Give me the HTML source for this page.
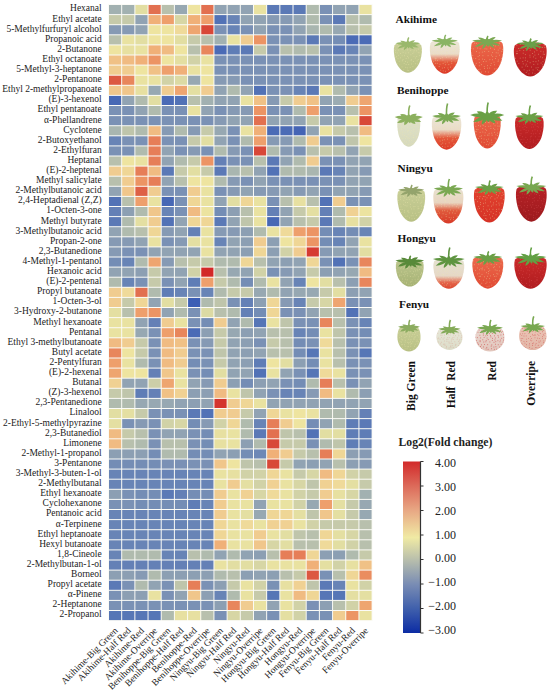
<!DOCTYPE html>
<html><head><meta charset="utf-8"><style>
html,body{margin:0;padding:0;background:#fff;width:550px;height:690px;overflow:hidden}
svg{display:block;font-family:"Liberation Serif",serif;fill:#1a1a1a}
</style></head><body>
<svg width="550" height="690" viewBox="0 0 550 690">
<g font-size="9.5" fill="#222">
<text x="101.7" y="11.45" text-anchor="end">Hexanal</text>
<text x="101.7" y="21.55" text-anchor="end">Ethyl acetate</text>
<text x="101.7" y="31.65" text-anchor="end">5-Methylfurfuryl alcohol</text>
<text x="101.7" y="41.75" text-anchor="end">Propanoic acid</text>
<text x="101.7" y="51.85" text-anchor="end">2-Butanone</text>
<text x="101.7" y="61.95" text-anchor="end">Ethyl octanoate</text>
<text x="101.7" y="72.05" text-anchor="end">5-Methyl-3-heptanone</text>
<text x="101.7" y="82.15" text-anchor="end">2-Pentanone</text>
<text x="101.7" y="92.25" text-anchor="end">Ethyl 2-methylpropanoate</text>
<text x="101.7" y="102.35" text-anchor="end">(E)-3-hexenol</text>
<text x="101.7" y="112.45" text-anchor="end">Ethyl pentanoate</text>
<text x="101.7" y="122.55" text-anchor="end">α-Phellandrene</text>
<text x="101.7" y="132.65" text-anchor="end">Cyclotene</text>
<text x="101.7" y="142.75" text-anchor="end">2-Butoxyethanol</text>
<text x="101.7" y="152.85" text-anchor="end">2-Ethylfuran</text>
<text x="101.7" y="162.95" text-anchor="end">Heptanal</text>
<text x="101.7" y="173.05" text-anchor="end">(E)-2-heptenal</text>
<text x="101.7" y="183.15" text-anchor="end">Methyl salicylate</text>
<text x="101.7" y="193.25" text-anchor="end">2-Methylbutanoic acid</text>
<text x="101.7" y="203.35" text-anchor="end">2,4-Heptadienal (Z,Z)</text>
<text x="101.7" y="213.45" text-anchor="end">1-Octen-3-one</text>
<text x="101.7" y="223.55" text-anchor="end">Methyl butyrate</text>
<text x="101.7" y="233.65" text-anchor="end">3-Methylbutanoic acid</text>
<text x="101.7" y="243.75" text-anchor="end">Propan-2-one</text>
<text x="101.7" y="253.85" text-anchor="end">2,3-Butanedione</text>
<text x="101.7" y="263.95" text-anchor="end">4-Methyl-1-pentanol</text>
<text x="101.7" y="274.05" text-anchor="end">Hexanoic acid</text>
<text x="101.7" y="284.15" text-anchor="end">(E)-2-pentenal</text>
<text x="101.7" y="294.25" text-anchor="end">Propyl butanoate</text>
<text x="101.7" y="304.35" text-anchor="end">1-Octen-3-ol</text>
<text x="101.7" y="314.45" text-anchor="end">3-Hydroxy-2-butanone</text>
<text x="101.7" y="324.55" text-anchor="end">Methyl hexanoate</text>
<text x="101.7" y="334.65" text-anchor="end">Pentanal</text>
<text x="101.7" y="344.75" text-anchor="end">Ethyl 3-methylbutanoate</text>
<text x="101.7" y="354.85" text-anchor="end">Butyl acetate</text>
<text x="101.7" y="364.95" text-anchor="end">2-Pentylfuran</text>
<text x="101.7" y="375.05" text-anchor="end">(E)-2-hexenal</text>
<text x="101.7" y="385.15" text-anchor="end">Butanal</text>
<text x="101.7" y="395.25" text-anchor="end">(Z)-3-hexenol</text>
<text x="101.7" y="405.35" text-anchor="end">2,3-Pentanedione</text>
<text x="101.7" y="415.45" text-anchor="end">Linalool</text>
<text x="101.7" y="425.55" text-anchor="end">2-Ethyl-5-methylpyrazine</text>
<text x="101.7" y="435.65" text-anchor="end">2,3-Butanediol</text>
<text x="101.7" y="445.75" text-anchor="end">Limonene</text>
<text x="101.7" y="455.85" text-anchor="end">2-Methyl-1-propanol</text>
<text x="101.7" y="465.95" text-anchor="end">3-Pentanone</text>
<text x="101.7" y="476.05" text-anchor="end">3-Methyl-3-buten-1-ol</text>
<text x="101.7" y="486.15" text-anchor="end">2-Methylbutanal</text>
<text x="101.7" y="496.25" text-anchor="end">Ethyl hexanoate</text>
<text x="101.7" y="506.35" text-anchor="end">Cyclohexanone</text>
<text x="101.7" y="516.45" text-anchor="end">Pentanoic acid</text>
<text x="101.7" y="526.55" text-anchor="end">α-Terpinene</text>
<text x="101.7" y="536.65" text-anchor="end">Ethyl heptanoate</text>
<text x="101.7" y="546.75" text-anchor="end">Hexyl butanoate</text>
<text x="101.7" y="556.85" text-anchor="end">1,8-Cineole</text>
<text x="101.7" y="566.95" text-anchor="end">2-Methylbutan-1-ol</text>
<text x="101.7" y="577.05" text-anchor="end">Borneol</text>
<text x="101.7" y="587.15" text-anchor="end">Propyl acetate</text>
<text x="101.7" y="597.25" text-anchor="end">α-Pinene</text>
<text x="101.7" y="607.35" text-anchor="end">2-Heptanone</text>
<text x="101.7" y="617.45" text-anchor="end">2-Propanol</text>
<text transform="translate(118.29,631.2) rotate(-45)" text-anchor="end">Akihime-Big Green</text>
<text transform="translate(131.47,631.2) rotate(-45)" text-anchor="end">Akihime-Half Red</text>
<text transform="translate(144.65,631.2) rotate(-45)" text-anchor="end">Akihime-Red</text>
<text transform="translate(157.83,631.2) rotate(-45)" text-anchor="end">Akihime-Overripe</text>
<text transform="translate(171.01,631.2) rotate(-45)" text-anchor="end">Benihoppe-Big Green</text>
<text transform="translate(184.19,631.2) rotate(-45)" text-anchor="end">Benihoppe-Half Red</text>
<text transform="translate(197.37,631.2) rotate(-45)" text-anchor="end">Benihoppe-Red</text>
<text transform="translate(210.55,631.2) rotate(-45)" text-anchor="end">Benihoppe-Overripe</text>
<text transform="translate(223.73,631.2) rotate(-45)" text-anchor="end">Ningyu-Big Green</text>
<text transform="translate(236.91,631.2) rotate(-45)" text-anchor="end">Ningyu-Half Red</text>
<text transform="translate(250.09,631.2) rotate(-45)" text-anchor="end">Ningyu-Red</text>
<text transform="translate(263.27,631.2) rotate(-45)" text-anchor="end">Ningyu-Overripe</text>
<text transform="translate(276.45,631.2) rotate(-45)" text-anchor="end">Hongyu-Big Green</text>
<text transform="translate(289.63,631.2) rotate(-45)" text-anchor="end">Hongyu-Half Red</text>
<text transform="translate(302.81,631.2) rotate(-45)" text-anchor="end">Hongyu-Red</text>
<text transform="translate(315.99,631.2) rotate(-45)" text-anchor="end">Hongyu-Overripe</text>
<text transform="translate(329.17,631.2) rotate(-45)" text-anchor="end">Fenyu-Big Green</text>
<text transform="translate(342.35,631.2) rotate(-45)" text-anchor="end">Fenyu-Half Red</text>
<text transform="translate(355.53,631.2) rotate(-45)" text-anchor="end">Fenyu-Red</text>
<text transform="translate(368.71,631.2) rotate(-45)" text-anchor="end">Fenyu-Overripe</text>
</g>
<rect x="108.0" y="4.0" width="264.60" height="617.10" fill="#fbfbf6"/>
<rect x="109.00" y="5.00" width="12.18" height="9.10" fill="#a2b1b1"/>
<rect x="122.18" y="5.00" width="12.18" height="9.10" fill="#a2b1b1"/>
<rect x="135.36" y="5.00" width="12.18" height="9.10" fill="#e2dea2"/>
<rect x="148.54" y="5.00" width="12.18" height="9.10" fill="#e27050"/>
<rect x="161.72" y="5.00" width="12.18" height="9.10" fill="#b8c0ad"/>
<rect x="174.90" y="5.00" width="12.18" height="9.10" fill="#97a8b2"/>
<rect x="188.08" y="5.00" width="12.18" height="9.10" fill="#eee4a0"/>
<rect x="201.26" y="5.00" width="12.18" height="9.10" fill="#e27050"/>
<rect x="214.44" y="5.00" width="12.18" height="9.10" fill="#91a3b3"/>
<rect x="227.62" y="5.00" width="12.18" height="9.10" fill="#91a3b3"/>
<rect x="240.80" y="5.00" width="12.18" height="9.10" fill="#91a3b3"/>
<rect x="253.98" y="5.00" width="12.18" height="9.10" fill="#e9e2a1"/>
<rect x="267.16" y="5.00" width="12.18" height="9.10" fill="#5b79b6"/>
<rect x="280.34" y="5.00" width="12.18" height="9.10" fill="#5b79b6"/>
<rect x="293.52" y="5.00" width="12.18" height="9.10" fill="#5b79b6"/>
<rect x="306.70" y="5.00" width="12.18" height="9.10" fill="#b0bbae"/>
<rect x="319.88" y="5.00" width="12.18" height="9.10" fill="#7a91b5"/>
<rect x="333.06" y="5.00" width="12.18" height="9.10" fill="#91a3b3"/>
<rect x="346.24" y="5.00" width="12.18" height="9.10" fill="#91a3b3"/>
<rect x="359.42" y="5.00" width="12.18" height="9.10" fill="#e9e2a1"/>
<rect x="109.00" y="15.10" width="12.18" height="9.10" fill="#c6caaa"/>
<rect x="122.18" y="15.10" width="12.18" height="9.10" fill="#c6caaa"/>
<rect x="135.36" y="15.10" width="12.18" height="9.10" fill="#91a3b3"/>
<rect x="148.54" y="15.10" width="12.18" height="9.10" fill="#f0b078"/>
<rect x="161.72" y="15.10" width="12.18" height="9.10" fill="#ee9f6c"/>
<rect x="174.90" y="15.10" width="12.18" height="9.10" fill="#d7d6a5"/>
<rect x="188.08" y="15.10" width="12.18" height="9.10" fill="#f0b078"/>
<rect x="201.26" y="15.10" width="12.18" height="9.10" fill="#ee9f6c"/>
<rect x="214.44" y="15.10" width="12.18" height="9.10" fill="#5272b6"/>
<rect x="227.62" y="15.10" width="12.18" height="9.10" fill="#6884b6"/>
<rect x="240.80" y="15.10" width="12.18" height="9.10" fill="#91a3b3"/>
<rect x="253.98" y="15.10" width="12.18" height="9.10" fill="#91a3b3"/>
<rect x="267.16" y="15.10" width="12.18" height="9.10" fill="#869ab4"/>
<rect x="280.34" y="15.10" width="12.18" height="9.10" fill="#869ab4"/>
<rect x="293.52" y="15.10" width="12.18" height="9.10" fill="#91a3b3"/>
<rect x="306.70" y="15.10" width="12.18" height="9.10" fill="#b0bbae"/>
<rect x="319.88" y="15.10" width="12.18" height="9.10" fill="#7a91b5"/>
<rect x="333.06" y="15.10" width="12.18" height="9.10" fill="#5b79b6"/>
<rect x="346.24" y="15.10" width="12.18" height="9.10" fill="#b8c0ad"/>
<rect x="359.42" y="15.10" width="12.18" height="9.10" fill="#b0bbae"/>
<rect x="109.00" y="25.20" width="12.18" height="9.10" fill="#869ab4"/>
<rect x="122.18" y="25.20" width="12.18" height="9.10" fill="#869ab4"/>
<rect x="135.36" y="25.20" width="12.18" height="9.10" fill="#91a3b3"/>
<rect x="148.54" y="25.20" width="12.18" height="9.10" fill="#eee4a0"/>
<rect x="161.72" y="25.20" width="12.18" height="9.10" fill="#eee4a0"/>
<rect x="174.90" y="25.20" width="12.18" height="9.10" fill="#efda9a"/>
<rect x="188.08" y="25.20" width="12.18" height="9.10" fill="#eea570"/>
<rect x="201.26" y="25.20" width="12.18" height="9.10" fill="#d84838"/>
<rect x="214.44" y="25.20" width="12.18" height="9.10" fill="#7a91b5"/>
<rect x="227.62" y="25.20" width="12.18" height="9.10" fill="#6884b6"/>
<rect x="240.80" y="25.20" width="12.18" height="9.10" fill="#7a91b5"/>
<rect x="253.98" y="25.20" width="12.18" height="9.10" fill="#91a3b3"/>
<rect x="267.16" y="25.20" width="12.18" height="9.10" fill="#7a91b5"/>
<rect x="280.34" y="25.20" width="12.18" height="9.10" fill="#7a91b5"/>
<rect x="293.52" y="25.20" width="12.18" height="9.10" fill="#91a3b3"/>
<rect x="306.70" y="25.20" width="12.18" height="9.10" fill="#a9b6b0"/>
<rect x="319.88" y="25.20" width="12.18" height="9.10" fill="#b0bbae"/>
<rect x="333.06" y="25.20" width="12.18" height="9.10" fill="#97a8b2"/>
<rect x="346.24" y="25.20" width="12.18" height="9.10" fill="#b8c0ad"/>
<rect x="359.42" y="25.20" width="12.18" height="9.10" fill="#c6caaa"/>
<rect x="109.00" y="35.30" width="12.18" height="9.10" fill="#b8c0ad"/>
<rect x="122.18" y="35.30" width="12.18" height="9.10" fill="#e9e2a1"/>
<rect x="135.36" y="35.30" width="12.18" height="9.10" fill="#e2dea2"/>
<rect x="148.54" y="35.30" width="12.18" height="9.10" fill="#eee4a0"/>
<rect x="161.72" y="35.30" width="12.18" height="9.10" fill="#eee4a0"/>
<rect x="174.90" y="35.30" width="12.18" height="9.10" fill="#e2dea2"/>
<rect x="188.08" y="35.30" width="12.18" height="9.10" fill="#c6caaa"/>
<rect x="201.26" y="35.30" width="12.18" height="9.10" fill="#b8c0ad"/>
<rect x="214.44" y="35.30" width="12.18" height="9.10" fill="#a2b1b1"/>
<rect x="227.62" y="35.30" width="12.18" height="9.10" fill="#e9e2a1"/>
<rect x="240.80" y="35.30" width="12.18" height="9.10" fill="#f0cc90"/>
<rect x="253.98" y="35.30" width="12.18" height="9.10" fill="#ec9464"/>
<rect x="267.16" y="35.30" width="12.18" height="9.10" fill="#7a91b5"/>
<rect x="280.34" y="35.30" width="12.18" height="9.10" fill="#7a91b5"/>
<rect x="293.52" y="35.30" width="12.18" height="9.10" fill="#7a91b5"/>
<rect x="306.70" y="35.30" width="12.18" height="9.10" fill="#5b79b6"/>
<rect x="319.88" y="35.30" width="12.18" height="9.10" fill="#7a91b5"/>
<rect x="333.06" y="35.30" width="12.18" height="9.10" fill="#748db5"/>
<rect x="346.24" y="35.30" width="12.18" height="9.10" fill="#4b6bb6"/>
<rect x="359.42" y="35.30" width="12.18" height="9.10" fill="#4b6bb6"/>
<rect x="109.00" y="45.40" width="12.18" height="9.10" fill="#eee4a0"/>
<rect x="122.18" y="45.40" width="12.18" height="9.10" fill="#e7e0a1"/>
<rect x="135.36" y="45.40" width="12.18" height="9.10" fill="#e9e2a1"/>
<rect x="148.54" y="45.40" width="12.18" height="9.10" fill="#f0b078"/>
<rect x="161.72" y="45.40" width="12.18" height="9.10" fill="#f0bb82"/>
<rect x="174.90" y="45.40" width="12.18" height="9.10" fill="#eee4a0"/>
<rect x="188.08" y="45.40" width="12.18" height="9.10" fill="#b8c0ad"/>
<rect x="201.26" y="45.40" width="12.18" height="9.10" fill="#e8865c"/>
<rect x="214.44" y="45.40" width="12.18" height="9.10" fill="#4b6bb6"/>
<rect x="227.62" y="45.40" width="12.18" height="9.10" fill="#5f7db6"/>
<rect x="240.80" y="45.40" width="12.18" height="9.10" fill="#5b79b6"/>
<rect x="253.98" y="45.40" width="12.18" height="9.10" fill="#c6caaa"/>
<rect x="267.16" y="45.40" width="12.18" height="9.10" fill="#7a91b5"/>
<rect x="280.34" y="45.40" width="12.18" height="9.10" fill="#b8c0ad"/>
<rect x="293.52" y="45.40" width="12.18" height="9.10" fill="#b0bbae"/>
<rect x="306.70" y="45.40" width="12.18" height="9.10" fill="#b8c0ad"/>
<rect x="319.88" y="45.40" width="12.18" height="9.10" fill="#7a91b5"/>
<rect x="333.06" y="45.40" width="12.18" height="9.10" fill="#5b79b6"/>
<rect x="346.24" y="45.40" width="12.18" height="9.10" fill="#6884b6"/>
<rect x="359.42" y="45.40" width="12.18" height="9.10" fill="#91a3b3"/>
<rect x="109.00" y="55.50" width="12.18" height="9.10" fill="#f0c186"/>
<rect x="122.18" y="55.50" width="12.18" height="9.10" fill="#f0bb82"/>
<rect x="135.36" y="55.50" width="12.18" height="9.10" fill="#f0b078"/>
<rect x="148.54" y="55.50" width="12.18" height="9.10" fill="#ec9464"/>
<rect x="161.72" y="55.50" width="12.18" height="9.10" fill="#eee4a0"/>
<rect x="174.90" y="55.50" width="12.18" height="9.10" fill="#e4dfa2"/>
<rect x="188.08" y="55.50" width="12.18" height="9.10" fill="#d1d2a7"/>
<rect x="201.26" y="55.50" width="12.18" height="9.10" fill="#e9e2a1"/>
<rect x="214.44" y="55.50" width="12.18" height="9.10" fill="#7a91b5"/>
<rect x="227.62" y="55.50" width="12.18" height="9.10" fill="#7a91b5"/>
<rect x="240.80" y="55.50" width="12.18" height="9.10" fill="#7a91b5"/>
<rect x="253.98" y="55.50" width="12.18" height="9.10" fill="#7a91b5"/>
<rect x="267.16" y="55.50" width="12.18" height="9.10" fill="#7a91b5"/>
<rect x="280.34" y="55.50" width="12.18" height="9.10" fill="#7a91b5"/>
<rect x="293.52" y="55.50" width="12.18" height="9.10" fill="#7a91b5"/>
<rect x="306.70" y="55.50" width="12.18" height="9.10" fill="#7a91b5"/>
<rect x="319.88" y="55.50" width="12.18" height="9.10" fill="#7a91b5"/>
<rect x="333.06" y="55.50" width="12.18" height="9.10" fill="#7a91b5"/>
<rect x="346.24" y="55.50" width="12.18" height="9.10" fill="#7a91b5"/>
<rect x="359.42" y="55.50" width="12.18" height="9.10" fill="#7a91b5"/>
<rect x="109.00" y="65.60" width="12.18" height="9.10" fill="#f0cc90"/>
<rect x="122.18" y="65.60" width="12.18" height="9.10" fill="#f0cc90"/>
<rect x="135.36" y="65.60" width="12.18" height="9.10" fill="#eee4a0"/>
<rect x="148.54" y="65.60" width="12.18" height="9.10" fill="#f0c186"/>
<rect x="161.72" y="65.60" width="12.18" height="9.10" fill="#ee9f6c"/>
<rect x="174.90" y="65.60" width="12.18" height="9.10" fill="#f0b078"/>
<rect x="188.08" y="65.60" width="12.18" height="9.10" fill="#e9e2a1"/>
<rect x="201.26" y="65.60" width="12.18" height="9.10" fill="#eee4a0"/>
<rect x="214.44" y="65.60" width="12.18" height="9.10" fill="#7a91b5"/>
<rect x="227.62" y="65.60" width="12.18" height="9.10" fill="#7a91b5"/>
<rect x="240.80" y="65.60" width="12.18" height="9.10" fill="#7a91b5"/>
<rect x="253.98" y="65.60" width="12.18" height="9.10" fill="#7a91b5"/>
<rect x="267.16" y="65.60" width="12.18" height="9.10" fill="#7a91b5"/>
<rect x="280.34" y="65.60" width="12.18" height="9.10" fill="#7a91b5"/>
<rect x="293.52" y="65.60" width="12.18" height="9.10" fill="#7a91b5"/>
<rect x="306.70" y="65.60" width="12.18" height="9.10" fill="#7a91b5"/>
<rect x="319.88" y="65.60" width="12.18" height="9.10" fill="#7a91b5"/>
<rect x="333.06" y="65.60" width="12.18" height="9.10" fill="#7a91b5"/>
<rect x="346.24" y="65.60" width="12.18" height="9.10" fill="#7a91b5"/>
<rect x="359.42" y="65.60" width="12.18" height="9.10" fill="#7a91b5"/>
<rect x="109.00" y="75.70" width="12.18" height="9.10" fill="#dc5842"/>
<rect x="122.18" y="75.70" width="12.18" height="9.10" fill="#e8865c"/>
<rect x="135.36" y="75.70" width="12.18" height="9.10" fill="#e9e2a1"/>
<rect x="148.54" y="75.70" width="12.18" height="9.10" fill="#e9e2a1"/>
<rect x="161.72" y="75.70" width="12.18" height="9.10" fill="#d1d2a7"/>
<rect x="174.90" y="75.70" width="12.18" height="9.10" fill="#dcdaa4"/>
<rect x="188.08" y="75.70" width="12.18" height="9.10" fill="#97a8b2"/>
<rect x="201.26" y="75.70" width="12.18" height="9.10" fill="#eee4a0"/>
<rect x="214.44" y="75.70" width="12.18" height="9.10" fill="#869ab4"/>
<rect x="227.62" y="75.70" width="12.18" height="9.10" fill="#869ab4"/>
<rect x="240.80" y="75.70" width="12.18" height="9.10" fill="#7a91b5"/>
<rect x="253.98" y="75.70" width="12.18" height="9.10" fill="#7a91b5"/>
<rect x="267.16" y="75.70" width="12.18" height="9.10" fill="#7a91b5"/>
<rect x="280.34" y="75.70" width="12.18" height="9.10" fill="#7a91b5"/>
<rect x="293.52" y="75.70" width="12.18" height="9.10" fill="#7a91b5"/>
<rect x="306.70" y="75.70" width="12.18" height="9.10" fill="#7a91b5"/>
<rect x="319.88" y="75.70" width="12.18" height="9.10" fill="#7a91b5"/>
<rect x="333.06" y="75.70" width="12.18" height="9.10" fill="#7a91b5"/>
<rect x="346.24" y="75.70" width="12.18" height="9.10" fill="#7a91b5"/>
<rect x="359.42" y="75.70" width="12.18" height="9.10" fill="#7a91b5"/>
<rect x="109.00" y="85.80" width="12.18" height="9.10" fill="#f0c68b"/>
<rect x="122.18" y="85.80" width="12.18" height="9.10" fill="#f0c68b"/>
<rect x="135.36" y="85.80" width="12.18" height="9.10" fill="#e7e0a1"/>
<rect x="148.54" y="85.80" width="12.18" height="9.10" fill="#97a8b2"/>
<rect x="161.72" y="85.80" width="12.18" height="9.10" fill="#f0cc90"/>
<rect x="174.90" y="85.80" width="12.18" height="9.10" fill="#eea570"/>
<rect x="188.08" y="85.80" width="12.18" height="9.10" fill="#e4dfa2"/>
<rect x="201.26" y="85.80" width="12.18" height="9.10" fill="#f0cc90"/>
<rect x="214.44" y="85.80" width="12.18" height="9.10" fill="#91a3b3"/>
<rect x="227.62" y="85.80" width="12.18" height="9.10" fill="#b0bbae"/>
<rect x="240.80" y="85.80" width="12.18" height="9.10" fill="#91a3b3"/>
<rect x="253.98" y="85.80" width="12.18" height="9.10" fill="#5272b6"/>
<rect x="267.16" y="85.80" width="12.18" height="9.10" fill="#7a91b5"/>
<rect x="280.34" y="85.80" width="12.18" height="9.10" fill="#7a91b5"/>
<rect x="293.52" y="85.80" width="12.18" height="9.10" fill="#6884b6"/>
<rect x="306.70" y="85.80" width="12.18" height="9.10" fill="#5b79b6"/>
<rect x="319.88" y="85.80" width="12.18" height="9.10" fill="#e9e2a1"/>
<rect x="333.06" y="85.80" width="12.18" height="9.10" fill="#b0bbae"/>
<rect x="346.24" y="85.80" width="12.18" height="9.10" fill="#91a3b3"/>
<rect x="359.42" y="85.80" width="12.18" height="9.10" fill="#7a91b5"/>
<rect x="109.00" y="95.90" width="12.18" height="9.10" fill="#4768b5"/>
<rect x="122.18" y="95.90" width="12.18" height="9.10" fill="#91a3b3"/>
<rect x="135.36" y="95.90" width="12.18" height="9.10" fill="#b0bbae"/>
<rect x="148.54" y="95.90" width="12.18" height="9.10" fill="#e2dea2"/>
<rect x="161.72" y="95.90" width="12.18" height="9.10" fill="#4b6bb6"/>
<rect x="174.90" y="95.90" width="12.18" height="9.10" fill="#5272b6"/>
<rect x="188.08" y="95.90" width="12.18" height="9.10" fill="#b8c0ad"/>
<rect x="201.26" y="95.90" width="12.18" height="9.10" fill="#a2b1b1"/>
<rect x="214.44" y="95.90" width="12.18" height="9.10" fill="#91a3b3"/>
<rect x="227.62" y="95.90" width="12.18" height="9.10" fill="#91a3b3"/>
<rect x="240.80" y="95.90" width="12.18" height="9.10" fill="#e9e2a1"/>
<rect x="253.98" y="95.90" width="12.18" height="9.10" fill="#f0c186"/>
<rect x="267.16" y="95.90" width="12.18" height="9.10" fill="#869ab4"/>
<rect x="280.34" y="95.90" width="12.18" height="9.10" fill="#c6caaa"/>
<rect x="293.52" y="95.90" width="12.18" height="9.10" fill="#f0cc90"/>
<rect x="306.70" y="95.90" width="12.18" height="9.10" fill="#f0c186"/>
<rect x="319.88" y="95.90" width="12.18" height="9.10" fill="#91a3b3"/>
<rect x="333.06" y="95.90" width="12.18" height="9.10" fill="#9cacb2"/>
<rect x="346.24" y="95.90" width="12.18" height="9.10" fill="#f0cc90"/>
<rect x="359.42" y="95.90" width="12.18" height="9.10" fill="#eea570"/>
<rect x="109.00" y="106.00" width="12.18" height="9.10" fill="#7a91b5"/>
<rect x="122.18" y="106.00" width="12.18" height="9.10" fill="#7a91b5"/>
<rect x="135.36" y="106.00" width="12.18" height="9.10" fill="#91a3b3"/>
<rect x="148.54" y="106.00" width="12.18" height="9.10" fill="#b0bbae"/>
<rect x="161.72" y="106.00" width="12.18" height="9.10" fill="#7a91b5"/>
<rect x="174.90" y="106.00" width="12.18" height="9.10" fill="#7a91b5"/>
<rect x="188.08" y="106.00" width="12.18" height="9.10" fill="#e9e2a1"/>
<rect x="201.26" y="106.00" width="12.18" height="9.10" fill="#91a3b3"/>
<rect x="214.44" y="106.00" width="12.18" height="9.10" fill="#7a91b5"/>
<rect x="227.62" y="106.00" width="12.18" height="9.10" fill="#869ab4"/>
<rect x="240.80" y="106.00" width="12.18" height="9.10" fill="#869ab4"/>
<rect x="253.98" y="106.00" width="12.18" height="9.10" fill="#ec9464"/>
<rect x="267.16" y="106.00" width="12.18" height="9.10" fill="#7a91b5"/>
<rect x="280.34" y="106.00" width="12.18" height="9.10" fill="#7a91b5"/>
<rect x="293.52" y="106.00" width="12.18" height="9.10" fill="#b0bbae"/>
<rect x="306.70" y="106.00" width="12.18" height="9.10" fill="#ee9f6c"/>
<rect x="319.88" y="106.00" width="12.18" height="9.10" fill="#7a91b5"/>
<rect x="333.06" y="106.00" width="12.18" height="9.10" fill="#7a91b5"/>
<rect x="346.24" y="106.00" width="12.18" height="9.10" fill="#b8c0ad"/>
<rect x="359.42" y="106.00" width="12.18" height="9.10" fill="#ec9464"/>
<rect x="109.00" y="116.10" width="12.18" height="9.10" fill="#7a91b5"/>
<rect x="122.18" y="116.10" width="12.18" height="9.10" fill="#7a91b5"/>
<rect x="135.36" y="116.10" width="12.18" height="9.10" fill="#7a91b5"/>
<rect x="148.54" y="116.10" width="12.18" height="9.10" fill="#7a91b5"/>
<rect x="161.72" y="116.10" width="12.18" height="9.10" fill="#7a91b5"/>
<rect x="174.90" y="116.10" width="12.18" height="9.10" fill="#7a91b5"/>
<rect x="188.08" y="116.10" width="12.18" height="9.10" fill="#7a91b5"/>
<rect x="201.26" y="116.10" width="12.18" height="9.10" fill="#7a91b5"/>
<rect x="214.44" y="116.10" width="12.18" height="9.10" fill="#869ab4"/>
<rect x="227.62" y="116.10" width="12.18" height="9.10" fill="#91a3b3"/>
<rect x="240.80" y="116.10" width="12.18" height="9.10" fill="#91a3b3"/>
<rect x="253.98" y="116.10" width="12.18" height="9.10" fill="#e27050"/>
<rect x="267.16" y="116.10" width="12.18" height="9.10" fill="#91a3b3"/>
<rect x="280.34" y="116.10" width="12.18" height="9.10" fill="#91a3b3"/>
<rect x="293.52" y="116.10" width="12.18" height="9.10" fill="#91a3b3"/>
<rect x="306.70" y="116.10" width="12.18" height="9.10" fill="#c6caaa"/>
<rect x="319.88" y="116.10" width="12.18" height="9.10" fill="#91a3b3"/>
<rect x="333.06" y="116.10" width="12.18" height="9.10" fill="#91a3b3"/>
<rect x="346.24" y="116.10" width="12.18" height="9.10" fill="#e9e2a1"/>
<rect x="359.42" y="116.10" width="12.18" height="9.10" fill="#d84838"/>
<rect x="109.00" y="126.20" width="12.18" height="9.10" fill="#a9b6b0"/>
<rect x="122.18" y="126.20" width="12.18" height="9.10" fill="#bfc5ab"/>
<rect x="135.36" y="126.20" width="12.18" height="9.10" fill="#b0bbae"/>
<rect x="148.54" y="126.20" width="12.18" height="9.10" fill="#f0bb82"/>
<rect x="161.72" y="126.20" width="12.18" height="9.10" fill="#869ab4"/>
<rect x="174.90" y="126.20" width="12.18" height="9.10" fill="#b0bbae"/>
<rect x="188.08" y="126.20" width="12.18" height="9.10" fill="#869ab4"/>
<rect x="201.26" y="126.20" width="12.18" height="9.10" fill="#c6caaa"/>
<rect x="214.44" y="126.20" width="12.18" height="9.10" fill="#97a8b2"/>
<rect x="227.62" y="126.20" width="12.18" height="9.10" fill="#7a91b5"/>
<rect x="240.80" y="126.20" width="12.18" height="9.10" fill="#e9e2a1"/>
<rect x="253.98" y="126.20" width="12.18" height="9.10" fill="#f0b078"/>
<rect x="267.16" y="126.20" width="12.18" height="9.10" fill="#4b6bb6"/>
<rect x="280.34" y="126.20" width="12.18" height="9.10" fill="#4b6bb6"/>
<rect x="293.52" y="126.20" width="12.18" height="9.10" fill="#4464b5"/>
<rect x="306.70" y="126.20" width="12.18" height="9.10" fill="#91a3b3"/>
<rect x="319.88" y="126.20" width="12.18" height="9.10" fill="#e9e2a1"/>
<rect x="333.06" y="126.20" width="12.18" height="9.10" fill="#c6caaa"/>
<rect x="346.24" y="126.20" width="12.18" height="9.10" fill="#b8c0ad"/>
<rect x="359.42" y="126.20" width="12.18" height="9.10" fill="#f0bb82"/>
<rect x="109.00" y="136.30" width="12.18" height="9.10" fill="#6884b6"/>
<rect x="122.18" y="136.30" width="12.18" height="9.10" fill="#7a91b5"/>
<rect x="135.36" y="136.30" width="12.18" height="9.10" fill="#7a91b5"/>
<rect x="148.54" y="136.30" width="12.18" height="9.10" fill="#e67e58"/>
<rect x="161.72" y="136.30" width="12.18" height="9.10" fill="#7a91b5"/>
<rect x="174.90" y="136.30" width="12.18" height="9.10" fill="#7a91b5"/>
<rect x="188.08" y="136.30" width="12.18" height="9.10" fill="#c6caaa"/>
<rect x="201.26" y="136.30" width="12.18" height="9.10" fill="#e2dea2"/>
<rect x="214.44" y="136.30" width="12.18" height="9.10" fill="#91a3b3"/>
<rect x="227.62" y="136.30" width="12.18" height="9.10" fill="#7a91b5"/>
<rect x="240.80" y="136.30" width="12.18" height="9.10" fill="#b0bbae"/>
<rect x="253.98" y="136.30" width="12.18" height="9.10" fill="#ee9f6c"/>
<rect x="267.16" y="136.30" width="12.18" height="9.10" fill="#869ab4"/>
<rect x="280.34" y="136.30" width="12.18" height="9.10" fill="#869ab4"/>
<rect x="293.52" y="136.30" width="12.18" height="9.10" fill="#b0bbae"/>
<rect x="306.70" y="136.30" width="12.18" height="9.10" fill="#f0cc90"/>
<rect x="319.88" y="136.30" width="12.18" height="9.10" fill="#7a91b5"/>
<rect x="333.06" y="136.30" width="12.18" height="9.10" fill="#7a91b5"/>
<rect x="346.24" y="136.30" width="12.18" height="9.10" fill="#bfc5ab"/>
<rect x="359.42" y="136.30" width="12.18" height="9.10" fill="#eee4a0"/>
<rect x="109.00" y="146.40" width="12.18" height="9.10" fill="#7a91b5"/>
<rect x="122.18" y="146.40" width="12.18" height="9.10" fill="#7a91b5"/>
<rect x="135.36" y="146.40" width="12.18" height="9.10" fill="#b0bbae"/>
<rect x="148.54" y="146.40" width="12.18" height="9.10" fill="#e67e58"/>
<rect x="161.72" y="146.40" width="12.18" height="9.10" fill="#91a3b3"/>
<rect x="174.90" y="146.40" width="12.18" height="9.10" fill="#7a91b5"/>
<rect x="188.08" y="146.40" width="12.18" height="9.10" fill="#869ab4"/>
<rect x="201.26" y="146.40" width="12.18" height="9.10" fill="#7a91b5"/>
<rect x="214.44" y="146.40" width="12.18" height="9.10" fill="#b0bbae"/>
<rect x="227.62" y="146.40" width="12.18" height="9.10" fill="#869ab4"/>
<rect x="240.80" y="146.40" width="12.18" height="9.10" fill="#7a91b5"/>
<rect x="253.98" y="146.40" width="12.18" height="9.10" fill="#d84838"/>
<rect x="267.16" y="146.40" width="12.18" height="9.10" fill="#b0bbae"/>
<rect x="280.34" y="146.40" width="12.18" height="9.10" fill="#869ab4"/>
<rect x="293.52" y="146.40" width="12.18" height="9.10" fill="#7a91b5"/>
<rect x="306.70" y="146.40" width="12.18" height="9.10" fill="#b8c0ad"/>
<rect x="319.88" y="146.40" width="12.18" height="9.10" fill="#c6caaa"/>
<rect x="333.06" y="146.40" width="12.18" height="9.10" fill="#b8c0ad"/>
<rect x="346.24" y="146.40" width="12.18" height="9.10" fill="#91a3b3"/>
<rect x="359.42" y="146.40" width="12.18" height="9.10" fill="#c6caaa"/>
<rect x="109.00" y="156.50" width="12.18" height="9.10" fill="#b8c0ad"/>
<rect x="122.18" y="156.50" width="12.18" height="9.10" fill="#eee4a0"/>
<rect x="135.36" y="156.50" width="12.18" height="9.10" fill="#e9e2a1"/>
<rect x="148.54" y="156.50" width="12.18" height="9.10" fill="#e67e58"/>
<rect x="161.72" y="156.50" width="12.18" height="9.10" fill="#91a3b3"/>
<rect x="174.90" y="156.50" width="12.18" height="9.10" fill="#b0bbae"/>
<rect x="188.08" y="156.50" width="12.18" height="9.10" fill="#c6caaa"/>
<rect x="201.26" y="156.50" width="12.18" height="9.10" fill="#ec9464"/>
<rect x="214.44" y="156.50" width="12.18" height="9.10" fill="#6480b6"/>
<rect x="227.62" y="156.50" width="12.18" height="9.10" fill="#7a91b5"/>
<rect x="240.80" y="156.50" width="12.18" height="9.10" fill="#7a91b5"/>
<rect x="253.98" y="156.50" width="12.18" height="9.10" fill="#b8c0ad"/>
<rect x="267.16" y="156.50" width="12.18" height="9.10" fill="#5b79b6"/>
<rect x="280.34" y="156.50" width="12.18" height="9.10" fill="#91a3b3"/>
<rect x="293.52" y="156.50" width="12.18" height="9.10" fill="#b0bbae"/>
<rect x="306.70" y="156.50" width="12.18" height="9.10" fill="#f0cc90"/>
<rect x="319.88" y="156.50" width="12.18" height="9.10" fill="#7a91b5"/>
<rect x="333.06" y="156.50" width="12.18" height="9.10" fill="#7a91b5"/>
<rect x="346.24" y="156.50" width="12.18" height="9.10" fill="#91a3b3"/>
<rect x="359.42" y="156.50" width="12.18" height="9.10" fill="#91a3b3"/>
<rect x="109.00" y="166.60" width="12.18" height="9.10" fill="#f0cc90"/>
<rect x="122.18" y="166.60" width="12.18" height="9.10" fill="#efd696"/>
<rect x="135.36" y="166.60" width="12.18" height="9.10" fill="#e67e58"/>
<rect x="148.54" y="166.60" width="12.18" height="9.10" fill="#f0bb82"/>
<rect x="161.72" y="166.60" width="12.18" height="9.10" fill="#5b79b6"/>
<rect x="174.90" y="166.60" width="12.18" height="9.10" fill="#c6caaa"/>
<rect x="188.08" y="166.60" width="12.18" height="9.10" fill="#e2dea2"/>
<rect x="201.26" y="166.60" width="12.18" height="9.10" fill="#c6caaa"/>
<rect x="214.44" y="166.60" width="12.18" height="9.10" fill="#5b79b6"/>
<rect x="227.62" y="166.60" width="12.18" height="9.10" fill="#a9b6b0"/>
<rect x="240.80" y="166.60" width="12.18" height="9.10" fill="#b8c0ad"/>
<rect x="253.98" y="166.60" width="12.18" height="9.10" fill="#91a3b3"/>
<rect x="267.16" y="166.60" width="12.18" height="9.10" fill="#5272b6"/>
<rect x="280.34" y="166.60" width="12.18" height="9.10" fill="#b0bbae"/>
<rect x="293.52" y="166.60" width="12.18" height="9.10" fill="#b0bbae"/>
<rect x="306.70" y="166.60" width="12.18" height="9.10" fill="#a9b6b0"/>
<rect x="319.88" y="166.60" width="12.18" height="9.10" fill="#5b79b6"/>
<rect x="333.06" y="166.60" width="12.18" height="9.10" fill="#6884b6"/>
<rect x="346.24" y="166.60" width="12.18" height="9.10" fill="#91a3b3"/>
<rect x="359.42" y="166.60" width="12.18" height="9.10" fill="#869ab4"/>
<rect x="109.00" y="176.70" width="12.18" height="9.10" fill="#b8c0ad"/>
<rect x="122.18" y="176.70" width="12.18" height="9.10" fill="#f0cc90"/>
<rect x="135.36" y="176.70" width="12.18" height="9.10" fill="#ec9464"/>
<rect x="148.54" y="176.70" width="12.18" height="9.10" fill="#e67e58"/>
<rect x="161.72" y="176.70" width="12.18" height="9.10" fill="#91a3b3"/>
<rect x="174.90" y="176.70" width="12.18" height="9.10" fill="#b8c0ad"/>
<rect x="188.08" y="176.70" width="12.18" height="9.10" fill="#eee4a0"/>
<rect x="201.26" y="176.70" width="12.18" height="9.10" fill="#eee4a0"/>
<rect x="214.44" y="176.70" width="12.18" height="9.10" fill="#b0bbae"/>
<rect x="227.62" y="176.70" width="12.18" height="9.10" fill="#869ab4"/>
<rect x="240.80" y="176.70" width="12.18" height="9.10" fill="#7a91b5"/>
<rect x="253.98" y="176.70" width="12.18" height="9.10" fill="#91a3b3"/>
<rect x="267.16" y="176.70" width="12.18" height="9.10" fill="#7a91b5"/>
<rect x="280.34" y="176.70" width="12.18" height="9.10" fill="#7a91b5"/>
<rect x="293.52" y="176.70" width="12.18" height="9.10" fill="#7a91b5"/>
<rect x="306.70" y="176.70" width="12.18" height="9.10" fill="#7a91b5"/>
<rect x="319.88" y="176.70" width="12.18" height="9.10" fill="#7a91b5"/>
<rect x="333.06" y="176.70" width="12.18" height="9.10" fill="#7a91b5"/>
<rect x="346.24" y="176.70" width="12.18" height="9.10" fill="#91a3b3"/>
<rect x="359.42" y="176.70" width="12.18" height="9.10" fill="#91a3b3"/>
<rect x="109.00" y="186.80" width="12.18" height="9.10" fill="#91a3b3"/>
<rect x="122.18" y="186.80" width="12.18" height="9.10" fill="#f0c68b"/>
<rect x="135.36" y="186.80" width="12.18" height="9.10" fill="#de6046"/>
<rect x="148.54" y="186.80" width="12.18" height="9.10" fill="#f0cc90"/>
<rect x="161.72" y="186.80" width="12.18" height="9.10" fill="#7a91b5"/>
<rect x="174.90" y="186.80" width="12.18" height="9.10" fill="#7a91b5"/>
<rect x="188.08" y="186.80" width="12.18" height="9.10" fill="#f0cc90"/>
<rect x="201.26" y="186.80" width="12.18" height="9.10" fill="#e9e2a1"/>
<rect x="214.44" y="186.80" width="12.18" height="9.10" fill="#7a91b5"/>
<rect x="227.62" y="186.80" width="12.18" height="9.10" fill="#869ab4"/>
<rect x="240.80" y="186.80" width="12.18" height="9.10" fill="#91a3b3"/>
<rect x="253.98" y="186.80" width="12.18" height="9.10" fill="#869ab4"/>
<rect x="267.16" y="186.80" width="12.18" height="9.10" fill="#869ab4"/>
<rect x="280.34" y="186.80" width="12.18" height="9.10" fill="#91a3b3"/>
<rect x="293.52" y="186.80" width="12.18" height="9.10" fill="#869ab4"/>
<rect x="306.70" y="186.80" width="12.18" height="9.10" fill="#91a3b3"/>
<rect x="319.88" y="186.80" width="12.18" height="9.10" fill="#7a91b5"/>
<rect x="333.06" y="186.80" width="12.18" height="9.10" fill="#91a3b3"/>
<rect x="346.24" y="186.80" width="12.18" height="9.10" fill="#91a3b3"/>
<rect x="359.42" y="186.80" width="12.18" height="9.10" fill="#869ab4"/>
<rect x="109.00" y="196.90" width="12.18" height="9.10" fill="#5272b6"/>
<rect x="122.18" y="196.90" width="12.18" height="9.10" fill="#b8c0ad"/>
<rect x="135.36" y="196.90" width="12.18" height="9.10" fill="#ee9f6c"/>
<rect x="148.54" y="196.90" width="12.18" height="9.10" fill="#e9e2a1"/>
<rect x="161.72" y="196.90" width="12.18" height="9.10" fill="#4768b5"/>
<rect x="174.90" y="196.90" width="12.18" height="9.10" fill="#7a91b5"/>
<rect x="188.08" y="196.90" width="12.18" height="9.10" fill="#efd696"/>
<rect x="201.26" y="196.90" width="12.18" height="9.10" fill="#e9e2a1"/>
<rect x="214.44" y="196.90" width="12.18" height="9.10" fill="#91a3b3"/>
<rect x="227.62" y="196.90" width="12.18" height="9.10" fill="#e2dea2"/>
<rect x="240.80" y="196.90" width="12.18" height="9.10" fill="#efd696"/>
<rect x="253.98" y="196.90" width="12.18" height="9.10" fill="#e9e2a1"/>
<rect x="267.16" y="196.90" width="12.18" height="9.10" fill="#7a91b5"/>
<rect x="280.34" y="196.90" width="12.18" height="9.10" fill="#b8c0ad"/>
<rect x="293.52" y="196.90" width="12.18" height="9.10" fill="#e7e0a1"/>
<rect x="306.70" y="196.90" width="12.18" height="9.10" fill="#b8c0ad"/>
<rect x="319.88" y="196.90" width="12.18" height="9.10" fill="#5272b6"/>
<rect x="333.06" y="196.90" width="12.18" height="9.10" fill="#f0cc90"/>
<rect x="346.24" y="196.90" width="12.18" height="9.10" fill="#7a91b5"/>
<rect x="359.42" y="196.90" width="12.18" height="9.10" fill="#7a91b5"/>
<rect x="109.00" y="207.00" width="12.18" height="9.10" fill="#6480b6"/>
<rect x="122.18" y="207.00" width="12.18" height="9.10" fill="#8c9fb3"/>
<rect x="135.36" y="207.00" width="12.18" height="9.10" fill="#b0bbae"/>
<rect x="148.54" y="207.00" width="12.18" height="9.10" fill="#f0c68b"/>
<rect x="161.72" y="207.00" width="12.18" height="9.10" fill="#6884b6"/>
<rect x="174.90" y="207.00" width="12.18" height="9.10" fill="#7a91b5"/>
<rect x="188.08" y="207.00" width="12.18" height="9.10" fill="#f0bb82"/>
<rect x="201.26" y="207.00" width="12.18" height="9.10" fill="#ece3a0"/>
<rect x="214.44" y="207.00" width="12.18" height="9.10" fill="#748db5"/>
<rect x="227.62" y="207.00" width="12.18" height="9.10" fill="#8c9fb3"/>
<rect x="240.80" y="207.00" width="12.18" height="9.10" fill="#b8c0ad"/>
<rect x="253.98" y="207.00" width="12.18" height="9.10" fill="#e9e2a1"/>
<rect x="267.16" y="207.00" width="12.18" height="9.10" fill="#6480b6"/>
<rect x="280.34" y="207.00" width="12.18" height="9.10" fill="#91a3b3"/>
<rect x="293.52" y="207.00" width="12.18" height="9.10" fill="#c6caaa"/>
<rect x="306.70" y="207.00" width="12.18" height="9.10" fill="#e4dfa2"/>
<rect x="319.88" y="207.00" width="12.18" height="9.10" fill="#6480b6"/>
<rect x="333.06" y="207.00" width="12.18" height="9.10" fill="#b0bbae"/>
<rect x="346.24" y="207.00" width="12.18" height="9.10" fill="#f0d193"/>
<rect x="359.42" y="207.00" width="12.18" height="9.10" fill="#ece3a0"/>
<rect x="109.00" y="217.10" width="12.18" height="9.10" fill="#5b79b6"/>
<rect x="122.18" y="217.10" width="12.18" height="9.10" fill="#b0bbae"/>
<rect x="135.36" y="217.10" width="12.18" height="9.10" fill="#e4dfa2"/>
<rect x="148.54" y="217.10" width="12.18" height="9.10" fill="#f0cc90"/>
<rect x="161.72" y="217.10" width="12.18" height="9.10" fill="#5272b6"/>
<rect x="174.90" y="217.10" width="12.18" height="9.10" fill="#91a3b3"/>
<rect x="188.08" y="217.10" width="12.18" height="9.10" fill="#efd696"/>
<rect x="201.26" y="217.10" width="12.18" height="9.10" fill="#efd696"/>
<rect x="214.44" y="217.10" width="12.18" height="9.10" fill="#5b79b6"/>
<rect x="227.62" y="217.10" width="12.18" height="9.10" fill="#91a3b3"/>
<rect x="240.80" y="217.10" width="12.18" height="9.10" fill="#bfc5ab"/>
<rect x="253.98" y="217.10" width="12.18" height="9.10" fill="#e9e2a1"/>
<rect x="267.16" y="217.10" width="12.18" height="9.10" fill="#4768b5"/>
<rect x="280.34" y="217.10" width="12.18" height="9.10" fill="#91a3b3"/>
<rect x="293.52" y="217.10" width="12.18" height="9.10" fill="#b8c0ad"/>
<rect x="306.70" y="217.10" width="12.18" height="9.10" fill="#c6caaa"/>
<rect x="319.88" y="217.10" width="12.18" height="9.10" fill="#5b79b6"/>
<rect x="333.06" y="217.10" width="12.18" height="9.10" fill="#b0bbae"/>
<rect x="346.24" y="217.10" width="12.18" height="9.10" fill="#e7e0a1"/>
<rect x="359.42" y="217.10" width="12.18" height="9.10" fill="#d1d2a7"/>
<rect x="109.00" y="227.20" width="12.18" height="9.10" fill="#91a3b3"/>
<rect x="122.18" y="227.20" width="12.18" height="9.10" fill="#b0bbae"/>
<rect x="135.36" y="227.20" width="12.18" height="9.10" fill="#b8c0ad"/>
<rect x="148.54" y="227.20" width="12.18" height="9.10" fill="#efd696"/>
<rect x="161.72" y="227.20" width="12.18" height="9.10" fill="#869ab4"/>
<rect x="174.90" y="227.20" width="12.18" height="9.10" fill="#91a3b3"/>
<rect x="188.08" y="227.20" width="12.18" height="9.10" fill="#6480b6"/>
<rect x="201.26" y="227.20" width="12.18" height="9.10" fill="#e9e2a1"/>
<rect x="214.44" y="227.20" width="12.18" height="9.10" fill="#869ab4"/>
<rect x="227.62" y="227.20" width="12.18" height="9.10" fill="#869ab4"/>
<rect x="240.80" y="227.20" width="12.18" height="9.10" fill="#8c9fb3"/>
<rect x="253.98" y="227.20" width="12.18" height="9.10" fill="#b0bbae"/>
<rect x="267.16" y="227.20" width="12.18" height="9.10" fill="#e9e2a1"/>
<rect x="280.34" y="227.20" width="12.18" height="9.10" fill="#efda9a"/>
<rect x="293.52" y="227.20" width="12.18" height="9.10" fill="#ee9f6c"/>
<rect x="306.70" y="227.20" width="12.18" height="9.10" fill="#ec9464"/>
<rect x="319.88" y="227.20" width="12.18" height="9.10" fill="#748db5"/>
<rect x="333.06" y="227.20" width="12.18" height="9.10" fill="#6884b6"/>
<rect x="346.24" y="227.20" width="12.18" height="9.10" fill="#748db5"/>
<rect x="359.42" y="227.20" width="12.18" height="9.10" fill="#6884b6"/>
<rect x="109.00" y="237.30" width="12.18" height="9.10" fill="#869ab4"/>
<rect x="122.18" y="237.30" width="12.18" height="9.10" fill="#869ab4"/>
<rect x="135.36" y="237.30" width="12.18" height="9.10" fill="#91a3b3"/>
<rect x="148.54" y="237.30" width="12.18" height="9.10" fill="#e9e2a1"/>
<rect x="161.72" y="237.30" width="12.18" height="9.10" fill="#7a91b5"/>
<rect x="174.90" y="237.30" width="12.18" height="9.10" fill="#869ab4"/>
<rect x="188.08" y="237.30" width="12.18" height="9.10" fill="#e4dfa2"/>
<rect x="201.26" y="237.30" width="12.18" height="9.10" fill="#e9e2a1"/>
<rect x="214.44" y="237.30" width="12.18" height="9.10" fill="#6884b6"/>
<rect x="227.62" y="237.30" width="12.18" height="9.10" fill="#91a3b3"/>
<rect x="240.80" y="237.30" width="12.18" height="9.10" fill="#8c9fb3"/>
<rect x="253.98" y="237.30" width="12.18" height="9.10" fill="#f0cc90"/>
<rect x="267.16" y="237.30" width="12.18" height="9.10" fill="#8c9fb3"/>
<rect x="280.34" y="237.30" width="12.18" height="9.10" fill="#eee4a0"/>
<rect x="293.52" y="237.30" width="12.18" height="9.10" fill="#efd696"/>
<rect x="306.70" y="237.30" width="12.18" height="9.10" fill="#ec9464"/>
<rect x="319.88" y="237.30" width="12.18" height="9.10" fill="#748db5"/>
<rect x="333.06" y="237.30" width="12.18" height="9.10" fill="#6884b6"/>
<rect x="346.24" y="237.30" width="12.18" height="9.10" fill="#91a3b3"/>
<rect x="359.42" y="237.30" width="12.18" height="9.10" fill="#e9e2a1"/>
<rect x="109.00" y="247.40" width="12.18" height="9.10" fill="#869ab4"/>
<rect x="122.18" y="247.40" width="12.18" height="9.10" fill="#7a91b5"/>
<rect x="135.36" y="247.40" width="12.18" height="9.10" fill="#7a91b5"/>
<rect x="148.54" y="247.40" width="12.18" height="9.10" fill="#91a3b3"/>
<rect x="161.72" y="247.40" width="12.18" height="9.10" fill="#91a3b3"/>
<rect x="174.90" y="247.40" width="12.18" height="9.10" fill="#91a3b3"/>
<rect x="188.08" y="247.40" width="12.18" height="9.10" fill="#91a3b3"/>
<rect x="201.26" y="247.40" width="12.18" height="9.10" fill="#e9e2a1"/>
<rect x="214.44" y="247.40" width="12.18" height="9.10" fill="#91a3b3"/>
<rect x="227.62" y="247.40" width="12.18" height="9.10" fill="#91a3b3"/>
<rect x="240.80" y="247.40" width="12.18" height="9.10" fill="#8c9fb3"/>
<rect x="253.98" y="247.40" width="12.18" height="9.10" fill="#efd696"/>
<rect x="267.16" y="247.40" width="12.18" height="9.10" fill="#8c9fb3"/>
<rect x="280.34" y="247.40" width="12.18" height="9.10" fill="#d1d2a7"/>
<rect x="293.52" y="247.40" width="12.18" height="9.10" fill="#f0cc90"/>
<rect x="306.70" y="247.40" width="12.18" height="9.10" fill="#d63b32"/>
<rect x="319.88" y="247.40" width="12.18" height="9.10" fill="#869ab4"/>
<rect x="333.06" y="247.40" width="12.18" height="9.10" fill="#91a3b3"/>
<rect x="346.24" y="247.40" width="12.18" height="9.10" fill="#91a3b3"/>
<rect x="359.42" y="247.40" width="12.18" height="9.10" fill="#e2dea2"/>
<rect x="109.00" y="257.50" width="12.18" height="9.10" fill="#748db5"/>
<rect x="122.18" y="257.50" width="12.18" height="9.10" fill="#6884b6"/>
<rect x="135.36" y="257.50" width="12.18" height="9.10" fill="#b0bbae"/>
<rect x="148.54" y="257.50" width="12.18" height="9.10" fill="#eea570"/>
<rect x="161.72" y="257.50" width="12.18" height="9.10" fill="#869ab4"/>
<rect x="174.90" y="257.50" width="12.18" height="9.10" fill="#b8c0ad"/>
<rect x="188.08" y="257.50" width="12.18" height="9.10" fill="#c6caaa"/>
<rect x="201.26" y="257.50" width="12.18" height="9.10" fill="#c6caaa"/>
<rect x="214.44" y="257.50" width="12.18" height="9.10" fill="#b0bbae"/>
<rect x="227.62" y="257.50" width="12.18" height="9.10" fill="#b0bbae"/>
<rect x="240.80" y="257.50" width="12.18" height="9.10" fill="#efd696"/>
<rect x="253.98" y="257.50" width="12.18" height="9.10" fill="#b8c0ad"/>
<rect x="267.16" y="257.50" width="12.18" height="9.10" fill="#91a3b3"/>
<rect x="280.34" y="257.50" width="12.18" height="9.10" fill="#8c9fb3"/>
<rect x="293.52" y="257.50" width="12.18" height="9.10" fill="#91a3b3"/>
<rect x="306.70" y="257.50" width="12.18" height="9.10" fill="#efd696"/>
<rect x="319.88" y="257.50" width="12.18" height="9.10" fill="#7a91b5"/>
<rect x="333.06" y="257.50" width="12.18" height="9.10" fill="#5272b6"/>
<rect x="346.24" y="257.50" width="12.18" height="9.10" fill="#7a91b5"/>
<rect x="359.42" y="257.50" width="12.18" height="9.10" fill="#e8865c"/>
<rect x="109.00" y="267.60" width="12.18" height="9.10" fill="#91a3b3"/>
<rect x="122.18" y="267.60" width="12.18" height="9.10" fill="#91a3b3"/>
<rect x="135.36" y="267.60" width="12.18" height="9.10" fill="#8c9fb3"/>
<rect x="148.54" y="267.60" width="12.18" height="9.10" fill="#c6caaa"/>
<rect x="161.72" y="267.60" width="12.18" height="9.10" fill="#91a3b3"/>
<rect x="174.90" y="267.60" width="12.18" height="9.10" fill="#91a3b3"/>
<rect x="188.08" y="267.60" width="12.18" height="9.10" fill="#d1d2a7"/>
<rect x="201.26" y="267.60" width="12.18" height="9.10" fill="#d22828"/>
<rect x="214.44" y="267.60" width="12.18" height="9.10" fill="#b8c0ad"/>
<rect x="227.62" y="267.60" width="12.18" height="9.10" fill="#97a8b2"/>
<rect x="240.80" y="267.60" width="12.18" height="9.10" fill="#91a3b3"/>
<rect x="253.98" y="267.60" width="12.18" height="9.10" fill="#d1d2a7"/>
<rect x="267.16" y="267.60" width="12.18" height="9.10" fill="#7a91b5"/>
<rect x="280.34" y="267.60" width="12.18" height="9.10" fill="#869ab4"/>
<rect x="293.52" y="267.60" width="12.18" height="9.10" fill="#91a3b3"/>
<rect x="306.70" y="267.60" width="12.18" height="9.10" fill="#c6caaa"/>
<rect x="319.88" y="267.60" width="12.18" height="9.10" fill="#8c9fb3"/>
<rect x="333.06" y="267.60" width="12.18" height="9.10" fill="#91a3b3"/>
<rect x="346.24" y="267.60" width="12.18" height="9.10" fill="#97a8b2"/>
<rect x="359.42" y="267.60" width="12.18" height="9.10" fill="#f0bb82"/>
<rect x="109.00" y="277.70" width="12.18" height="9.10" fill="#b0bbae"/>
<rect x="122.18" y="277.70" width="12.18" height="9.10" fill="#6884b6"/>
<rect x="135.36" y="277.70" width="12.18" height="9.10" fill="#7a91b5"/>
<rect x="148.54" y="277.70" width="12.18" height="9.10" fill="#c6caaa"/>
<rect x="161.72" y="277.70" width="12.18" height="9.10" fill="#7a91b5"/>
<rect x="174.90" y="277.70" width="12.18" height="9.10" fill="#91a3b3"/>
<rect x="188.08" y="277.70" width="12.18" height="9.10" fill="#5f7db6"/>
<rect x="201.26" y="277.70" width="12.18" height="9.10" fill="#ee9f6c"/>
<rect x="214.44" y="277.70" width="12.18" height="9.10" fill="#c6caaa"/>
<rect x="227.62" y="277.70" width="12.18" height="9.10" fill="#b0bbae"/>
<rect x="240.80" y="277.70" width="12.18" height="9.10" fill="#748db5"/>
<rect x="253.98" y="277.70" width="12.18" height="9.10" fill="#b0bbae"/>
<rect x="267.16" y="277.70" width="12.18" height="9.10" fill="#e9e2a1"/>
<rect x="280.34" y="277.70" width="12.18" height="9.10" fill="#91a3b3"/>
<rect x="293.52" y="277.70" width="12.18" height="9.10" fill="#6884b6"/>
<rect x="306.70" y="277.70" width="12.18" height="9.10" fill="#eee4a0"/>
<rect x="319.88" y="277.70" width="12.18" height="9.10" fill="#e2dea2"/>
<rect x="333.06" y="277.70" width="12.18" height="9.10" fill="#b8c0ad"/>
<rect x="346.24" y="277.70" width="12.18" height="9.10" fill="#8c9fb3"/>
<rect x="359.42" y="277.70" width="12.18" height="9.10" fill="#e8865c"/>
<rect x="109.00" y="287.80" width="12.18" height="9.10" fill="#f0cc90"/>
<rect x="122.18" y="287.80" width="12.18" height="9.10" fill="#efda9a"/>
<rect x="135.36" y="287.80" width="12.18" height="9.10" fill="#e27050"/>
<rect x="148.54" y="287.80" width="12.18" height="9.10" fill="#b0bbae"/>
<rect x="161.72" y="287.80" width="12.18" height="9.10" fill="#5f7db6"/>
<rect x="174.90" y="287.80" width="12.18" height="9.10" fill="#6884b6"/>
<rect x="188.08" y="287.80" width="12.18" height="9.10" fill="#7a91b5"/>
<rect x="201.26" y="287.80" width="12.18" height="9.10" fill="#6884b6"/>
<rect x="214.44" y="287.80" width="12.18" height="9.10" fill="#b0bbae"/>
<rect x="227.62" y="287.80" width="12.18" height="9.10" fill="#c6caaa"/>
<rect x="240.80" y="287.80" width="12.18" height="9.10" fill="#c6caaa"/>
<rect x="253.98" y="287.80" width="12.18" height="9.10" fill="#97a8b2"/>
<rect x="267.16" y="287.80" width="12.18" height="9.10" fill="#b0bbae"/>
<rect x="280.34" y="287.80" width="12.18" height="9.10" fill="#91a3b3"/>
<rect x="293.52" y="287.80" width="12.18" height="9.10" fill="#97a8b2"/>
<rect x="306.70" y="287.80" width="12.18" height="9.10" fill="#97a8b2"/>
<rect x="319.88" y="287.80" width="12.18" height="9.10" fill="#c6caaa"/>
<rect x="333.06" y="287.80" width="12.18" height="9.10" fill="#e2dea2"/>
<rect x="346.24" y="287.80" width="12.18" height="9.10" fill="#8c9fb3"/>
<rect x="359.42" y="287.80" width="12.18" height="9.10" fill="#91a3b3"/>
<rect x="109.00" y="297.90" width="12.18" height="9.10" fill="#f0cc90"/>
<rect x="122.18" y="297.90" width="12.18" height="9.10" fill="#c6caaa"/>
<rect x="135.36" y="297.90" width="12.18" height="9.10" fill="#efd696"/>
<rect x="148.54" y="297.90" width="12.18" height="9.10" fill="#91a3b3"/>
<rect x="161.72" y="297.90" width="12.18" height="9.10" fill="#e2dea2"/>
<rect x="174.90" y="297.90" width="12.18" height="9.10" fill="#c6caaa"/>
<rect x="188.08" y="297.90" width="12.18" height="9.10" fill="#3c5eb5"/>
<rect x="201.26" y="297.90" width="12.18" height="9.10" fill="#b0bbae"/>
<rect x="214.44" y="297.90" width="12.18" height="9.10" fill="#bfc5ab"/>
<rect x="227.62" y="297.90" width="12.18" height="9.10" fill="#7a91b5"/>
<rect x="240.80" y="297.90" width="12.18" height="9.10" fill="#6480b6"/>
<rect x="253.98" y="297.90" width="12.18" height="9.10" fill="#8c9fb3"/>
<rect x="267.16" y="297.90" width="12.18" height="9.10" fill="#efd696"/>
<rect x="280.34" y="297.90" width="12.18" height="9.10" fill="#869ab4"/>
<rect x="293.52" y="297.90" width="12.18" height="9.10" fill="#6884b6"/>
<rect x="306.70" y="297.90" width="12.18" height="9.10" fill="#c6caaa"/>
<rect x="319.88" y="297.90" width="12.18" height="9.10" fill="#d7d6a5"/>
<rect x="333.06" y="297.90" width="12.18" height="9.10" fill="#eea570"/>
<rect x="346.24" y="297.90" width="12.18" height="9.10" fill="#7a91b5"/>
<rect x="359.42" y="297.90" width="12.18" height="9.10" fill="#7a91b5"/>
<rect x="109.00" y="308.00" width="12.18" height="9.10" fill="#e4dfa2"/>
<rect x="122.18" y="308.00" width="12.18" height="9.10" fill="#b8c0ad"/>
<rect x="135.36" y="308.00" width="12.18" height="9.10" fill="#ee9f6c"/>
<rect x="148.54" y="308.00" width="12.18" height="9.10" fill="#ec9464"/>
<rect x="161.72" y="308.00" width="12.18" height="9.10" fill="#91a3b3"/>
<rect x="174.90" y="308.00" width="12.18" height="9.10" fill="#b0bbae"/>
<rect x="188.08" y="308.00" width="12.18" height="9.10" fill="#7a91b5"/>
<rect x="201.26" y="308.00" width="12.18" height="9.10" fill="#dcdaa4"/>
<rect x="214.44" y="308.00" width="12.18" height="9.10" fill="#b8c0ad"/>
<rect x="227.62" y="308.00" width="12.18" height="9.10" fill="#b0bbae"/>
<rect x="240.80" y="308.00" width="12.18" height="9.10" fill="#6480b6"/>
<rect x="253.98" y="308.00" width="12.18" height="9.10" fill="#748db5"/>
<rect x="267.16" y="308.00" width="12.18" height="9.10" fill="#efd696"/>
<rect x="280.34" y="308.00" width="12.18" height="9.10" fill="#7a91b5"/>
<rect x="293.52" y="308.00" width="12.18" height="9.10" fill="#7a91b5"/>
<rect x="306.70" y="308.00" width="12.18" height="9.10" fill="#91a3b3"/>
<rect x="319.88" y="308.00" width="12.18" height="9.10" fill="#b8c0ad"/>
<rect x="333.06" y="308.00" width="12.18" height="9.10" fill="#b8c0ad"/>
<rect x="346.24" y="308.00" width="12.18" height="9.10" fill="#5272b6"/>
<rect x="359.42" y="308.00" width="12.18" height="9.10" fill="#91a3b3"/>
<rect x="109.00" y="318.10" width="12.18" height="9.10" fill="#e9e2a1"/>
<rect x="122.18" y="318.10" width="12.18" height="9.10" fill="#e9e2a1"/>
<rect x="135.36" y="318.10" width="12.18" height="9.10" fill="#91a3b3"/>
<rect x="148.54" y="318.10" width="12.18" height="9.10" fill="#6480b6"/>
<rect x="161.72" y="318.10" width="12.18" height="9.10" fill="#f0cc90"/>
<rect x="174.90" y="318.10" width="12.18" height="9.10" fill="#e9e2a1"/>
<rect x="188.08" y="318.10" width="12.18" height="9.10" fill="#7a91b5"/>
<rect x="201.26" y="318.10" width="12.18" height="9.10" fill="#748db5"/>
<rect x="214.44" y="318.10" width="12.18" height="9.10" fill="#f0cc90"/>
<rect x="227.62" y="318.10" width="12.18" height="9.10" fill="#91a3b3"/>
<rect x="240.80" y="318.10" width="12.18" height="9.10" fill="#b0bbae"/>
<rect x="253.98" y="318.10" width="12.18" height="9.10" fill="#5676b6"/>
<rect x="267.16" y="318.10" width="12.18" height="9.10" fill="#e9e2a1"/>
<rect x="280.34" y="318.10" width="12.18" height="9.10" fill="#bfc5ab"/>
<rect x="293.52" y="318.10" width="12.18" height="9.10" fill="#7a91b5"/>
<rect x="306.70" y="318.10" width="12.18" height="9.10" fill="#7a91b5"/>
<rect x="319.88" y="318.10" width="12.18" height="9.10" fill="#e8865c"/>
<rect x="333.06" y="318.10" width="12.18" height="9.10" fill="#b8c0ad"/>
<rect x="346.24" y="318.10" width="12.18" height="9.10" fill="#7a91b5"/>
<rect x="359.42" y="318.10" width="12.18" height="9.10" fill="#6884b6"/>
<rect x="109.00" y="328.20" width="12.18" height="9.10" fill="#e9e2a1"/>
<rect x="122.18" y="328.20" width="12.18" height="9.10" fill="#e9e2a1"/>
<rect x="135.36" y="328.20" width="12.18" height="9.10" fill="#97a8b2"/>
<rect x="148.54" y="328.20" width="12.18" height="9.10" fill="#7a91b5"/>
<rect x="161.72" y="328.20" width="12.18" height="9.10" fill="#ee9f6c"/>
<rect x="174.90" y="328.20" width="12.18" height="9.10" fill="#e8865c"/>
<rect x="188.08" y="328.20" width="12.18" height="9.10" fill="#4b6bb6"/>
<rect x="201.26" y="328.20" width="12.18" height="9.10" fill="#8c9fb3"/>
<rect x="214.44" y="328.20" width="12.18" height="9.10" fill="#c6caaa"/>
<rect x="227.62" y="328.20" width="12.18" height="9.10" fill="#97a8b2"/>
<rect x="240.80" y="328.20" width="12.18" height="9.10" fill="#8c9fb3"/>
<rect x="253.98" y="328.20" width="12.18" height="9.10" fill="#91a3b3"/>
<rect x="267.16" y="328.20" width="12.18" height="9.10" fill="#b8c0ad"/>
<rect x="280.34" y="328.20" width="12.18" height="9.10" fill="#b8c0ad"/>
<rect x="293.52" y="328.20" width="12.18" height="9.10" fill="#6884b6"/>
<rect x="306.70" y="328.20" width="12.18" height="9.10" fill="#748db5"/>
<rect x="319.88" y="328.20" width="12.18" height="9.10" fill="#e9e2a1"/>
<rect x="333.06" y="328.20" width="12.18" height="9.10" fill="#bfc5ab"/>
<rect x="346.24" y="328.20" width="12.18" height="9.10" fill="#7a91b5"/>
<rect x="359.42" y="328.20" width="12.18" height="9.10" fill="#748db5"/>
<rect x="109.00" y="338.30" width="12.18" height="9.10" fill="#f0bb82"/>
<rect x="122.18" y="338.30" width="12.18" height="9.10" fill="#f0cc90"/>
<rect x="135.36" y="338.30" width="12.18" height="9.10" fill="#c6caaa"/>
<rect x="148.54" y="338.30" width="12.18" height="9.10" fill="#7a91b5"/>
<rect x="161.72" y="338.30" width="12.18" height="9.10" fill="#f0bb82"/>
<rect x="174.90" y="338.30" width="12.18" height="9.10" fill="#f0c186"/>
<rect x="188.08" y="338.30" width="12.18" height="9.10" fill="#7a91b5"/>
<rect x="201.26" y="338.30" width="12.18" height="9.10" fill="#869ab4"/>
<rect x="214.44" y="338.30" width="12.18" height="9.10" fill="#c6caaa"/>
<rect x="227.62" y="338.30" width="12.18" height="9.10" fill="#91a3b3"/>
<rect x="240.80" y="338.30" width="12.18" height="9.10" fill="#8c9fb3"/>
<rect x="253.98" y="338.30" width="12.18" height="9.10" fill="#7a91b5"/>
<rect x="267.16" y="338.30" width="12.18" height="9.10" fill="#c6caaa"/>
<rect x="280.34" y="338.30" width="12.18" height="9.10" fill="#b8c0ad"/>
<rect x="293.52" y="338.30" width="12.18" height="9.10" fill="#748db5"/>
<rect x="306.70" y="338.30" width="12.18" height="9.10" fill="#7a91b5"/>
<rect x="319.88" y="338.30" width="12.18" height="9.10" fill="#efda9a"/>
<rect x="333.06" y="338.30" width="12.18" height="9.10" fill="#b8c0ad"/>
<rect x="346.24" y="338.30" width="12.18" height="9.10" fill="#7a91b5"/>
<rect x="359.42" y="338.30" width="12.18" height="9.10" fill="#7a91b5"/>
<rect x="109.00" y="348.40" width="12.18" height="9.10" fill="#e8865c"/>
<rect x="122.18" y="348.40" width="12.18" height="9.10" fill="#eee4a0"/>
<rect x="135.36" y="348.40" width="12.18" height="9.10" fill="#c6caaa"/>
<rect x="148.54" y="348.40" width="12.18" height="9.10" fill="#7a91b5"/>
<rect x="161.72" y="348.40" width="12.18" height="9.10" fill="#f0bb82"/>
<rect x="174.90" y="348.40" width="12.18" height="9.10" fill="#f0cc90"/>
<rect x="188.08" y="348.40" width="12.18" height="9.10" fill="#7a91b5"/>
<rect x="201.26" y="348.40" width="12.18" height="9.10" fill="#7a91b5"/>
<rect x="214.44" y="348.40" width="12.18" height="9.10" fill="#bfc5ab"/>
<rect x="227.62" y="348.40" width="12.18" height="9.10" fill="#91a3b3"/>
<rect x="240.80" y="348.40" width="12.18" height="9.10" fill="#8c9fb3"/>
<rect x="253.98" y="348.40" width="12.18" height="9.10" fill="#91a3b3"/>
<rect x="267.16" y="348.40" width="12.18" height="9.10" fill="#b8c0ad"/>
<rect x="280.34" y="348.40" width="12.18" height="9.10" fill="#b8c0ad"/>
<rect x="293.52" y="348.40" width="12.18" height="9.10" fill="#748db5"/>
<rect x="306.70" y="348.40" width="12.18" height="9.10" fill="#5676b6"/>
<rect x="319.88" y="348.40" width="12.18" height="9.10" fill="#e9e2a1"/>
<rect x="333.06" y="348.40" width="12.18" height="9.10" fill="#b8c0ad"/>
<rect x="346.24" y="348.40" width="12.18" height="9.10" fill="#7a91b5"/>
<rect x="359.42" y="348.40" width="12.18" height="9.10" fill="#5676b6"/>
<rect x="109.00" y="358.50" width="12.18" height="9.10" fill="#ee9f6c"/>
<rect x="122.18" y="358.50" width="12.18" height="9.10" fill="#e9e2a1"/>
<rect x="135.36" y="358.50" width="12.18" height="9.10" fill="#b0bbae"/>
<rect x="148.54" y="358.50" width="12.18" height="9.10" fill="#7a91b5"/>
<rect x="161.72" y="358.50" width="12.18" height="9.10" fill="#f0bb82"/>
<rect x="174.90" y="358.50" width="12.18" height="9.10" fill="#f0cc90"/>
<rect x="188.08" y="358.50" width="12.18" height="9.10" fill="#748db5"/>
<rect x="201.26" y="358.50" width="12.18" height="9.10" fill="#7a91b5"/>
<rect x="214.44" y="358.50" width="12.18" height="9.10" fill="#c6caaa"/>
<rect x="227.62" y="358.50" width="12.18" height="9.10" fill="#91a3b3"/>
<rect x="240.80" y="358.50" width="12.18" height="9.10" fill="#8c9fb3"/>
<rect x="253.98" y="358.50" width="12.18" height="9.10" fill="#5f7db6"/>
<rect x="267.16" y="358.50" width="12.18" height="9.10" fill="#eee4a0"/>
<rect x="280.34" y="358.50" width="12.18" height="9.10" fill="#e2dea2"/>
<rect x="293.52" y="358.50" width="12.18" height="9.10" fill="#8c9fb3"/>
<rect x="306.70" y="358.50" width="12.18" height="9.10" fill="#748db5"/>
<rect x="319.88" y="358.50" width="12.18" height="9.10" fill="#e9e2a1"/>
<rect x="333.06" y="358.50" width="12.18" height="9.10" fill="#b8c0ad"/>
<rect x="346.24" y="358.50" width="12.18" height="9.10" fill="#7a91b5"/>
<rect x="359.42" y="358.50" width="12.18" height="9.10" fill="#7a91b5"/>
<rect x="109.00" y="368.60" width="12.18" height="9.10" fill="#eea570"/>
<rect x="122.18" y="368.60" width="12.18" height="9.10" fill="#eee4a0"/>
<rect x="135.36" y="368.60" width="12.18" height="9.10" fill="#eee4a0"/>
<rect x="148.54" y="368.60" width="12.18" height="9.10" fill="#6480b6"/>
<rect x="161.72" y="368.60" width="12.18" height="9.10" fill="#f0c68b"/>
<rect x="174.90" y="368.60" width="12.18" height="9.10" fill="#e9e2a1"/>
<rect x="188.08" y="368.60" width="12.18" height="9.10" fill="#7a91b5"/>
<rect x="201.26" y="368.60" width="12.18" height="9.10" fill="#748db5"/>
<rect x="214.44" y="368.60" width="12.18" height="9.10" fill="#e2dea2"/>
<rect x="227.62" y="368.60" width="12.18" height="9.10" fill="#91a3b3"/>
<rect x="240.80" y="368.60" width="12.18" height="9.10" fill="#91a3b3"/>
<rect x="253.98" y="368.60" width="12.18" height="9.10" fill="#5272b6"/>
<rect x="267.16" y="368.60" width="12.18" height="9.10" fill="#e9e2a1"/>
<rect x="280.34" y="368.60" width="12.18" height="9.10" fill="#91a3b3"/>
<rect x="293.52" y="368.60" width="12.18" height="9.10" fill="#7a91b5"/>
<rect x="306.70" y="368.60" width="12.18" height="9.10" fill="#5676b6"/>
<rect x="319.88" y="368.60" width="12.18" height="9.10" fill="#efda9a"/>
<rect x="333.06" y="368.60" width="12.18" height="9.10" fill="#e9e2a1"/>
<rect x="346.24" y="368.60" width="12.18" height="9.10" fill="#7a91b5"/>
<rect x="359.42" y="368.60" width="12.18" height="9.10" fill="#7a91b5"/>
<rect x="109.00" y="378.70" width="12.18" height="9.10" fill="#f0d193"/>
<rect x="122.18" y="378.70" width="12.18" height="9.10" fill="#91a3b3"/>
<rect x="135.36" y="378.70" width="12.18" height="9.10" fill="#91a3b3"/>
<rect x="148.54" y="378.70" width="12.18" height="9.10" fill="#cccea8"/>
<rect x="161.72" y="378.70" width="12.18" height="9.10" fill="#eea570"/>
<rect x="174.90" y="378.70" width="12.18" height="9.10" fill="#e9e2a1"/>
<rect x="188.08" y="378.70" width="12.18" height="9.10" fill="#91a3b3"/>
<rect x="201.26" y="378.70" width="12.18" height="9.10" fill="#869ab4"/>
<rect x="214.44" y="378.70" width="12.18" height="9.10" fill="#f0cc90"/>
<rect x="227.62" y="378.70" width="12.18" height="9.10" fill="#8c9fb3"/>
<rect x="240.80" y="378.70" width="12.18" height="9.10" fill="#748db5"/>
<rect x="253.98" y="378.70" width="12.18" height="9.10" fill="#8c9fb3"/>
<rect x="267.16" y="378.70" width="12.18" height="9.10" fill="#91a3b3"/>
<rect x="280.34" y="378.70" width="12.18" height="9.10" fill="#7a91b5"/>
<rect x="293.52" y="378.70" width="12.18" height="9.10" fill="#748db5"/>
<rect x="306.70" y="378.70" width="12.18" height="9.10" fill="#b0bbae"/>
<rect x="319.88" y="378.70" width="12.18" height="9.10" fill="#e67e58"/>
<rect x="333.06" y="378.70" width="12.18" height="9.10" fill="#b8c0ad"/>
<rect x="346.24" y="378.70" width="12.18" height="9.10" fill="#7a91b5"/>
<rect x="359.42" y="378.70" width="12.18" height="9.10" fill="#91a3b3"/>
<rect x="109.00" y="388.80" width="12.18" height="9.10" fill="#c6caaa"/>
<rect x="122.18" y="388.80" width="12.18" height="9.10" fill="#bfc5ab"/>
<rect x="135.36" y="388.80" width="12.18" height="9.10" fill="#5f7db6"/>
<rect x="148.54" y="388.80" width="12.18" height="9.10" fill="#6480b6"/>
<rect x="161.72" y="388.80" width="12.18" height="9.10" fill="#f0c186"/>
<rect x="174.90" y="388.80" width="12.18" height="9.10" fill="#f0d193"/>
<rect x="188.08" y="388.80" width="12.18" height="9.10" fill="#8c9fb3"/>
<rect x="201.26" y="388.80" width="12.18" height="9.10" fill="#8c9fb3"/>
<rect x="214.44" y="388.80" width="12.18" height="9.10" fill="#f0bb82"/>
<rect x="227.62" y="388.80" width="12.18" height="9.10" fill="#e9e2a1"/>
<rect x="240.80" y="388.80" width="12.18" height="9.10" fill="#bfc5ab"/>
<rect x="253.98" y="388.80" width="12.18" height="9.10" fill="#91a3b3"/>
<rect x="267.16" y="388.80" width="12.18" height="9.10" fill="#7a91b5"/>
<rect x="280.34" y="388.80" width="12.18" height="9.10" fill="#6884b6"/>
<rect x="293.52" y="388.80" width="12.18" height="9.10" fill="#6884b6"/>
<rect x="306.70" y="388.80" width="12.18" height="9.10" fill="#869ab4"/>
<rect x="319.88" y="388.80" width="12.18" height="9.10" fill="#f0bb82"/>
<rect x="333.06" y="388.80" width="12.18" height="9.10" fill="#e9e2a1"/>
<rect x="346.24" y="388.80" width="12.18" height="9.10" fill="#b0bbae"/>
<rect x="359.42" y="388.80" width="12.18" height="9.10" fill="#8c9fb3"/>
<rect x="109.00" y="398.90" width="12.18" height="9.10" fill="#b0bbae"/>
<rect x="122.18" y="398.90" width="12.18" height="9.10" fill="#b0bbae"/>
<rect x="135.36" y="398.90" width="12.18" height="9.10" fill="#97a8b2"/>
<rect x="148.54" y="398.90" width="12.18" height="9.10" fill="#97a8b2"/>
<rect x="161.72" y="398.90" width="12.18" height="9.10" fill="#97a8b2"/>
<rect x="174.90" y="398.90" width="12.18" height="9.10" fill="#91a3b3"/>
<rect x="188.08" y="398.90" width="12.18" height="9.10" fill="#8c9fb3"/>
<rect x="201.26" y="398.90" width="12.18" height="9.10" fill="#91a3b3"/>
<rect x="214.44" y="398.90" width="12.18" height="9.10" fill="#d4352e"/>
<rect x="227.62" y="398.90" width="12.18" height="9.10" fill="#f0cc90"/>
<rect x="240.80" y="398.90" width="12.18" height="9.10" fill="#efd696"/>
<rect x="253.98" y="398.90" width="12.18" height="9.10" fill="#e9e2a1"/>
<rect x="267.16" y="398.90" width="12.18" height="9.10" fill="#91a3b3"/>
<rect x="280.34" y="398.90" width="12.18" height="9.10" fill="#91a3b3"/>
<rect x="293.52" y="398.90" width="12.18" height="9.10" fill="#91a3b3"/>
<rect x="306.70" y="398.90" width="12.18" height="9.10" fill="#91a3b3"/>
<rect x="319.88" y="398.90" width="12.18" height="9.10" fill="#91a3b3"/>
<rect x="333.06" y="398.90" width="12.18" height="9.10" fill="#91a3b3"/>
<rect x="346.24" y="398.90" width="12.18" height="9.10" fill="#91a3b3"/>
<rect x="359.42" y="398.90" width="12.18" height="9.10" fill="#91a3b3"/>
<rect x="109.00" y="409.00" width="12.18" height="9.10" fill="#e2dea2"/>
<rect x="122.18" y="409.00" width="12.18" height="9.10" fill="#e4dfa2"/>
<rect x="135.36" y="409.00" width="12.18" height="9.10" fill="#c6caaa"/>
<rect x="148.54" y="409.00" width="12.18" height="9.10" fill="#7a91b5"/>
<rect x="161.72" y="409.00" width="12.18" height="9.10" fill="#7a91b5"/>
<rect x="174.90" y="409.00" width="12.18" height="9.10" fill="#7a91b5"/>
<rect x="188.08" y="409.00" width="12.18" height="9.10" fill="#5b79b6"/>
<rect x="201.26" y="409.00" width="12.18" height="9.10" fill="#5272b6"/>
<rect x="214.44" y="409.00" width="12.18" height="9.10" fill="#f0cc90"/>
<rect x="227.62" y="409.00" width="12.18" height="9.10" fill="#f0cc90"/>
<rect x="240.80" y="409.00" width="12.18" height="9.10" fill="#c6caaa"/>
<rect x="253.98" y="409.00" width="12.18" height="9.10" fill="#91a3b3"/>
<rect x="267.16" y="409.00" width="12.18" height="9.10" fill="#efd696"/>
<rect x="280.34" y="409.00" width="12.18" height="9.10" fill="#e9e2a1"/>
<rect x="293.52" y="409.00" width="12.18" height="9.10" fill="#eee4a0"/>
<rect x="306.70" y="409.00" width="12.18" height="9.10" fill="#e9e2a1"/>
<rect x="319.88" y="409.00" width="12.18" height="9.10" fill="#b0bbae"/>
<rect x="333.06" y="409.00" width="12.18" height="9.10" fill="#b0bbae"/>
<rect x="346.24" y="409.00" width="12.18" height="9.10" fill="#91a3b3"/>
<rect x="359.42" y="409.00" width="12.18" height="9.10" fill="#6480b6"/>
<rect x="109.00" y="419.10" width="12.18" height="9.10" fill="#e4dfa2"/>
<rect x="122.18" y="419.10" width="12.18" height="9.10" fill="#7a91b5"/>
<rect x="135.36" y="419.10" width="12.18" height="9.10" fill="#869ab4"/>
<rect x="148.54" y="419.10" width="12.18" height="9.10" fill="#7a91b5"/>
<rect x="161.72" y="419.10" width="12.18" height="9.10" fill="#d1d2a7"/>
<rect x="174.90" y="419.10" width="12.18" height="9.10" fill="#d7d6a5"/>
<rect x="188.08" y="419.10" width="12.18" height="9.10" fill="#748db5"/>
<rect x="201.26" y="419.10" width="12.18" height="9.10" fill="#869ab4"/>
<rect x="214.44" y="419.10" width="12.18" height="9.10" fill="#d1d2a7"/>
<rect x="227.62" y="419.10" width="12.18" height="9.10" fill="#efd696"/>
<rect x="240.80" y="419.10" width="12.18" height="9.10" fill="#b0bbae"/>
<rect x="253.98" y="419.10" width="12.18" height="9.10" fill="#6884b6"/>
<rect x="267.16" y="419.10" width="12.18" height="9.10" fill="#e67e58"/>
<rect x="280.34" y="419.10" width="12.18" height="9.10" fill="#f0cc90"/>
<rect x="293.52" y="419.10" width="12.18" height="9.10" fill="#eee4a0"/>
<rect x="306.70" y="419.10" width="12.18" height="9.10" fill="#748db5"/>
<rect x="319.88" y="419.10" width="12.18" height="9.10" fill="#91a3b3"/>
<rect x="333.06" y="419.10" width="12.18" height="9.10" fill="#b0bbae"/>
<rect x="346.24" y="419.10" width="12.18" height="9.10" fill="#5f7db6"/>
<rect x="359.42" y="419.10" width="12.18" height="9.10" fill="#5b79b6"/>
<rect x="109.00" y="429.20" width="12.18" height="9.10" fill="#f0bb82"/>
<rect x="122.18" y="429.20" width="12.18" height="9.10" fill="#c6caaa"/>
<rect x="135.36" y="429.20" width="12.18" height="9.10" fill="#b8c0ad"/>
<rect x="148.54" y="429.20" width="12.18" height="9.10" fill="#7a91b5"/>
<rect x="161.72" y="429.20" width="12.18" height="9.10" fill="#91a3b3"/>
<rect x="174.90" y="429.20" width="12.18" height="9.10" fill="#91a3b3"/>
<rect x="188.08" y="429.20" width="12.18" height="9.10" fill="#7a91b5"/>
<rect x="201.26" y="429.20" width="12.18" height="9.10" fill="#748db5"/>
<rect x="214.44" y="429.20" width="12.18" height="9.10" fill="#e7e0a1"/>
<rect x="227.62" y="429.20" width="12.18" height="9.10" fill="#e9e2a1"/>
<rect x="240.80" y="429.20" width="12.18" height="9.10" fill="#b0bbae"/>
<rect x="253.98" y="429.20" width="12.18" height="9.10" fill="#5b79b6"/>
<rect x="267.16" y="429.20" width="12.18" height="9.10" fill="#e27050"/>
<rect x="280.34" y="429.20" width="12.18" height="9.10" fill="#bfc5ab"/>
<rect x="293.52" y="429.20" width="12.18" height="9.10" fill="#b8c0ad"/>
<rect x="306.70" y="429.20" width="12.18" height="9.10" fill="#5272b6"/>
<rect x="319.88" y="429.20" width="12.18" height="9.10" fill="#e2dea2"/>
<rect x="333.06" y="429.20" width="12.18" height="9.10" fill="#e2dea2"/>
<rect x="346.24" y="429.20" width="12.18" height="9.10" fill="#5f7db6"/>
<rect x="359.42" y="429.20" width="12.18" height="9.10" fill="#5f7db6"/>
<rect x="109.00" y="439.30" width="12.18" height="9.10" fill="#f0bb82"/>
<rect x="122.18" y="439.30" width="12.18" height="9.10" fill="#b8c0ad"/>
<rect x="135.36" y="439.30" width="12.18" height="9.10" fill="#b0bbae"/>
<rect x="148.54" y="439.30" width="12.18" height="9.10" fill="#7a91b5"/>
<rect x="161.72" y="439.30" width="12.18" height="9.10" fill="#b8c0ad"/>
<rect x="174.90" y="439.30" width="12.18" height="9.10" fill="#b8c0ad"/>
<rect x="188.08" y="439.30" width="12.18" height="9.10" fill="#7a91b5"/>
<rect x="201.26" y="439.30" width="12.18" height="9.10" fill="#748db5"/>
<rect x="214.44" y="439.30" width="12.18" height="9.10" fill="#e7e0a1"/>
<rect x="227.62" y="439.30" width="12.18" height="9.10" fill="#e9e2a1"/>
<rect x="240.80" y="439.30" width="12.18" height="9.10" fill="#8c9fb3"/>
<rect x="253.98" y="439.30" width="12.18" height="9.10" fill="#b0bbae"/>
<rect x="267.16" y="439.30" width="12.18" height="9.10" fill="#d84838"/>
<rect x="280.34" y="439.30" width="12.18" height="9.10" fill="#c6caaa"/>
<rect x="293.52" y="439.30" width="12.18" height="9.10" fill="#c6caaa"/>
<rect x="306.70" y="439.30" width="12.18" height="9.10" fill="#7a91b5"/>
<rect x="319.88" y="439.30" width="12.18" height="9.10" fill="#b0bbae"/>
<rect x="333.06" y="439.30" width="12.18" height="9.10" fill="#bfc5ab"/>
<rect x="346.24" y="439.30" width="12.18" height="9.10" fill="#5f7db6"/>
<rect x="359.42" y="439.30" width="12.18" height="9.10" fill="#6884b6"/>
<rect x="109.00" y="449.40" width="12.18" height="9.10" fill="#8c9fb3"/>
<rect x="122.18" y="449.40" width="12.18" height="9.10" fill="#8c9fb3"/>
<rect x="135.36" y="449.40" width="12.18" height="9.10" fill="#8c9fb3"/>
<rect x="148.54" y="449.40" width="12.18" height="9.10" fill="#748db5"/>
<rect x="161.72" y="449.40" width="12.18" height="9.10" fill="#b0bbae"/>
<rect x="174.90" y="449.40" width="12.18" height="9.10" fill="#b0bbae"/>
<rect x="188.08" y="449.40" width="12.18" height="9.10" fill="#748db5"/>
<rect x="201.26" y="449.40" width="12.18" height="9.10" fill="#748db5"/>
<rect x="214.44" y="449.40" width="12.18" height="9.10" fill="#91a3b3"/>
<rect x="227.62" y="449.40" width="12.18" height="9.10" fill="#8c9fb3"/>
<rect x="240.80" y="449.40" width="12.18" height="9.10" fill="#748db5"/>
<rect x="253.98" y="449.40" width="12.18" height="9.10" fill="#6e88b6"/>
<rect x="267.16" y="449.40" width="12.18" height="9.10" fill="#f0b078"/>
<rect x="280.34" y="449.40" width="12.18" height="9.10" fill="#f0cc90"/>
<rect x="293.52" y="449.40" width="12.18" height="9.10" fill="#c6caaa"/>
<rect x="306.70" y="449.40" width="12.18" height="9.10" fill="#b8c0ad"/>
<rect x="319.88" y="449.40" width="12.18" height="9.10" fill="#e67e58"/>
<rect x="333.06" y="449.40" width="12.18" height="9.10" fill="#efd696"/>
<rect x="346.24" y="449.40" width="12.18" height="9.10" fill="#8c9fb3"/>
<rect x="359.42" y="449.40" width="12.18" height="9.10" fill="#869ab4"/>
<rect x="109.00" y="459.50" width="12.18" height="9.10" fill="#748db5"/>
<rect x="122.18" y="459.50" width="12.18" height="9.10" fill="#748db5"/>
<rect x="135.36" y="459.50" width="12.18" height="9.10" fill="#748db5"/>
<rect x="148.54" y="459.50" width="12.18" height="9.10" fill="#748db5"/>
<rect x="161.72" y="459.50" width="12.18" height="9.10" fill="#7a91b5"/>
<rect x="174.90" y="459.50" width="12.18" height="9.10" fill="#7a91b5"/>
<rect x="188.08" y="459.50" width="12.18" height="9.10" fill="#7a91b5"/>
<rect x="201.26" y="459.50" width="12.18" height="9.10" fill="#7a91b5"/>
<rect x="214.44" y="459.50" width="12.18" height="9.10" fill="#f0c68b"/>
<rect x="227.62" y="459.50" width="12.18" height="9.10" fill="#eee4a0"/>
<rect x="240.80" y="459.50" width="12.18" height="9.10" fill="#bfc5ab"/>
<rect x="253.98" y="459.50" width="12.18" height="9.10" fill="#b8c0ad"/>
<rect x="267.16" y="459.50" width="12.18" height="9.10" fill="#d84838"/>
<rect x="280.34" y="459.50" width="12.18" height="9.10" fill="#c6caaa"/>
<rect x="293.52" y="459.50" width="12.18" height="9.10" fill="#91a3b3"/>
<rect x="306.70" y="459.50" width="12.18" height="9.10" fill="#8c9fb3"/>
<rect x="319.88" y="459.50" width="12.18" height="9.10" fill="#91a3b3"/>
<rect x="333.06" y="459.50" width="12.18" height="9.10" fill="#b8c0ad"/>
<rect x="346.24" y="459.50" width="12.18" height="9.10" fill="#8c9fb3"/>
<rect x="359.42" y="459.50" width="12.18" height="9.10" fill="#869ab4"/>
<rect x="109.00" y="469.60" width="12.18" height="9.10" fill="#6884b6"/>
<rect x="122.18" y="469.60" width="12.18" height="9.10" fill="#6884b6"/>
<rect x="135.36" y="469.60" width="12.18" height="9.10" fill="#6884b6"/>
<rect x="148.54" y="469.60" width="12.18" height="9.10" fill="#6884b6"/>
<rect x="161.72" y="469.60" width="12.18" height="9.10" fill="#6884b6"/>
<rect x="174.90" y="469.60" width="12.18" height="9.10" fill="#6884b6"/>
<rect x="188.08" y="469.60" width="12.18" height="9.10" fill="#6884b6"/>
<rect x="201.26" y="469.60" width="12.18" height="9.10" fill="#6884b6"/>
<rect x="214.44" y="469.60" width="12.18" height="9.10" fill="#e9e2a1"/>
<rect x="227.62" y="469.60" width="12.18" height="9.10" fill="#e7e0a1"/>
<rect x="240.80" y="469.60" width="12.18" height="9.10" fill="#d1d2a7"/>
<rect x="253.98" y="469.60" width="12.18" height="9.10" fill="#d1d2a7"/>
<rect x="267.16" y="469.60" width="12.18" height="9.10" fill="#efd696"/>
<rect x="280.34" y="469.60" width="12.18" height="9.10" fill="#e9e2a1"/>
<rect x="293.52" y="469.60" width="12.18" height="9.10" fill="#c6caaa"/>
<rect x="306.70" y="469.60" width="12.18" height="9.10" fill="#d7d6a5"/>
<rect x="319.88" y="469.60" width="12.18" height="9.10" fill="#f0bb82"/>
<rect x="333.06" y="469.60" width="12.18" height="9.10" fill="#efd696"/>
<rect x="346.24" y="469.60" width="12.18" height="9.10" fill="#d1d2a7"/>
<rect x="359.42" y="469.60" width="12.18" height="9.10" fill="#c6caaa"/>
<rect x="109.00" y="479.70" width="12.18" height="9.10" fill="#6884b6"/>
<rect x="122.18" y="479.70" width="12.18" height="9.10" fill="#6884b6"/>
<rect x="135.36" y="479.70" width="12.18" height="9.10" fill="#6884b6"/>
<rect x="148.54" y="479.70" width="12.18" height="9.10" fill="#6884b6"/>
<rect x="161.72" y="479.70" width="12.18" height="9.10" fill="#6884b6"/>
<rect x="174.90" y="479.70" width="12.18" height="9.10" fill="#6884b6"/>
<rect x="188.08" y="479.70" width="12.18" height="9.10" fill="#6884b6"/>
<rect x="201.26" y="479.70" width="12.18" height="9.10" fill="#6884b6"/>
<rect x="214.44" y="479.70" width="12.18" height="9.10" fill="#e9e2a1"/>
<rect x="227.62" y="479.70" width="12.18" height="9.10" fill="#f0cc90"/>
<rect x="240.80" y="479.70" width="12.18" height="9.10" fill="#e4dfa2"/>
<rect x="253.98" y="479.70" width="12.18" height="9.10" fill="#d1d2a7"/>
<rect x="267.16" y="479.70" width="12.18" height="9.10" fill="#f0d193"/>
<rect x="280.34" y="479.70" width="12.18" height="9.10" fill="#e9e2a1"/>
<rect x="293.52" y="479.70" width="12.18" height="9.10" fill="#d7d6a5"/>
<rect x="306.70" y="479.70" width="12.18" height="9.10" fill="#bfc5ab"/>
<rect x="319.88" y="479.70" width="12.18" height="9.10" fill="#f0d193"/>
<rect x="333.06" y="479.70" width="12.18" height="9.10" fill="#efda9a"/>
<rect x="346.24" y="479.70" width="12.18" height="9.10" fill="#e4dfa2"/>
<rect x="359.42" y="479.70" width="12.18" height="9.10" fill="#c6caaa"/>
<rect x="109.00" y="489.80" width="12.18" height="9.10" fill="#8c9fb3"/>
<rect x="122.18" y="489.80" width="12.18" height="9.10" fill="#7a91b5"/>
<rect x="135.36" y="489.80" width="12.18" height="9.10" fill="#748db5"/>
<rect x="148.54" y="489.80" width="12.18" height="9.10" fill="#748db5"/>
<rect x="161.72" y="489.80" width="12.18" height="9.10" fill="#5b79b6"/>
<rect x="174.90" y="489.80" width="12.18" height="9.10" fill="#6480b6"/>
<rect x="188.08" y="489.80" width="12.18" height="9.10" fill="#748db5"/>
<rect x="201.26" y="489.80" width="12.18" height="9.10" fill="#748db5"/>
<rect x="214.44" y="489.80" width="12.18" height="9.10" fill="#f0cc90"/>
<rect x="227.62" y="489.80" width="12.18" height="9.10" fill="#e9e2a1"/>
<rect x="240.80" y="489.80" width="12.18" height="9.10" fill="#f0d193"/>
<rect x="253.98" y="489.80" width="12.18" height="9.10" fill="#d7d6a5"/>
<rect x="267.16" y="489.80" width="12.18" height="9.10" fill="#efda9a"/>
<rect x="280.34" y="489.80" width="12.18" height="9.10" fill="#e9e2a1"/>
<rect x="293.52" y="489.80" width="12.18" height="9.10" fill="#d1d2a7"/>
<rect x="306.70" y="489.80" width="12.18" height="9.10" fill="#c6caaa"/>
<rect x="319.88" y="489.80" width="12.18" height="9.10" fill="#f0cc90"/>
<rect x="333.06" y="489.80" width="12.18" height="9.10" fill="#e7e0a1"/>
<rect x="346.24" y="489.80" width="12.18" height="9.10" fill="#d7d6a5"/>
<rect x="359.42" y="489.80" width="12.18" height="9.10" fill="#a2b1b1"/>
<rect x="109.00" y="499.90" width="12.18" height="9.10" fill="#7a91b5"/>
<rect x="122.18" y="499.90" width="12.18" height="9.10" fill="#7a91b5"/>
<rect x="135.36" y="499.90" width="12.18" height="9.10" fill="#748db5"/>
<rect x="148.54" y="499.90" width="12.18" height="9.10" fill="#748db5"/>
<rect x="161.72" y="499.90" width="12.18" height="9.10" fill="#748db5"/>
<rect x="174.90" y="499.90" width="12.18" height="9.10" fill="#748db5"/>
<rect x="188.08" y="499.90" width="12.18" height="9.10" fill="#5f7db6"/>
<rect x="201.26" y="499.90" width="12.18" height="9.10" fill="#6884b6"/>
<rect x="214.44" y="499.90" width="12.18" height="9.10" fill="#f0cc90"/>
<rect x="227.62" y="499.90" width="12.18" height="9.10" fill="#e9e2a1"/>
<rect x="240.80" y="499.90" width="12.18" height="9.10" fill="#e9e2a1"/>
<rect x="253.98" y="499.90" width="12.18" height="9.10" fill="#91a3b3"/>
<rect x="267.16" y="499.90" width="12.18" height="9.10" fill="#e9e2a1"/>
<rect x="280.34" y="499.90" width="12.18" height="9.10" fill="#e9e2a1"/>
<rect x="293.52" y="499.90" width="12.18" height="9.10" fill="#d1d2a7"/>
<rect x="306.70" y="499.90" width="12.18" height="9.10" fill="#97a8b2"/>
<rect x="319.88" y="499.90" width="12.18" height="9.10" fill="#ee9f6c"/>
<rect x="333.06" y="499.90" width="12.18" height="9.10" fill="#e4dfa2"/>
<rect x="346.24" y="499.90" width="12.18" height="9.10" fill="#c6caaa"/>
<rect x="359.42" y="499.90" width="12.18" height="9.10" fill="#97a8b2"/>
<rect x="109.00" y="510.00" width="12.18" height="9.10" fill="#6884b6"/>
<rect x="122.18" y="510.00" width="12.18" height="9.10" fill="#6884b6"/>
<rect x="135.36" y="510.00" width="12.18" height="9.10" fill="#6884b6"/>
<rect x="148.54" y="510.00" width="12.18" height="9.10" fill="#6884b6"/>
<rect x="161.72" y="510.00" width="12.18" height="9.10" fill="#6884b6"/>
<rect x="174.90" y="510.00" width="12.18" height="9.10" fill="#6884b6"/>
<rect x="188.08" y="510.00" width="12.18" height="9.10" fill="#6884b6"/>
<rect x="201.26" y="510.00" width="12.18" height="9.10" fill="#6884b6"/>
<rect x="214.44" y="510.00" width="12.18" height="9.10" fill="#f0cc90"/>
<rect x="227.62" y="510.00" width="12.18" height="9.10" fill="#e9e2a1"/>
<rect x="240.80" y="510.00" width="12.18" height="9.10" fill="#e4dfa2"/>
<rect x="253.98" y="510.00" width="12.18" height="9.10" fill="#97a8b2"/>
<rect x="267.16" y="510.00" width="12.18" height="9.10" fill="#efd696"/>
<rect x="280.34" y="510.00" width="12.18" height="9.10" fill="#efd696"/>
<rect x="293.52" y="510.00" width="12.18" height="9.10" fill="#e4dfa2"/>
<rect x="306.70" y="510.00" width="12.18" height="9.10" fill="#bfc5ab"/>
<rect x="319.88" y="510.00" width="12.18" height="9.10" fill="#f0c68b"/>
<rect x="333.06" y="510.00" width="12.18" height="9.10" fill="#e4dfa2"/>
<rect x="346.24" y="510.00" width="12.18" height="9.10" fill="#c6caaa"/>
<rect x="359.42" y="510.00" width="12.18" height="9.10" fill="#97a8b2"/>
<rect x="109.00" y="520.10" width="12.18" height="9.10" fill="#6884b6"/>
<rect x="122.18" y="520.10" width="12.18" height="9.10" fill="#6884b6"/>
<rect x="135.36" y="520.10" width="12.18" height="9.10" fill="#6884b6"/>
<rect x="148.54" y="520.10" width="12.18" height="9.10" fill="#6884b6"/>
<rect x="161.72" y="520.10" width="12.18" height="9.10" fill="#6884b6"/>
<rect x="174.90" y="520.10" width="12.18" height="9.10" fill="#6884b6"/>
<rect x="188.08" y="520.10" width="12.18" height="9.10" fill="#6884b6"/>
<rect x="201.26" y="520.10" width="12.18" height="9.10" fill="#6884b6"/>
<rect x="214.44" y="520.10" width="12.18" height="9.10" fill="#efd696"/>
<rect x="227.62" y="520.10" width="12.18" height="9.10" fill="#e9e2a1"/>
<rect x="240.80" y="520.10" width="12.18" height="9.10" fill="#efda9a"/>
<rect x="253.98" y="520.10" width="12.18" height="9.10" fill="#e9e2a1"/>
<rect x="267.16" y="520.10" width="12.18" height="9.10" fill="#f0d193"/>
<rect x="280.34" y="520.10" width="12.18" height="9.10" fill="#f0d193"/>
<rect x="293.52" y="520.10" width="12.18" height="9.10" fill="#e9e2a1"/>
<rect x="306.70" y="520.10" width="12.18" height="9.10" fill="#d1d2a7"/>
<rect x="319.88" y="520.10" width="12.18" height="9.10" fill="#c6caaa"/>
<rect x="333.06" y="520.10" width="12.18" height="9.10" fill="#c6caaa"/>
<rect x="346.24" y="520.10" width="12.18" height="9.10" fill="#c6caaa"/>
<rect x="359.42" y="520.10" width="12.18" height="9.10" fill="#b8c0ad"/>
<rect x="109.00" y="530.20" width="12.18" height="9.10" fill="#6884b6"/>
<rect x="122.18" y="530.20" width="12.18" height="9.10" fill="#6884b6"/>
<rect x="135.36" y="530.20" width="12.18" height="9.10" fill="#6884b6"/>
<rect x="148.54" y="530.20" width="12.18" height="9.10" fill="#6884b6"/>
<rect x="161.72" y="530.20" width="12.18" height="9.10" fill="#6884b6"/>
<rect x="174.90" y="530.20" width="12.18" height="9.10" fill="#6884b6"/>
<rect x="188.08" y="530.20" width="12.18" height="9.10" fill="#6884b6"/>
<rect x="201.26" y="530.20" width="12.18" height="9.10" fill="#6884b6"/>
<rect x="214.44" y="530.20" width="12.18" height="9.10" fill="#efd696"/>
<rect x="227.62" y="530.20" width="12.18" height="9.10" fill="#e9e2a1"/>
<rect x="240.80" y="530.20" width="12.18" height="9.10" fill="#e9e2a1"/>
<rect x="253.98" y="530.20" width="12.18" height="9.10" fill="#f0cc90"/>
<rect x="267.16" y="530.20" width="12.18" height="9.10" fill="#e9e2a1"/>
<rect x="280.34" y="530.20" width="12.18" height="9.10" fill="#e2dea2"/>
<rect x="293.52" y="530.20" width="12.18" height="9.10" fill="#bfc5ab"/>
<rect x="306.70" y="530.20" width="12.18" height="9.10" fill="#b8c0ad"/>
<rect x="319.88" y="530.20" width="12.18" height="9.10" fill="#efd696"/>
<rect x="333.06" y="530.20" width="12.18" height="9.10" fill="#e4dfa2"/>
<rect x="346.24" y="530.20" width="12.18" height="9.10" fill="#d7d6a5"/>
<rect x="359.42" y="530.20" width="12.18" height="9.10" fill="#b8c0ad"/>
<rect x="109.00" y="540.30" width="12.18" height="9.10" fill="#6884b6"/>
<rect x="122.18" y="540.30" width="12.18" height="9.10" fill="#6884b6"/>
<rect x="135.36" y="540.30" width="12.18" height="9.10" fill="#6884b6"/>
<rect x="148.54" y="540.30" width="12.18" height="9.10" fill="#6884b6"/>
<rect x="161.72" y="540.30" width="12.18" height="9.10" fill="#6884b6"/>
<rect x="174.90" y="540.30" width="12.18" height="9.10" fill="#6884b6"/>
<rect x="188.08" y="540.30" width="12.18" height="9.10" fill="#6884b6"/>
<rect x="201.26" y="540.30" width="12.18" height="9.10" fill="#6884b6"/>
<rect x="214.44" y="540.30" width="12.18" height="9.10" fill="#f0b078"/>
<rect x="227.62" y="540.30" width="12.18" height="9.10" fill="#e9e2a1"/>
<rect x="240.80" y="540.30" width="12.18" height="9.10" fill="#e9e2a1"/>
<rect x="253.98" y="540.30" width="12.18" height="9.10" fill="#f0c68b"/>
<rect x="267.16" y="540.30" width="12.18" height="9.10" fill="#d7d6a5"/>
<rect x="280.34" y="540.30" width="12.18" height="9.10" fill="#e2dea2"/>
<rect x="293.52" y="540.30" width="12.18" height="9.10" fill="#b8c0ad"/>
<rect x="306.70" y="540.30" width="12.18" height="9.10" fill="#b8c0ad"/>
<rect x="319.88" y="540.30" width="12.18" height="9.10" fill="#efda9a"/>
<rect x="333.06" y="540.30" width="12.18" height="9.10" fill="#e2dea2"/>
<rect x="346.24" y="540.30" width="12.18" height="9.10" fill="#d1d2a7"/>
<rect x="359.42" y="540.30" width="12.18" height="9.10" fill="#b8c0ad"/>
<rect x="109.00" y="550.40" width="12.18" height="9.10" fill="#6884b6"/>
<rect x="122.18" y="550.40" width="12.18" height="9.10" fill="#b0bbae"/>
<rect x="135.36" y="550.40" width="12.18" height="9.10" fill="#b0bbae"/>
<rect x="148.54" y="550.40" width="12.18" height="9.10" fill="#b0bbae"/>
<rect x="161.72" y="550.40" width="12.18" height="9.10" fill="#6884b6"/>
<rect x="174.90" y="550.40" width="12.18" height="9.10" fill="#6884b6"/>
<rect x="188.08" y="550.40" width="12.18" height="9.10" fill="#b8c0ad"/>
<rect x="201.26" y="550.40" width="12.18" height="9.10" fill="#b0bbae"/>
<rect x="214.44" y="550.40" width="12.18" height="9.10" fill="#91a3b3"/>
<rect x="227.62" y="550.40" width="12.18" height="9.10" fill="#b0bbae"/>
<rect x="240.80" y="550.40" width="12.18" height="9.10" fill="#91a3b3"/>
<rect x="253.98" y="550.40" width="12.18" height="9.10" fill="#8c9fb3"/>
<rect x="267.16" y="550.40" width="12.18" height="9.10" fill="#b8c0ad"/>
<rect x="280.34" y="550.40" width="12.18" height="9.10" fill="#e67e58"/>
<rect x="293.52" y="550.40" width="12.18" height="9.10" fill="#e67e58"/>
<rect x="306.70" y="550.40" width="12.18" height="9.10" fill="#efd696"/>
<rect x="319.88" y="550.40" width="12.18" height="9.10" fill="#8c9fb3"/>
<rect x="333.06" y="550.40" width="12.18" height="9.10" fill="#8c9fb3"/>
<rect x="346.24" y="550.40" width="12.18" height="9.10" fill="#b0bbae"/>
<rect x="359.42" y="550.40" width="12.18" height="9.10" fill="#c6caaa"/>
<rect x="109.00" y="560.50" width="12.18" height="9.10" fill="#6480b6"/>
<rect x="122.18" y="560.50" width="12.18" height="9.10" fill="#6480b6"/>
<rect x="135.36" y="560.50" width="12.18" height="9.10" fill="#6480b6"/>
<rect x="148.54" y="560.50" width="12.18" height="9.10" fill="#6480b6"/>
<rect x="161.72" y="560.50" width="12.18" height="9.10" fill="#6480b6"/>
<rect x="174.90" y="560.50" width="12.18" height="9.10" fill="#6480b6"/>
<rect x="188.08" y="560.50" width="12.18" height="9.10" fill="#6480b6"/>
<rect x="201.26" y="560.50" width="12.18" height="9.10" fill="#6480b6"/>
<rect x="214.44" y="560.50" width="12.18" height="9.10" fill="#e9e2a1"/>
<rect x="227.62" y="560.50" width="12.18" height="9.10" fill="#e2dea2"/>
<rect x="240.80" y="560.50" width="12.18" height="9.10" fill="#e2dea2"/>
<rect x="253.98" y="560.50" width="12.18" height="9.10" fill="#d7d6a5"/>
<rect x="267.16" y="560.50" width="12.18" height="9.10" fill="#e9e2a1"/>
<rect x="280.34" y="560.50" width="12.18" height="9.10" fill="#e9e2a1"/>
<rect x="293.52" y="560.50" width="12.18" height="9.10" fill="#e9e2a1"/>
<rect x="306.70" y="560.50" width="12.18" height="9.10" fill="#f0b078"/>
<rect x="319.88" y="560.50" width="12.18" height="9.10" fill="#e4dfa2"/>
<rect x="333.06" y="560.50" width="12.18" height="9.10" fill="#d1d2a7"/>
<rect x="346.24" y="560.50" width="12.18" height="9.10" fill="#e7e0a1"/>
<rect x="359.42" y="560.50" width="12.18" height="9.10" fill="#f0c186"/>
<rect x="109.00" y="570.60" width="12.18" height="9.10" fill="#8c9fb3"/>
<rect x="122.18" y="570.60" width="12.18" height="9.10" fill="#8c9fb3"/>
<rect x="135.36" y="570.60" width="12.18" height="9.10" fill="#869ab4"/>
<rect x="148.54" y="570.60" width="12.18" height="9.10" fill="#b0bbae"/>
<rect x="161.72" y="570.60" width="12.18" height="9.10" fill="#8c9fb3"/>
<rect x="174.90" y="570.60" width="12.18" height="9.10" fill="#8c9fb3"/>
<rect x="188.08" y="570.60" width="12.18" height="9.10" fill="#8c9fb3"/>
<rect x="201.26" y="570.60" width="12.18" height="9.10" fill="#8c9fb3"/>
<rect x="214.44" y="570.60" width="12.18" height="9.10" fill="#b0bbae"/>
<rect x="227.62" y="570.60" width="12.18" height="9.10" fill="#b8c0ad"/>
<rect x="240.80" y="570.60" width="12.18" height="9.10" fill="#8c9fb3"/>
<rect x="253.98" y="570.60" width="12.18" height="9.10" fill="#91a3b3"/>
<rect x="267.16" y="570.60" width="12.18" height="9.10" fill="#8c9fb3"/>
<rect x="280.34" y="570.60" width="12.18" height="9.10" fill="#b8c0ad"/>
<rect x="293.52" y="570.60" width="12.18" height="9.10" fill="#c6caaa"/>
<rect x="306.70" y="570.60" width="12.18" height="9.10" fill="#dc5842"/>
<rect x="319.88" y="570.60" width="12.18" height="9.10" fill="#7a91b5"/>
<rect x="333.06" y="570.60" width="12.18" height="9.10" fill="#b8c0ad"/>
<rect x="346.24" y="570.60" width="12.18" height="9.10" fill="#efd696"/>
<rect x="359.42" y="570.60" width="12.18" height="9.10" fill="#ea8d60"/>
<rect x="109.00" y="580.70" width="12.18" height="9.10" fill="#5b79b6"/>
<rect x="122.18" y="580.70" width="12.18" height="9.10" fill="#7a91b5"/>
<rect x="135.36" y="580.70" width="12.18" height="9.10" fill="#b0bbae"/>
<rect x="148.54" y="580.70" width="12.18" height="9.10" fill="#91a3b3"/>
<rect x="161.72" y="580.70" width="12.18" height="9.10" fill="#7a91b5"/>
<rect x="174.90" y="580.70" width="12.18" height="9.10" fill="#bfc5ab"/>
<rect x="188.08" y="580.70" width="12.18" height="9.10" fill="#e67e58"/>
<rect x="201.26" y="580.70" width="12.18" height="9.10" fill="#7a91b5"/>
<rect x="214.44" y="580.70" width="12.18" height="9.10" fill="#8c9fb3"/>
<rect x="227.62" y="580.70" width="12.18" height="9.10" fill="#c6caaa"/>
<rect x="240.80" y="580.70" width="12.18" height="9.10" fill="#e9e2a1"/>
<rect x="253.98" y="580.70" width="12.18" height="9.10" fill="#d1d2a7"/>
<rect x="267.16" y="580.70" width="12.18" height="9.10" fill="#7a91b5"/>
<rect x="280.34" y="580.70" width="12.18" height="9.10" fill="#e7e0a1"/>
<rect x="293.52" y="580.70" width="12.18" height="9.10" fill="#f0d193"/>
<rect x="306.70" y="580.70" width="12.18" height="9.10" fill="#bfc5ab"/>
<rect x="319.88" y="580.70" width="12.18" height="9.10" fill="#5b79b6"/>
<rect x="333.06" y="580.70" width="12.18" height="9.10" fill="#6884b6"/>
<rect x="346.24" y="580.70" width="12.18" height="9.10" fill="#e9e2a1"/>
<rect x="359.42" y="580.70" width="12.18" height="9.10" fill="#d1d2a7"/>
<rect x="109.00" y="590.80" width="12.18" height="9.10" fill="#7a91b5"/>
<rect x="122.18" y="590.80" width="12.18" height="9.10" fill="#8c9fb3"/>
<rect x="135.36" y="590.80" width="12.18" height="9.10" fill="#8c9fb3"/>
<rect x="148.54" y="590.80" width="12.18" height="9.10" fill="#e9e2a1"/>
<rect x="161.72" y="590.80" width="12.18" height="9.10" fill="#7a91b5"/>
<rect x="174.90" y="590.80" width="12.18" height="9.10" fill="#91a3b3"/>
<rect x="188.08" y="590.80" width="12.18" height="9.10" fill="#f0c68b"/>
<rect x="201.26" y="590.80" width="12.18" height="9.10" fill="#8c9fb3"/>
<rect x="214.44" y="590.80" width="12.18" height="9.10" fill="#6884b6"/>
<rect x="227.62" y="590.80" width="12.18" height="9.10" fill="#b0bbae"/>
<rect x="240.80" y="590.80" width="12.18" height="9.10" fill="#e9e2a1"/>
<rect x="253.98" y="590.80" width="12.18" height="9.10" fill="#c6caaa"/>
<rect x="267.16" y="590.80" width="12.18" height="9.10" fill="#5676b6"/>
<rect x="280.34" y="590.80" width="12.18" height="9.10" fill="#e9e2a1"/>
<rect x="293.52" y="590.80" width="12.18" height="9.10" fill="#f0bb82"/>
<rect x="306.70" y="590.80" width="12.18" height="9.10" fill="#efd696"/>
<rect x="319.88" y="590.80" width="12.18" height="9.10" fill="#5676b6"/>
<rect x="333.06" y="590.80" width="12.18" height="9.10" fill="#5676b6"/>
<rect x="346.24" y="590.80" width="12.18" height="9.10" fill="#e4dfa2"/>
<rect x="359.42" y="590.80" width="12.18" height="9.10" fill="#e4dfa2"/>
<rect x="109.00" y="600.90" width="12.18" height="9.10" fill="#7a91b5"/>
<rect x="122.18" y="600.90" width="12.18" height="9.10" fill="#7a91b5"/>
<rect x="135.36" y="600.90" width="12.18" height="9.10" fill="#7a91b5"/>
<rect x="148.54" y="600.90" width="12.18" height="9.10" fill="#7a91b5"/>
<rect x="161.72" y="600.90" width="12.18" height="9.10" fill="#7a91b5"/>
<rect x="174.90" y="600.90" width="12.18" height="9.10" fill="#7a91b5"/>
<rect x="188.08" y="600.90" width="12.18" height="9.10" fill="#7a91b5"/>
<rect x="201.26" y="600.90" width="12.18" height="9.10" fill="#7a91b5"/>
<rect x="214.44" y="600.90" width="12.18" height="9.10" fill="#8c9fb3"/>
<rect x="227.62" y="600.90" width="12.18" height="9.10" fill="#e8865c"/>
<rect x="240.80" y="600.90" width="12.18" height="9.10" fill="#f0cc90"/>
<rect x="253.98" y="600.90" width="12.18" height="9.10" fill="#e9e2a1"/>
<rect x="267.16" y="600.90" width="12.18" height="9.10" fill="#91a3b3"/>
<rect x="280.34" y="600.90" width="12.18" height="9.10" fill="#e9e2a1"/>
<rect x="293.52" y="600.90" width="12.18" height="9.10" fill="#d1d2a7"/>
<rect x="306.70" y="600.90" width="12.18" height="9.10" fill="#7a91b5"/>
<rect x="319.88" y="600.90" width="12.18" height="9.10" fill="#8c9fb3"/>
<rect x="333.06" y="600.90" width="12.18" height="9.10" fill="#b8c0ad"/>
<rect x="346.24" y="600.90" width="12.18" height="9.10" fill="#d1d2a7"/>
<rect x="359.42" y="600.90" width="12.18" height="9.10" fill="#eea570"/>
<rect x="109.00" y="611.00" width="12.18" height="9.10" fill="#5676b6"/>
<rect x="122.18" y="611.00" width="12.18" height="9.10" fill="#5676b6"/>
<rect x="135.36" y="611.00" width="12.18" height="9.10" fill="#5676b6"/>
<rect x="148.54" y="611.00" width="12.18" height="9.10" fill="#5676b6"/>
<rect x="161.72" y="611.00" width="12.18" height="9.10" fill="#b0bbae"/>
<rect x="174.90" y="611.00" width="12.18" height="9.10" fill="#e7e0a1"/>
<rect x="188.08" y="611.00" width="12.18" height="9.10" fill="#e7e0a1"/>
<rect x="201.26" y="611.00" width="12.18" height="9.10" fill="#b8c0ad"/>
<rect x="214.44" y="611.00" width="12.18" height="9.10" fill="#7a91b5"/>
<rect x="227.62" y="611.00" width="12.18" height="9.10" fill="#d7d6a5"/>
<rect x="240.80" y="611.00" width="12.18" height="9.10" fill="#c6caaa"/>
<rect x="253.98" y="611.00" width="12.18" height="9.10" fill="#91a3b3"/>
<rect x="267.16" y="611.00" width="12.18" height="9.10" fill="#7a91b5"/>
<rect x="280.34" y="611.00" width="12.18" height="9.10" fill="#e4dfa2"/>
<rect x="293.52" y="611.00" width="12.18" height="9.10" fill="#d1d2a7"/>
<rect x="306.70" y="611.00" width="12.18" height="9.10" fill="#7a91b5"/>
<rect x="319.88" y="611.00" width="12.18" height="9.10" fill="#7a91b5"/>
<rect x="333.06" y="611.00" width="12.18" height="9.10" fill="#f0cc90"/>
<rect x="346.24" y="611.00" width="12.18" height="9.10" fill="#ec9464"/>
<rect x="359.42" y="611.00" width="12.18" height="9.10" fill="#e9e2a1"/>
<defs>
<pattern id="sdy" width="3" height="3" patternUnits="userSpaceOnUse"><circle cx="1.5" cy="1.5" r="0.5" fill="#f0e8a0" fill-opacity="0.45"/></pattern>
<pattern id="sdd" width="3" height="3" patternUnits="userSpaceOnUse"><circle cx="1.5" cy="1.5" r="0.5" fill="#f06060" fill-opacity="0.35"/></pattern>
<pattern id="sdr" width="3" height="3" patternUnits="userSpaceOnUse"><circle cx="1.5" cy="1.5" r="0.55" fill="#d04040" fill-opacity="0.6"/></pattern>
</defs><defs><linearGradient id="g1" x1="0" y1="0" x2="0" y2="1"><stop offset="0" stop-color="#c9cf98"/><stop offset="1" stop-color="#b8c084"/></linearGradient></defs><clipPath id="c1"><path d="M15,36 C10,36 4,30 2,23 C0.3,17 -0.3,11 1,7 C3,2.5 27,2.5 29,7 C30.3,11 29.7,17 28,23 C26,30 20,36 15,36 Z"/></clipPath><g transform="translate(393.5,38.7) scale(0.957,0.948)"><path d="M15,36 C10,36 4,30 2,23 C0.3,17 -0.3,11 1,7 C3,2.5 27,2.5 29,7 C30.3,11 29.7,17 28,23 C26,30 20,36 15,36 Z" fill="url(#g1)"/><path clip-path="url(#c1)" stroke="#f2eab0" stroke-opacity="0.5" stroke-width="0.94" stroke-linecap="round" fill="none" d="M0.3 6.9h0M3.9 5.9h0M7.1 5.1h0M9.8 5.8h0M12.1 6.1h0M15.3 6.6h0M17.1 6.5h0M21.1 6.5h0M24.4 5.5h0M27.0 5.7h0M30.6 6.0h0M1.1 8.1h0M5.0 8.3h0M7.5 9.4h0M11.1 8.8h0M14.3 9.4h0M16.8 8.9h0M20.1 8.8h0M23.3 8.2h0M25.3 8.4h0M27.9 9.7h0M32.6 9.5h0M0.4 11.3h0M2.1 12.7h0M5.1 12.0h0M9.0 11.2h0M12.3 11.1h0M14.6 11.8h0M18.0 12.3h0M21.6 12.2h0M23.9 12.8h0M26.1 11.0h0M29.2 12.4h0M2.3 14.7h0M3.8 15.1h0M7.3 15.6h0M10.0 14.4h0M12.9 15.2h0M15.6 14.9h0M20.2 15.5h0M21.3 14.1h0M25.9 14.8h0M27.6 15.0h0M31.0 15.7h0M0.9 18.0h0M3.3 18.7h0M5.4 17.5h0M9.0 18.1h0M11.6 18.0h0M14.6 18.7h0M18.2 17.0h0M21.4 18.6h0M24.3 18.8h0M27.4 17.9h0M29.5 18.4h0M2.6 20.0h0M4.7 21.1h0M7.5 20.2h0M10.0 21.9h0M13.2 20.9h0M15.6 20.3h0M18.6 21.9h0M22.8 20.4h0M25.8 21.9h0M28.6 21.5h0M30.6 22.0h0M0.9 23.1h0M2.6 23.1h0M5.9 23.9h0M9.3 23.3h0M12.5 24.0h0M14.8 24.9h0M18.4 23.1h0M20.9 24.1h0M24.7 23.4h0M27.9 23.9h0M29.4 23.2h0M1.5 26.4h0M3.8 26.3h0M6.6 27.6h0M11.1 26.1h0M13.2 27.2h0M15.9 27.2h0M19.0 26.7h0M22.8 26.4h0M25.3 26.7h0M28.5 26.7h0M31.9 27.2h0M-0.8 30.9h0M2.5 29.2h0M5.2 30.8h0M8.9 29.8h0M12.8 30.2h0M14.4 30.8h0M17.4 30.2h0M20.3 29.5h0M23.7 30.9h0M27.6 30.6h0M28.9 29.2h0M2.2 32.4h0M4.7 33.6h0M6.4 32.1h0M10.8 32.8h0M14.4 33.2h0M15.9 33.5h0M19.6 33.7h0M22.7 32.0h0M24.6 33.3h0M29.2 33.1h0M31.2 33.1h0"/></g><path d="M407.9,44.0 Q407.4,39.1 408.9,37.5" stroke="#9ab86c" stroke-width="1.6" fill="none"/><path d="M407.9 44.0Q414.2 46.1 420.2 43.2Q413.8 41.1 407.9 44.0Z" fill="#9ab86c"/><path d="M407.9 44.0Q412.4 48.0 418.8 47.3Q414.3 43.3 407.9 44.0Z" fill="#9ab86c"/><path d="M407.9 44.0Q408.9 48.3 413.8 49.3Q412.8 45.1 407.9 44.0Z" fill="#9ab86c"/><path d="M407.9 44.0Q405.9 46.7 408.9 48.6Q410.9 45.9 407.9 44.0Z" fill="#9ab86c"/><path d="M407.9 44.0Q403.6 46.1 403.9 50.3Q408.2 48.2 407.9 44.0Z" fill="#9ab86c"/><path d="M407.9 44.0Q401.5 44.0 397.6 48.4Q404.0 48.4 407.9 44.0Z" fill="#9ab86c"/><path d="M407.9 44.0Q401.9 41.1 395.5 43.2Q401.5 46.1 407.9 44.0Z" fill="#9ab86c"/><path d="M407.9 44.0Q412.9 44.2 415.0 40.3Q410.0 40.1 407.9 44.0Z" fill="#9ab86c"/><path d="M407.9 44.0Q405.4 40.2 400.3 40.7Q402.8 44.6 407.9 44.0Z" fill="#9ab86c"/><path d="M407.9 44.0Q410.4 42.4 407.9 40.7Q405.3 42.4 407.9 44.0Z" fill="#9ab86c"/><ellipse cx="407.9" cy="44.3" rx="4.9" ry="2.8" fill="#9ab86c"/>
<defs><linearGradient id="g2" x1="0" y1="0" x2="0" y2="1"><stop offset="0" stop-color="#ece8da"/><stop offset="0.42" stop-color="#eadcc8"/><stop offset="0.66" stop-color="#e4583a"/><stop offset="1" stop-color="#dc3a28"/></linearGradient></defs><clipPath id="c2"><path d="M15,36 C10,36 4,30 2,23 C0.3,17 -0.3,11 1,7 C3,2.5 27,2.5 29,7 C30.3,11 29.7,17 28,23 C26,30 20,36 15,36 Z"/></clipPath><g transform="translate(429.5,35.8) scale(1.017,1.055)"><path d="M15,36 C10,36 4,30 2,23 C0.3,17 -0.3,11 1,7 C3,2.5 27,2.5 29,7 C30.3,11 29.7,17 28,23 C26,30 20,36 15,36 Z" fill="url(#g2)"/><path clip-path="url(#c2)" stroke="#f2eab0" stroke-opacity="0.5" stroke-width="0.89" stroke-linecap="round" fill="none" d="M-0.8 6.9h0M3.3 6.1h0M5.2 5.6h0M8.9 5.8h0M11.0 6.7h0M14.5 7.0h0M17.5 6.1h0M21.2 5.2h0M24.1 5.2h0M26.5 5.8h0M30.8 5.4h0M1.2 9.6h0M5.1 9.0h0M6.8 8.4h0M11.6 9.8h0M13.2 8.1h0M16.8 8.1h0M19.7 8.1h0M22.9 9.7h0M24.3 9.8h0M28.7 9.2h0M32.0 10.0h0M1.0 12.0h0M2.3 12.5h0M5.0 11.3h0M9.2 12.4h0M11.3 12.4h0M15.8 12.9h0M18.0 12.5h0M20.1 12.8h0M25.2 12.6h0M26.2 11.3h0M29.3 13.0h0M0.7 14.1h0M3.6 15.6h0M7.8 15.0h0M10.4 15.5h0M13.4 14.7h0M17.1 15.6h0M20.1 14.5h0M23.1 14.3h0M24.5 14.3h0M29.1 15.1h0M30.7 15.7h0M1.2 17.4h0M4.0 17.8h0M5.4 17.7h0M8.2 17.8h0M11.7 17.4h0M15.5 18.6h0M17.1 17.2h0M21.2 17.8h0M23.9 17.5h0M26.2 18.6h0M29.9 18.6h0M1.0 20.8h0M5.5 21.2h0M6.4 21.4h0M11.0 21.6h0M12.8 20.8h0M16.8 20.4h0M19.1 20.1h0M21.8 21.7h0M26.4 21.5h0M28.9 20.9h0M31.9 21.8h0M0.9 25.0h0M3.9 24.6h0M6.0 23.1h0M8.0 23.3h0M13.2 23.0h0M15.3 25.0h0M17.5 24.9h0M21.9 24.3h0M25.2 24.7h0M27.6 23.8h0M29.8 23.7h0M0.5 26.8h0M5.7 26.1h0M7.6 26.1h0M10.3 27.0h0M13.4 26.1h0M15.9 27.4h0M19.0 27.3h0M21.9 26.1h0M26.0 27.3h0M28.6 26.1h0M32.4 26.6h0M0.1 29.0h0M2.1 29.9h0M5.6 29.4h0M9.5 29.1h0M12.6 30.6h0M14.8 30.2h0M18.1 30.5h0M20.6 29.7h0M24.2 29.8h0M27.2 29.2h0M30.7 30.3h0M2.6 32.8h0M5.5 32.8h0M7.0 32.6h0M11.1 32.6h0M13.5 33.3h0M15.6 33.7h0M18.8 32.1h0M22.1 32.4h0M26.2 32.6h0M27.6 33.8h0M30.5 32.1h0"/></g><path d="M444.8,41.5 Q444.2,36.6 445.8,35.0" stroke="#8ab464" stroke-width="1.6" fill="none"/><path d="M444.8 41.5Q451.5 43.6 457.9 40.6Q451.1 38.6 444.8 41.5Z" fill="#8ab464"/><path d="M444.8 41.5Q449.6 45.6 456.4 45.0Q451.5 40.9 444.8 41.5Z" fill="#8ab464"/><path d="M444.8 41.5Q446.0 46.0 451.1 47.2Q449.9 42.7 444.8 41.5Z" fill="#8ab464"/><path d="M444.8 41.5Q442.8 44.4 445.9 46.4Q447.8 43.5 444.8 41.5Z" fill="#8ab464"/><path d="M444.8 41.5Q440.4 43.8 440.6 48.2Q444.9 45.9 444.8 41.5Z" fill="#8ab464"/><path d="M444.8 41.5Q438.1 41.7 433.9 46.2Q440.6 46.0 444.8 41.5Z" fill="#8ab464"/><path d="M444.8 41.5Q438.4 38.6 431.6 40.6Q438.0 43.6 444.8 41.5Z" fill="#8ab464"/><path d="M444.8 41.5Q450.0 41.6 452.3 37.5Q447.1 37.5 444.8 41.5Z" fill="#8ab464"/><path d="M444.8 41.5Q442.0 37.6 436.8 38.0Q439.5 42.0 444.8 41.5Z" fill="#8ab464"/><path d="M444.8 41.5Q447.3 39.8 444.8 38.0Q442.2 39.8 444.8 41.5Z" fill="#8ab464"/><ellipse cx="444.8" cy="41.8" rx="5.2" ry="2.8" fill="#8ab464"/>
<defs><linearGradient id="g3" x1="0" y1="0" x2="0" y2="1"><stop offset="0" stop-color="#ec6a4c"/><stop offset="1" stop-color="#e04a34"/></linearGradient></defs><clipPath id="c3"><path d="M15,36 C10,36 4,30 2,23 C0.3,17 -0.3,11 1,7 C3,2.5 27,2.5 29,7 C30.3,11 29.7,17 28,23 C26,30 20,36 15,36 Z"/></clipPath><g transform="translate(470.6,35.7) scale(1.100,1.109)"><path d="M15,36 C10,36 4,30 2,23 C0.3,17 -0.3,11 1,7 C3,2.5 27,2.5 29,7 C30.3,11 29.7,17 28,23 C26,30 20,36 15,36 Z" fill="url(#g3)"/><path clip-path="url(#c3)" stroke="#f2eab0" stroke-opacity="0.5" stroke-width="0.82" stroke-linecap="round" fill="none" d="M-0.1 5.3h0M3.5 6.7h0M5.2 6.9h0M8.0 5.2h0M11.3 6.5h0M15.4 5.7h0M19.0 5.2h0M21.4 6.3h0M23.8 5.5h0M26.1 6.8h0M30.6 6.5h0M0.8 9.3h0M5.1 9.5h0M6.6 8.6h0M11.5 9.2h0M13.9 8.4h0M16.2 9.2h0M20.6 8.7h0M22.5 9.2h0M25.6 8.8h0M29.6 8.6h0M32.3 8.3h0M0.8 11.2h0M2.4 11.9h0M6.5 11.1h0M8.6 11.8h0M13.1 11.8h0M14.8 12.0h0M18.0 11.3h0M21.8 12.3h0M25.1 13.0h0M26.7 11.2h0M29.0 12.3h0M0.6 15.6h0M5.3 14.3h0M7.8 15.5h0M10.6 14.8h0M12.8 14.2h0M16.5 14.2h0M20.0 15.2h0M23.3 15.4h0M25.0 15.6h0M28.4 14.3h0M32.6 14.5h0M-0.6 18.6h0M2.0 17.8h0M6.8 18.9h0M8.1 17.9h0M11.2 18.0h0M15.9 18.0h0M19.1 17.5h0M20.1 18.9h0M23.2 18.6h0M26.2 17.6h0M29.1 17.2h0M2.2 20.3h0M4.7 20.6h0M7.7 21.3h0M10.8 21.1h0M12.8 21.5h0M17.5 21.6h0M20.0 21.7h0M22.6 20.6h0M25.2 21.9h0M28.2 20.5h0M31.8 20.1h0M-0.3 24.6h0M2.2 24.0h0M5.1 24.9h0M7.9 24.3h0M11.6 23.3h0M14.1 23.1h0M18.7 25.0h0M21.3 23.9h0M25.0 23.2h0M27.2 23.8h0M30.1 24.7h0M1.0 26.3h0M4.2 26.6h0M7.9 27.1h0M10.0 26.1h0M12.4 27.9h0M15.4 27.0h0M18.3 26.8h0M21.8 26.2h0M26.0 26.6h0M29.6 26.8h0M30.4 28.0h0M-0.6 30.3h0M3.2 30.7h0M7.0 30.7h0M8.6 30.3h0M12.6 29.6h0M15.4 29.3h0M17.4 29.2h0M21.8 30.0h0M23.2 29.9h0M27.1 29.4h0M29.9 30.8h0M1.4 32.4h0M5.2 32.5h0M7.7 32.4h0M9.8 32.8h0M13.5 32.5h0M16.1 32.8h0M20.4 33.1h0M23.4 32.4h0M26.6 33.6h0M28.5 33.5h0M31.3 32.7h0"/></g><path d="M487.1,41.5 Q486.6,37.2 488.1,36.0" stroke="#7aa852" stroke-width="1.6" fill="none"/><path d="M487.1 41.5Q494.8 43.7 502.1 40.5Q494.4 38.4 487.1 41.5Z" fill="#7aa852"/><path d="M487.1 41.5Q492.7 46.0 500.4 45.5Q494.7 41.0 487.1 41.5Z" fill="#7aa852"/><path d="M487.1 41.5Q488.7 46.5 494.4 48.0Q492.8 43.0 487.1 41.5Z" fill="#7aa852"/><path d="M487.1 41.5Q485.1 44.7 488.4 47.1Q490.4 43.8 487.1 41.5Z" fill="#7aa852"/><path d="M487.1 41.5Q482.3 44.2 482.3 49.2Q487.1 46.5 487.1 41.5Z" fill="#7aa852"/><path d="M487.1 41.5Q479.6 41.9 474.7 46.9Q482.2 46.5 487.1 41.5Z" fill="#7aa852"/><path d="M487.1 41.5Q479.8 38.4 472.1 40.5Q479.4 43.7 487.1 41.5Z" fill="#7aa852"/><path d="M487.1 41.5Q492.9 41.4 495.7 37.0Q489.9 37.1 487.1 41.5Z" fill="#7aa852"/><path d="M487.1 41.5Q483.9 37.2 478.0 37.5Q481.2 41.8 487.1 41.5Z" fill="#7aa852"/><path d="M487.1 41.5Q489.8 39.5 487.1 37.5Q484.4 39.5 487.1 41.5Z" fill="#7aa852"/><ellipse cx="487.1" cy="41.8" rx="5.6" ry="2.8" fill="#7aa852"/>
<defs><linearGradient id="g4" x1="0" y1="0" x2="0" y2="1"><stop offset="0" stop-color="#cc2c2a"/><stop offset="1" stop-color="#b01c20"/></linearGradient></defs><clipPath id="c4"><path d="M15,36 C10,36 4,30 2,23 C0.3,17 -0.3,11 1,7 C3,2.5 27,2.5 29,7 C30.3,11 29.7,17 28,23 C26,30 20,36 15,36 Z"/></clipPath><g transform="translate(513.5,38.4) scale(1.117,1.058)"><path d="M15,36 C10,36 4,30 2,23 C0.3,17 -0.3,11 1,7 C3,2.5 27,2.5 29,7 C30.3,11 29.7,17 28,23 C26,30 20,36 15,36 Z" fill="url(#g4)"/><path clip-path="url(#c4)" stroke="#f2eab0" stroke-opacity="0.5" stroke-width="0.81" stroke-linecap="round" fill="none" d="M0.7 6.7h0M3.0 6.5h0M6.1 5.7h0M8.8 5.3h0M12.7 7.0h0M14.0 6.8h0M17.6 6.6h0M20.0 6.6h0M23.6 5.7h0M27.5 6.9h0M30.3 6.2h0M0.5 8.6h0M4.6 9.5h0M7.6 8.2h0M11.2 9.6h0M14.0 9.4h0M17.1 8.0h0M19.9 9.6h0M23.3 9.1h0M26.1 8.5h0M28.1 8.6h0M31.7 9.3h0M0.2 12.7h0M3.2 12.2h0M5.7 11.4h0M9.2 11.4h0M12.0 11.1h0M14.9 11.2h0M18.8 12.8h0M21.0 11.3h0M24.5 12.2h0M26.7 12.8h0M30.4 11.1h0M2.6 14.4h0M3.4 14.3h0M8.7 14.0h0M10.6 15.3h0M14.7 15.9h0M17.0 14.3h0M19.2 15.8h0M22.4 15.0h0M26.6 14.9h0M27.8 15.1h0M31.4 14.8h0M-0.1 18.9h0M1.8 18.8h0M6.0 18.7h0M8.6 18.4h0M10.8 18.4h0M14.8 17.7h0M17.8 17.5h0M20.0 18.8h0M24.3 17.5h0M26.1 18.3h0M30.2 18.6h0M0.4 21.6h0M3.3 21.5h0M8.3 21.9h0M10.5 20.7h0M12.7 21.6h0M17.6 21.8h0M20.1 22.0h0M22.5 21.2h0M26.4 22.0h0M28.2 20.3h0M30.6 20.4h0M0.5 24.3h0M1.9 23.7h0M4.8 23.6h0M8.7 24.1h0M11.4 24.4h0M14.9 23.0h0M18.2 24.6h0M21.8 24.3h0M24.7 23.3h0M26.2 24.9h0M30.0 23.9h0M1.5 26.1h0M4.0 27.7h0M7.7 27.2h0M11.0 26.0h0M12.7 26.4h0M16.2 27.1h0M20.2 27.9h0M22.0 27.6h0M26.1 26.8h0M29.4 26.8h0M32.0 26.6h0M-0.4 29.8h0M3.5 30.6h0M5.4 30.1h0M9.5 29.7h0M12.2 30.7h0M14.1 30.1h0M17.5 29.8h0M21.6 29.6h0M22.9 30.3h0M26.5 30.1h0M29.7 30.3h0M2.5 34.0h0M3.9 32.5h0M8.5 33.8h0M11.4 32.3h0M13.8 33.6h0M16.9 32.7h0M19.3 33.4h0M23.5 32.4h0M24.7 32.9h0M28.0 33.5h0M31.9 32.2h0"/></g><path d="M530.2,44.1 Q529.8,39.8 531.2,38.6" stroke="#6aa048" stroke-width="1.6" fill="none"/><path d="M530.2 44.1Q537.3 46.0 543.9 43.2Q536.9 41.3 530.2 44.1Z" fill="#6aa048"/><path d="M530.2 44.1Q535.4 48.1 542.3 47.7Q537.2 43.7 530.2 44.1Z" fill="#6aa048"/><path d="M530.2 44.1Q531.7 48.6 536.8 50.0Q535.4 45.5 530.2 44.1Z" fill="#6aa048"/><path d="M530.2 44.1Q528.5 47.0 531.4 49.1Q533.2 46.2 530.2 44.1Z" fill="#6aa048"/><path d="M530.2 44.1Q525.9 46.6 525.9 51.1Q530.2 48.6 530.2 44.1Z" fill="#6aa048"/><path d="M530.2 44.1Q523.4 44.5 519.0 49.0Q525.8 48.6 530.2 44.1Z" fill="#6aa048"/><path d="M530.2 44.1Q523.6 41.3 516.6 43.2Q523.2 46.0 530.2 44.1Z" fill="#6aa048"/><path d="M530.2 44.1Q535.5 44.0 538.1 40.0Q532.8 40.1 530.2 44.1Z" fill="#6aa048"/><path d="M530.2 44.1Q527.3 40.2 522.0 40.5Q524.9 44.4 530.2 44.1Z" fill="#6aa048"/><path d="M530.2 44.1Q532.6 42.3 530.2 40.5Q527.9 42.3 530.2 44.1Z" fill="#6aa048"/><ellipse cx="530.2" cy="44.4" rx="5.7" ry="2.8" fill="#6aa048"/>
<defs><linearGradient id="g5" x1="0" y1="0" x2="0" y2="1"><stop offset="0" stop-color="#e0e2ca"/><stop offset="1" stop-color="#d6d9bc"/></linearGradient></defs><clipPath id="c5"><path d="M15,36 C10,36 4,30 2,23 C0.3,17 -0.3,11 1,7 C3,2.5 27,2.5 29,7 C30.3,11 29.7,17 28,23 C26,30 20,36 15,36 Z"/></clipPath><g transform="translate(397.0,112.7) scale(0.783,0.945)"><path d="M15,36 C10,36 4,30 2,23 C0.3,17 -0.3,11 1,7 C3,2.5 27,2.5 29,7 C30.3,11 29.7,17 28,23 C26,30 20,36 15,36 Z" fill="url(#g5)"/><path clip-path="url(#c5)" stroke="#f2eab0" stroke-opacity="0.5" stroke-width="1.15" stroke-linecap="round" fill="none" d="M0.2 6.8h0M2.6 6.3h0M6.2 6.2h0M9.2 5.5h0M11.7 6.5h0M13.9 6.6h0M17.1 6.1h0M21.3 6.6h0M25.1 6.5h0M27.3 6.8h0M29.3 7.0h0M2.4 9.4h0M5.0 9.9h0M7.1 8.9h0M10.2 9.3h0M12.6 8.6h0M15.5 8.3h0M18.8 9.0h0M21.8 9.6h0M24.4 8.2h0M29.5 8.4h0M32.0 8.1h0M0.7 11.9h0M3.8 12.1h0M5.2 11.7h0M9.5 12.2h0M10.9 11.7h0M14.1 11.9h0M17.3 12.5h0M21.0 11.1h0M24.9 12.6h0M27.2 11.9h0M28.9 11.7h0M0.6 15.0h0M5.7 14.2h0M6.4 15.8h0M9.6 14.0h0M13.1 15.6h0M16.5 15.1h0M19.1 15.4h0M22.6 14.5h0M24.4 14.6h0M27.7 15.2h0M32.4 14.2h0M0.9 18.1h0M3.3 17.7h0M5.9 17.4h0M9.0 17.1h0M12.8 18.4h0M14.9 18.8h0M18.0 18.7h0M21.4 17.4h0M22.8 18.0h0M27.8 17.5h0M28.8 18.5h0M2.1 21.7h0M5.0 21.4h0M7.1 20.4h0M10.1 20.7h0M13.2 20.2h0M17.2 21.2h0M19.0 21.8h0M21.6 20.0h0M25.6 21.8h0M29.0 20.3h0M30.5 20.9h0M-0.2 24.3h0M1.8 24.4h0M6.9 23.4h0M9.8 24.1h0M12.2 24.9h0M15.0 23.3h0M17.7 23.4h0M21.0 23.8h0M24.7 24.9h0M27.2 24.1h0M28.8 23.6h0M0.6 27.5h0M3.9 27.6h0M7.3 27.1h0M10.6 27.0h0M13.9 26.6h0M15.4 27.1h0M20.5 26.2h0M21.6 26.3h0M25.3 26.5h0M27.6 27.7h0M31.3 26.7h0M1.2 30.2h0M2.3 29.1h0M6.5 30.4h0M9.3 29.9h0M12.4 30.9h0M16.2 29.2h0M18.7 29.1h0M21.9 30.6h0M24.8 29.7h0M27.7 29.9h0M30.4 29.9h0M0.9 32.3h0M5.1 33.9h0M8.4 33.1h0M10.4 33.5h0M14.6 33.6h0M16.7 33.4h0M19.2 32.6h0M21.7 32.7h0M24.9 32.2h0M29.3 33.1h0M30.3 32.2h0"/></g><path d="M408.8,118.0 Q408.2,109.5 409.8,105.5" stroke="#8cb05e" stroke-width="1.6" fill="none"/><path d="M408.8 118.0Q416.1 121.0 422.8 117.1Q415.5 114.1 408.8 118.0Z" fill="#8cb05e"/><path d="M408.8 118.0Q413.6 123.1 421.2 121.8Q416.3 116.6 408.8 118.0Z" fill="#8cb05e"/><path d="M408.8 118.0Q409.5 123.3 415.5 124.1Q414.8 118.8 408.8 118.0Z" fill="#8cb05e"/><path d="M408.8 118.0Q405.9 121.2 410.0 123.2Q412.8 120.0 408.8 118.0Z" fill="#8cb05e"/><path d="M408.8 118.0Q403.3 120.1 404.3 125.2Q409.7 123.1 408.8 118.0Z" fill="#8cb05e"/><path d="M408.8 118.0Q401.2 117.5 397.1 123.0Q404.7 123.5 408.8 118.0Z" fill="#8cb05e"/><path d="M408.8 118.0Q402.0 114.1 394.7 117.1Q401.4 121.0 408.8 118.0Z" fill="#8cb05e"/><path d="M408.8 118.0Q414.8 118.7 416.8 113.8Q410.8 113.0 408.8 118.0Z" fill="#8cb05e"/><path d="M408.8 118.0Q406.2 113.1 400.2 114.3Q402.7 119.2 408.8 118.0Z" fill="#8cb05e"/><path d="M408.8 118.0Q412.2 116.1 408.8 114.3Q405.2 116.1 408.8 118.0Z" fill="#8cb05e"/><ellipse cx="408.8" cy="118.3" rx="4.0" ry="2.8" fill="#8cb05e"/>
<defs><linearGradient id="g6" x1="0" y1="0" x2="0" y2="1"><stop offset="0" stop-color="#ece8da"/><stop offset="0.42" stop-color="#eadcc8"/><stop offset="0.66" stop-color="#e4583a"/><stop offset="1" stop-color="#dc3a28"/></linearGradient></defs><clipPath id="c6"><path d="M15,36 C10,36 4,30 2,23 C0.3,17 -0.3,11 1,7 C3,2.5 27,2.5 29,7 C30.3,11 29.7,17 28,23 C26,30 20,36 15,36 Z"/></clipPath><g transform="translate(431.5,111.2) scale(1.003,1.070)"><path d="M15,36 C10,36 4,30 2,23 C0.3,17 -0.3,11 1,7 C3,2.5 27,2.5 29,7 C30.3,11 29.7,17 28,23 C26,30 20,36 15,36 Z" fill="url(#g6)"/><path clip-path="url(#c6)" stroke="#f2eab0" stroke-opacity="0.5" stroke-width="0.90" stroke-linecap="round" fill="none" d="M0.9 5.4h0M2.4 5.6h0M5.8 5.7h0M8.5 7.0h0M11.5 6.0h0M15.5 5.6h0M18.8 6.3h0M20.2 6.7h0M24.5 6.4h0M26.5 6.2h0M30.2 5.3h0M1.0 8.1h0M4.5 9.0h0M8.1 9.7h0M9.4 9.3h0M13.9 9.6h0M15.5 8.3h0M20.0 10.0h0M23.3 9.5h0M26.0 8.0h0M27.9 9.7h0M32.6 8.9h0M-0.4 11.9h0M3.7 11.4h0M5.7 11.4h0M9.6 12.1h0M11.9 11.5h0M16.0 12.9h0M17.9 12.5h0M19.9 12.2h0M23.6 12.3h0M26.9 12.6h0M30.7 12.6h0M1.6 14.7h0M5.0 14.9h0M7.4 15.4h0M11.6 15.6h0M13.1 15.4h0M16.0 15.8h0M19.7 15.5h0M22.3 14.9h0M26.2 14.9h0M29.2 15.0h0M30.6 15.9h0M0.6 17.4h0M3.8 18.7h0M6.2 18.6h0M7.8 18.1h0M12.2 17.3h0M15.7 18.7h0M16.8 18.7h0M22.1 18.1h0M23.2 18.6h0M27.5 17.3h0M29.3 17.6h0M0.5 21.0h0M4.7 20.1h0M7.8 22.0h0M9.3 20.4h0M12.8 21.2h0M16.7 21.3h0M18.8 20.7h0M22.8 20.5h0M26.4 21.5h0M27.9 21.8h0M32.0 20.9h0M-0.6 23.2h0M2.2 23.0h0M5.8 24.9h0M8.6 24.4h0M11.7 24.5h0M15.8 23.7h0M18.4 23.8h0M21.4 24.8h0M23.8 24.5h0M26.7 23.3h0M31.0 24.7h0M1.4 27.3h0M3.4 26.8h0M8.6 27.9h0M11.0 27.1h0M12.7 26.7h0M15.9 26.1h0M20.5 27.8h0M21.3 26.4h0M25.2 26.4h0M28.6 27.6h0M30.4 26.7h0M-0.4 30.4h0M4.1 29.9h0M6.2 30.9h0M9.6 30.9h0M11.2 29.8h0M14.2 30.5h0M17.6 29.6h0M21.8 30.6h0M23.2 30.5h0M27.2 29.1h0M28.9 29.7h0M1.3 32.5h0M4.5 32.7h0M7.7 33.2h0M10.9 33.0h0M13.5 33.6h0M16.4 32.8h0M19.2 32.7h0M22.5 34.0h0M24.3 33.1h0M27.5 33.4h0M30.5 33.4h0"/></g><path d="M446.6,116.9 Q446.1,107.8 447.6,103.4" stroke="#7aa852" stroke-width="1.6" fill="none"/><path d="M446.6 116.9Q454.0 119.2 460.9 116.0Q453.5 113.6 446.6 116.9Z" fill="#7aa852"/><path d="M446.6 116.9Q451.9 121.4 459.3 120.8Q454.0 116.2 446.6 116.9Z" fill="#7aa852"/><path d="M446.6 116.9Q447.9 121.8 453.5 123.1Q452.2 118.2 446.6 116.9Z" fill="#7aa852"/><path d="M446.6 116.9Q444.4 120.1 447.8 122.2Q449.9 119.1 446.6 116.9Z" fill="#7aa852"/><path d="M446.6 116.9Q441.7 119.4 442.0 124.3Q446.8 121.8 446.6 116.9Z" fill="#7aa852"/><path d="M446.6 116.9Q439.2 117.0 434.7 122.0Q442.0 121.9 446.6 116.9Z" fill="#7aa852"/><path d="M446.6 116.9Q439.6 113.6 432.2 116.0Q439.1 119.2 446.6 116.9Z" fill="#7aa852"/><path d="M446.6 116.9Q452.3 117.0 454.8 112.5Q449.1 112.4 446.6 116.9Z" fill="#7aa852"/><path d="M446.6 116.9Q443.6 112.6 437.8 113.1Q440.8 117.4 446.6 116.9Z" fill="#7aa852"/><path d="M446.6 116.9Q449.4 115.0 446.6 113.1Q443.8 115.0 446.6 116.9Z" fill="#7aa852"/><ellipse cx="446.6" cy="117.2" rx="5.1" ry="2.8" fill="#7aa852"/>
<defs><linearGradient id="g7" x1="0" y1="0" x2="0" y2="1"><stop offset="0" stop-color="#ec6a4c"/><stop offset="1" stop-color="#e04a34"/></linearGradient></defs><clipPath id="c7"><path d="M15,36 C10,36 4,30 2,23 C0.3,17 -0.3,11 1,7 C3,2.5 27,2.5 29,7 C30.3,11 29.7,17 28,23 C26,30 20,36 15,36 Z"/></clipPath><g transform="translate(473.5,110.3) scale(0.917,1.061)"><path d="M15,36 C10,36 4,30 2,23 C0.3,17 -0.3,11 1,7 C3,2.5 27,2.5 29,7 C30.3,11 29.7,17 28,23 C26,30 20,36 15,36 Z" fill="url(#g7)"/><path clip-path="url(#c7)" stroke="#f2eab0" stroke-opacity="0.5" stroke-width="0.98" stroke-linecap="round" fill="none" d="M-1.1 6.7h0M2.6 5.3h0M6.7 5.6h0M8.4 5.7h0M12.4 6.2h0M14.4 5.8h0M18.4 6.0h0M21.7 6.2h0M24.7 5.8h0M26.8 6.0h0M31.1 6.6h0M0.6 10.0h0M5.5 8.2h0M7.0 8.3h0M11.6 9.3h0M13.1 8.3h0M17.5 8.7h0M18.8 9.4h0M23.0 9.2h0M26.1 8.0h0M27.5 8.3h0M32.3 9.5h0M-1.1 11.7h0M1.8 11.2h0M5.5 11.1h0M9.7 12.8h0M13.1 11.4h0M16.1 11.5h0M17.1 11.8h0M21.8 12.7h0M22.9 11.7h0M26.4 11.9h0M29.4 12.8h0M2.6 15.1h0M5.5 14.3h0M7.5 14.9h0M10.5 14.2h0M12.8 15.3h0M16.7 15.0h0M18.9 14.8h0M23.5 14.6h0M26.6 14.9h0M28.0 14.9h0M30.8 15.0h0M-0.6 18.4h0M3.1 17.8h0M4.9 18.2h0M10.1 17.2h0M12.9 17.8h0M14.2 18.8h0M19.0 17.2h0M21.8 17.0h0M23.3 18.2h0M26.6 17.6h0M29.7 17.9h0M2.1 20.2h0M3.5 20.3h0M7.2 20.8h0M10.2 20.5h0M12.7 21.1h0M17.0 21.6h0M20.0 21.5h0M23.1 20.8h0M26.4 21.5h0M28.5 20.5h0M30.4 21.9h0M0.0 24.7h0M2.8 23.1h0M7.1 24.5h0M8.6 23.9h0M12.4 23.6h0M15.5 23.4h0M16.9 23.2h0M20.3 23.4h0M24.4 23.1h0M26.1 23.8h0M29.5 23.9h0M1.3 27.7h0M5.3 26.5h0M8.6 26.4h0M11.5 27.1h0M14.1 27.7h0M16.6 27.0h0M19.7 27.9h0M23.6 26.2h0M24.7 27.0h0M27.5 27.5h0M30.5 26.6h0M-0.2 29.1h0M3.7 30.6h0M5.2 30.1h0M8.8 29.8h0M11.6 30.3h0M15.2 29.4h0M17.8 30.8h0M20.1 30.1h0M23.7 30.9h0M26.6 29.7h0M30.5 29.2h0M1.4 32.2h0M4.5 33.4h0M6.3 32.3h0M11.0 33.9h0M14.4 32.3h0M16.2 32.4h0M20.1 32.2h0M21.7 32.5h0M26.2 33.0h0M28.1 32.5h0M31.1 32.0h0"/></g><path d="M487.2,116.0 Q486.8,106.9 488.2,102.5" stroke="#6aa046" stroke-width="1.6" fill="none"/><path d="M487.2 116.0Q496.1 119.1 504.3 114.9Q495.5 111.8 487.2 116.0Z" fill="#6aa046"/><path d="M487.2 116.0Q493.4 121.7 502.4 120.6Q496.2 114.9 487.2 116.0Z" fill="#6aa046"/><path d="M487.2 116.0Q488.6 122.0 495.5 123.4Q494.2 117.4 487.2 116.0Z" fill="#6aa046"/><path d="M487.2 116.0Q484.4 119.8 488.7 122.3Q491.6 118.5 487.2 116.0Z" fill="#6aa046"/><path d="M487.2 116.0Q481.2 118.8 481.8 124.7Q487.8 121.9 487.2 116.0Z" fill="#6aa046"/><path d="M487.2 116.0Q478.4 115.9 473.1 122.1Q482.0 122.2 487.2 116.0Z" fill="#6aa046"/><path d="M487.2 116.0Q479.0 111.8 470.2 114.9Q478.4 119.1 487.2 116.0Z" fill="#6aa046"/><path d="M487.2 116.0Q494.3 116.4 497.1 110.8Q490.1 110.4 487.2 116.0Z" fill="#6aa046"/><path d="M487.2 116.0Q483.9 110.6 476.8 111.5Q480.2 116.9 487.2 116.0Z" fill="#6aa046"/><path d="M487.2 116.0Q490.9 113.7 487.2 111.5Q483.6 113.7 487.2 116.0Z" fill="#6aa046"/><ellipse cx="487.2" cy="116.3" rx="4.7" ry="2.8" fill="#6aa046"/>
<defs><linearGradient id="g8" x1="0" y1="0" x2="0" y2="1"><stop offset="0" stop-color="#cc2c2a"/><stop offset="1" stop-color="#b01c20"/></linearGradient></defs><clipPath id="c8"><path d="M15,36 C10,36 4,30 2,23 C0.3,17 -0.3,11 1,7 C3,2.5 27,2.5 29,7 C30.3,11 29.7,17 28,23 C26,30 20,36 15,36 Z"/></clipPath><g transform="translate(514.7,111.4) scale(0.977,1.045)"><path d="M15,36 C10,36 4,30 2,23 C0.3,17 -0.3,11 1,7 C3,2.5 27,2.5 29,7 C30.3,11 29.7,17 28,23 C26,30 20,36 15,36 Z" fill="url(#g8)"/><path clip-path="url(#c8)" stroke="#f07070" stroke-opacity="0.4" stroke-width="0.92" stroke-linecap="round" fill="none" d="M0.5 6.2h0M4.0 6.0h0M6.0 6.9h0M9.1 6.6h0M10.9 6.7h0M14.9 5.4h0M18.9 6.8h0M19.9 6.1h0M24.0 5.5h0M27.3 6.2h0M30.9 5.8h0M2.2 8.8h0M3.4 8.9h0M7.9 8.5h0M10.2 9.5h0M12.6 9.3h0M16.6 8.7h0M18.6 8.3h0M23.3 9.5h0M25.5 9.3h0M29.2 9.9h0M30.8 9.3h0M0.5 12.6h0M3.0 12.9h0M5.0 11.1h0M9.3 12.2h0M10.9 12.7h0M15.8 11.1h0M17.8 12.6h0M20.9 13.0h0M23.5 11.6h0M27.0 11.3h0M30.4 12.8h0M2.4 14.2h0M5.2 14.6h0M8.4 15.6h0M10.5 14.4h0M12.4 15.4h0M17.4 15.1h0M19.3 14.9h0M23.0 14.5h0M24.5 15.1h0M27.5 15.1h0M30.7 14.3h0M-1.1 18.1h0M3.4 18.1h0M6.3 18.1h0M9.6 17.4h0M11.7 18.2h0M14.0 18.6h0M18.1 18.6h0M20.8 17.5h0M23.2 18.6h0M26.3 18.7h0M28.9 17.2h0M1.0 20.2h0M5.5 21.4h0M6.6 21.4h0M11.4 20.6h0M12.7 20.2h0M16.9 21.2h0M19.4 21.5h0M21.6 21.0h0M25.3 21.3h0M28.3 21.5h0M30.5 20.9h0M-0.1 24.3h0M1.9 24.8h0M5.4 23.1h0M7.9 24.2h0M11.4 24.8h0M16.0 24.4h0M17.4 23.7h0M21.1 24.3h0M24.9 24.3h0M27.1 24.3h0M30.9 24.8h0M1.0 27.8h0M5.7 27.2h0M7.3 26.9h0M9.5 26.6h0M13.1 26.8h0M15.8 26.6h0M19.4 27.4h0M23.1 26.7h0M24.9 26.9h0M28.2 26.8h0M30.7 26.9h0M0.4 31.0h0M3.9 30.5h0M5.3 29.1h0M7.9 29.8h0M11.7 29.7h0M15.8 29.1h0M19.2 29.4h0M21.7 30.6h0M24.7 30.8h0M26.7 29.2h0M30.7 29.7h0M1.1 32.7h0M4.5 33.0h0M8.4 33.4h0M10.1 32.2h0M13.7 33.9h0M17.2 33.8h0M19.7 33.3h0M22.0 32.8h0M26.5 33.3h0M29.0 32.5h0M31.9 32.9h0"/></g><path d="M529.4,117.0 Q528.9,109.1 530.4,105.5" stroke="#6aa046" stroke-width="1.6" fill="none"/><path d="M529.4 117.0Q536.6 119.3 543.4 116.1Q536.1 113.8 529.4 117.0Z" fill="#6aa046"/><path d="M529.4 117.0Q534.5 121.5 541.7 120.8Q536.6 116.3 529.4 117.0Z" fill="#6aa046"/><path d="M529.4 117.0Q530.6 121.8 536.1 123.1Q534.9 118.2 529.4 117.0Z" fill="#6aa046"/><path d="M529.4 117.0Q527.2 120.1 530.6 122.2Q532.7 119.1 529.4 117.0Z" fill="#6aa046"/><path d="M529.4 117.0Q524.6 119.4 524.9 124.2Q529.7 121.8 529.4 117.0Z" fill="#6aa046"/><path d="M529.4 117.0Q522.2 117.1 517.8 122.0Q525.0 121.9 529.4 117.0Z" fill="#6aa046"/><path d="M529.4 117.0Q522.6 113.8 515.3 116.1Q522.1 119.3 529.4 117.0Z" fill="#6aa046"/><path d="M529.4 117.0Q535.0 117.2 537.4 112.8Q531.8 112.6 529.4 117.0Z" fill="#6aa046"/><path d="M529.4 117.0Q526.5 112.7 520.8 113.3Q523.7 117.6 529.4 117.0Z" fill="#6aa046"/><path d="M529.4 117.0Q532.1 115.2 529.4 113.3Q526.6 115.2 529.4 117.0Z" fill="#6aa046"/><ellipse cx="529.4" cy="117.3" rx="5.0" ry="2.8" fill="#6aa046"/>
<defs><linearGradient id="g9" x1="0" y1="0" x2="0" y2="1"><stop offset="0" stop-color="#c9cf98"/><stop offset="1" stop-color="#b8c084"/></linearGradient></defs><clipPath id="c9"><path d="M15,36 C10,36 4,30 2,23 C0.3,17 -0.3,11 1,7 C3,2.5 27,2.5 29,7 C30.3,11 29.7,17 28,23 C26,30 20,36 15,36 Z"/></clipPath><g transform="translate(397.0,184.9) scale(0.950,1.021)"><path d="M15,36 C10,36 4,30 2,23 C0.3,17 -0.3,11 1,7 C3,2.5 27,2.5 29,7 C30.3,11 29.7,17 28,23 C26,30 20,36 15,36 Z" fill="url(#g9)"/><path clip-path="url(#c9)" stroke="#f2eab0" stroke-opacity="0.5" stroke-width="0.95" stroke-linecap="round" fill="none" d="M0.6 5.6h0M2.3 6.3h0M5.6 5.9h0M8.7 5.6h0M12.9 6.3h0M13.8 6.0h0M19.2 5.7h0M21.0 6.4h0M24.9 6.9h0M27.8 6.0h0M29.3 6.5h0M1.2 8.1h0M4.3 8.7h0M8.2 9.4h0M10.4 9.6h0M14.4 8.5h0M15.9 9.0h0M19.3 9.1h0M22.7 9.0h0M26.7 8.4h0M27.3 9.2h0M30.7 8.3h0M0.3 12.1h0M3.7 12.0h0M7.1 11.4h0M8.2 12.7h0M11.8 12.3h0M15.3 11.2h0M17.0 11.6h0M20.4 12.2h0M23.6 12.1h0M28.0 12.6h0M30.5 12.0h0M1.3 15.3h0M3.8 14.1h0M7.2 15.1h0M10.4 14.4h0M12.9 14.2h0M16.0 15.6h0M20.3 14.9h0M22.9 14.8h0M26.3 15.8h0M29.3 14.9h0M32.5 16.0h0M0.9 17.2h0M3.2 18.8h0M6.7 19.0h0M9.0 17.1h0M11.1 17.2h0M14.1 19.0h0M18.0 17.2h0M21.6 17.1h0M24.5 17.9h0M26.1 17.4h0M30.3 17.6h0M0.8 21.5h0M4.2 21.5h0M8.5 20.0h0M10.5 20.7h0M14.0 21.6h0M17.1 21.4h0M18.9 21.1h0M22.2 21.4h0M25.9 20.7h0M27.9 21.2h0M31.7 21.3h0M0.7 24.1h0M3.3 24.1h0M5.4 24.2h0M7.9 24.9h0M11.6 25.0h0M15.4 23.6h0M17.9 23.6h0M22.1 23.5h0M23.0 23.0h0M26.1 23.9h0M30.1 23.7h0M0.4 26.6h0M4.6 27.3h0M7.9 26.7h0M11.5 26.1h0M12.5 27.2h0M16.4 27.7h0M19.2 27.8h0M23.1 27.0h0M25.1 26.2h0M28.7 26.5h0M31.8 27.3h0M0.8 29.6h0M4.0 29.8h0M5.6 30.3h0M9.4 30.8h0M11.4 30.5h0M14.9 30.3h0M16.9 30.2h0M20.4 29.9h0M24.1 29.7h0M28.0 30.8h0M30.7 30.0h0M0.6 32.6h0M3.8 32.5h0M7.1 32.1h0M10.3 33.5h0M13.2 32.3h0M15.8 33.2h0M18.3 33.0h0M23.4 33.3h0M26.4 33.6h0M29.6 32.5h0M31.2 32.3h0"/></g><path d="M411.2,190.5 Q410.8,186.2 412.2,185.0" stroke="#94a46c" stroke-width="1.6" fill="none"/><path d="M411.2 190.5Q418.0 192.7 424.2 189.7Q417.5 187.4 411.2 190.5Z" fill="#94a46c"/><path d="M411.2 190.5Q416.0 194.7 422.7 194.0Q418.0 189.8 411.2 190.5Z" fill="#94a46c"/><path d="M411.2 190.5Q412.3 195.0 417.5 196.1Q416.4 191.6 411.2 190.5Z" fill="#94a46c"/><path d="M411.2 190.5Q409.2 193.4 412.4 195.3Q414.4 192.4 411.2 190.5Z" fill="#94a46c"/><path d="M411.2 190.5Q406.8 192.7 407.1 197.1Q411.6 194.9 411.2 190.5Z" fill="#94a46c"/><path d="M411.2 190.5Q404.6 190.5 400.6 195.1Q407.2 195.1 411.2 190.5Z" fill="#94a46c"/><path d="M411.2 190.5Q405.0 187.4 398.3 189.7Q404.5 192.7 411.2 190.5Z" fill="#94a46c"/><path d="M411.2 190.5Q416.5 190.7 418.7 186.6Q413.5 186.4 411.2 190.5Z" fill="#94a46c"/><path d="M411.2 190.5Q408.6 186.5 403.4 187.1Q406.0 191.1 411.2 190.5Z" fill="#94a46c"/><path d="M411.2 190.5Q413.9 188.8 411.2 187.1Q408.6 188.8 411.2 190.5Z" fill="#94a46c"/><ellipse cx="411.2" cy="190.8" rx="4.8" ry="2.8" fill="#94a46c"/>
<defs><linearGradient id="g10" x1="0" y1="0" x2="0" y2="1"><stop offset="0" stop-color="#e8e2d2"/><stop offset="0.42" stop-color="#e8d4c0"/><stop offset="0.64" stop-color="#e05a3c"/><stop offset="1" stop-color="#d83a28"/></linearGradient></defs><clipPath id="c10"><path d="M15,36 C10,36 4,30 2,23 C0.3,17 -0.3,11 1,7 C3,2.5 27,2.5 29,7 C30.3,11 29.7,17 28,23 C26,30 20,36 15,36 Z"/></clipPath><g transform="translate(433.0,183.7) scale(1.023,1.106)"><path d="M15,36 C10,36 4,30 2,23 C0.3,17 -0.3,11 1,7 C3,2.5 27,2.5 29,7 C30.3,11 29.7,17 28,23 C26,30 20,36 15,36 Z" fill="url(#g10)"/><path clip-path="url(#c10)" stroke="#f2eab0" stroke-opacity="0.5" stroke-width="0.88" stroke-linecap="round" fill="none" d="M1.1 5.9h0M2.8 5.4h0M6.3 5.6h0M8.5 5.0h0M12.9 5.7h0M15.6 6.7h0M19.1 6.7h0M21.4 6.0h0M23.4 6.4h0M26.8 5.3h0M30.0 5.8h0M1.2 8.6h0M4.7 8.1h0M6.9 9.6h0M10.2 8.6h0M14.3 9.2h0M15.8 8.8h0M20.5 9.1h0M21.4 9.1h0M25.2 9.9h0M28.6 9.0h0M32.2 9.1h0M0.6 11.4h0M3.7 11.8h0M6.0 11.1h0M9.3 11.5h0M11.0 11.3h0M15.6 11.1h0M18.6 11.0h0M21.7 12.2h0M23.2 11.8h0M27.8 11.8h0M29.0 11.3h0M1.8 14.2h0M3.5 15.2h0M8.3 14.0h0M11.1 14.8h0M12.3 15.9h0M15.6 15.7h0M20.4 15.8h0M22.5 14.6h0M25.0 14.3h0M28.2 14.6h0M31.1 14.7h0M0.3 18.5h0M2.7 18.7h0M6.8 17.8h0M8.2 18.9h0M11.1 18.4h0M16.1 18.0h0M18.7 18.0h0M21.2 18.6h0M23.9 18.7h0M26.7 17.7h0M30.9 18.8h0M2.4 21.9h0M4.3 20.5h0M8.4 20.8h0M11.3 20.2h0M12.9 20.7h0M15.8 20.9h0M19.3 20.1h0M22.9 20.8h0M24.8 21.9h0M29.0 20.1h0M30.4 20.1h0M0.4 23.6h0M2.7 25.0h0M5.1 24.8h0M9.2 24.5h0M11.5 24.4h0M14.0 24.8h0M17.2 23.8h0M19.8 24.5h0M23.3 24.6h0M26.6 23.7h0M29.3 24.9h0M0.7 26.6h0M4.6 26.9h0M6.5 26.5h0M9.8 27.2h0M12.7 27.9h0M16.0 26.5h0M19.1 26.4h0M21.6 26.8h0M26.0 27.6h0M29.6 26.9h0M30.5 26.8h0M0.7 29.5h0M1.9 30.1h0M5.5 30.1h0M8.6 30.3h0M12.9 29.6h0M15.8 30.6h0M17.7 30.9h0M20.1 30.4h0M23.7 29.5h0M25.9 29.9h0M29.3 29.1h0M1.2 32.7h0M4.7 33.4h0M6.8 33.1h0M9.9 33.3h0M12.7 32.4h0M17.2 32.5h0M20.0 32.5h0M23.3 32.6h0M26.6 32.5h0M29.1 32.5h0M31.5 33.1h0"/></g><path d="M448.4,189.5 Q447.9,182.2 449.4,179.0" stroke="#7aa852" stroke-width="1.6" fill="none"/><path d="M448.4 189.5Q455.9 191.8 463.0 188.5Q455.4 186.2 448.4 189.5Z" fill="#7aa852"/><path d="M448.4 189.5Q453.8 194.1 461.3 193.4Q455.9 188.9 448.4 189.5Z" fill="#7aa852"/><path d="M448.4 189.5Q449.8 194.5 455.5 195.8Q454.0 190.9 448.4 189.5Z" fill="#7aa852"/><path d="M448.4 189.5Q446.2 192.7 449.6 194.9Q451.7 191.7 448.4 189.5Z" fill="#7aa852"/><path d="M448.4 189.5Q443.5 192.1 443.7 197.0Q448.6 194.4 448.4 189.5Z" fill="#7aa852"/><path d="M448.4 189.5Q440.9 189.7 436.2 194.7Q443.7 194.5 448.4 189.5Z" fill="#7aa852"/><path d="M448.4 189.5Q441.3 186.2 433.7 188.5Q440.8 191.8 448.4 189.5Z" fill="#7aa852"/><path d="M448.4 189.5Q454.2 189.6 456.8 185.1Q451.0 185.0 448.4 189.5Z" fill="#7aa852"/><path d="M448.4 189.5Q445.3 185.1 439.4 185.6Q442.5 190.0 448.4 189.5Z" fill="#7aa852"/><path d="M448.4 189.5Q451.2 187.6 448.4 185.6Q445.6 187.6 448.4 189.5Z" fill="#7aa852"/><ellipse cx="448.4" cy="189.8" rx="5.2" ry="2.8" fill="#7aa852"/>
<defs><linearGradient id="g11" x1="0" y1="0" x2="0" y2="1"><stop offset="0" stop-color="#e2432f"/><stop offset="1" stop-color="#d63226"/></linearGradient></defs><clipPath id="c11"><path d="M15,36 C10,36 4,30 2,23 C0.3,17 -0.3,11 1,7 C3,2.5 27,2.5 29,7 C30.3,11 29.7,17 28,23 C26,30 20,36 15,36 Z"/></clipPath><g transform="translate(473.6,182.1) scale(1.047,1.124)"><path d="M15,36 C10,36 4,30 2,23 C0.3,17 -0.3,11 1,7 C3,2.5 27,2.5 29,7 C30.3,11 29.7,17 28,23 C26,30 20,36 15,36 Z" fill="url(#g11)"/><path clip-path="url(#c11)" stroke="#f2eab0" stroke-opacity="0.5" stroke-width="0.86" stroke-linecap="round" fill="none" d="M0.6 5.8h0M2.3 6.2h0M6.2 5.7h0M9.0 6.5h0M13.1 6.9h0M14.4 6.8h0M18.4 5.5h0M21.8 5.5h0M24.1 6.7h0M25.9 6.1h0M30.2 6.5h0M2.1 9.1h0M3.4 9.0h0M7.3 9.1h0M10.1 9.5h0M12.8 9.7h0M15.4 8.1h0M20.5 9.0h0M22.0 9.0h0M25.1 9.8h0M27.9 9.5h0M32.5 9.8h0M-0.5 11.8h0M3.5 12.9h0M6.1 12.9h0M9.3 12.8h0M10.9 13.0h0M14.5 11.8h0M17.4 12.8h0M21.8 11.2h0M23.8 12.2h0M27.1 12.0h0M28.9 11.0h0M2.0 15.3h0M5.6 14.4h0M8.6 14.9h0M11.2 15.9h0M12.8 14.0h0M16.3 14.1h0M20.4 15.0h0M22.5 14.0h0M26.2 14.2h0M28.7 15.6h0M32.0 14.1h0M0.8 18.7h0M3.9 17.4h0M6.5 18.2h0M9.4 18.9h0M11.3 18.5h0M16.2 17.6h0M19.1 18.5h0M22.0 17.1h0M24.2 18.7h0M27.2 18.8h0M29.6 18.2h0M1.0 20.8h0M4.9 21.8h0M6.6 20.0h0M9.3 21.6h0M13.8 21.1h0M17.1 21.4h0M18.6 20.3h0M21.6 20.2h0M24.5 20.4h0M29.2 20.2h0M32.2 21.4h0M-1.0 23.1h0M4.0 23.9h0M5.7 23.4h0M9.3 24.0h0M12.6 24.9h0M15.1 24.2h0M18.5 24.2h0M21.9 24.3h0M24.2 24.0h0M26.8 24.4h0M31.0 24.9h0M2.4 26.1h0M4.0 27.8h0M7.3 26.0h0M10.5 27.8h0M13.4 26.1h0M16.6 26.5h0M18.8 27.9h0M21.7 26.2h0M24.8 27.4h0M29.1 26.4h0M31.4 27.3h0M-0.5 31.0h0M3.1 30.1h0M5.3 30.6h0M9.9 29.6h0M11.8 29.7h0M15.1 29.0h0M18.0 30.3h0M21.4 29.1h0M25.2 29.5h0M26.9 30.1h0M29.4 30.3h0M2.2 32.3h0M5.4 32.5h0M7.1 32.5h0M11.5 32.4h0M12.6 32.9h0M16.2 32.0h0M19.7 32.1h0M21.9 33.6h0M26.0 33.9h0M29.2 32.2h0M32.6 32.0h0"/></g><path d="M489.3,188.0 Q488.8,182.5 490.3,180.5" stroke="#6aa046" stroke-width="1.6" fill="none"/><path d="M489.3 188.0Q496.7 190.2 503.6 187.1Q496.2 184.9 489.3 188.0Z" fill="#6aa046"/><path d="M489.3 188.0Q494.6 192.4 501.9 191.8Q496.6 187.4 489.3 188.0Z" fill="#6aa046"/><path d="M489.3 188.0Q490.7 192.8 496.2 194.2Q494.8 189.4 489.3 188.0Z" fill="#6aa046"/><path d="M489.3 188.0Q487.3 191.1 490.5 193.3Q492.5 190.2 489.3 188.0Z" fill="#6aa046"/><path d="M489.3 188.0Q484.6 190.5 484.8 195.3Q489.4 192.8 489.3 188.0Z" fill="#6aa046"/><path d="M489.3 188.0Q482.1 188.2 477.5 193.1Q484.7 192.9 489.3 188.0Z" fill="#6aa046"/><path d="M489.3 188.0Q482.4 184.9 475.0 187.1Q481.9 190.2 489.3 188.0Z" fill="#6aa046"/><path d="M489.3 188.0Q494.9 188.0 497.5 183.7Q491.9 183.7 489.3 188.0Z" fill="#6aa046"/><path d="M489.3 188.0Q486.3 183.8 480.6 184.2Q483.6 188.4 489.3 188.0Z" fill="#6aa046"/><path d="M489.3 188.0Q492.0 186.1 489.3 184.2Q486.6 186.1 489.3 188.0Z" fill="#6aa046"/><ellipse cx="489.3" cy="188.3" rx="5.3" ry="2.8" fill="#6aa046"/>
<defs><linearGradient id="g12" x1="0" y1="0" x2="0" y2="1"><stop offset="0" stop-color="#b82226"/><stop offset="1" stop-color="#9c1a1e"/></linearGradient></defs><clipPath id="c12"><path d="M15,36 C10,36 4,30 2,23 C0.3,17 -0.3,11 1,7 C3,2.5 27,2.5 29,7 C30.3,11 29.7,17 28,23 C26,30 20,36 15,36 Z"/></clipPath><g transform="translate(515.6,181.2) scale(1.047,1.124)"><path d="M15,36 C10,36 4,30 2,23 C0.3,17 -0.3,11 1,7 C3,2.5 27,2.5 29,7 C30.3,11 29.7,17 28,23 C26,30 20,36 15,36 Z" fill="url(#g12)"/><path clip-path="url(#c12)" stroke="#f07070" stroke-opacity="0.4" stroke-width="0.86" stroke-linecap="round" fill="none" d="M0.7 5.1h0M3.3 5.6h0M5.1 5.2h0M9.0 6.1h0M13.0 5.6h0M14.7 5.8h0M18.7 6.3h0M21.3 5.1h0M24.3 5.6h0M27.4 6.0h0M30.8 6.7h0M1.1 8.4h0M4.7 9.4h0M7.4 8.0h0M10.2 9.3h0M13.8 9.1h0M16.9 9.5h0M19.0 9.7h0M23.3 8.7h0M26.5 9.3h0M27.5 8.6h0M31.7 8.8h0M0.3 12.7h0M2.3 12.8h0M6.4 11.3h0M8.8 11.5h0M13.1 12.9h0M14.7 11.3h0M18.3 11.3h0M19.8 11.9h0M22.8 12.7h0M27.5 11.0h0M29.7 11.4h0M2.3 15.2h0M4.4 14.8h0M7.1 14.3h0M10.6 14.7h0M12.7 15.7h0M16.6 15.5h0M18.3 14.7h0M22.7 15.0h0M26.6 15.7h0M27.8 16.0h0M32.2 15.8h0M0.1 19.0h0M3.2 18.5h0M5.4 18.1h0M9.0 18.6h0M11.4 18.2h0M16.1 18.8h0M17.8 17.5h0M21.3 17.3h0M24.5 17.4h0M27.1 17.8h0M29.7 18.0h0M2.6 21.6h0M4.3 21.8h0M8.3 21.8h0M11.3 21.7h0M14.0 21.2h0M16.5 21.0h0M19.6 21.5h0M21.7 21.9h0M25.5 20.2h0M27.8 21.8h0M32.3 20.8h0M-0.8 24.4h0M2.7 23.9h0M5.6 23.1h0M8.0 25.0h0M10.9 23.5h0M15.2 23.1h0M17.8 24.2h0M20.4 23.5h0M23.7 23.4h0M27.9 23.1h0M30.2 24.0h0M2.1 27.7h0M3.6 26.6h0M8.0 26.4h0M9.6 27.1h0M12.5 26.1h0M17.6 27.0h0M19.8 27.5h0M21.7 27.9h0M24.5 26.1h0M28.8 27.7h0M31.1 26.6h0M-0.5 30.3h0M3.2 29.4h0M5.3 30.7h0M10.1 30.8h0M13.0 29.3h0M14.7 29.9h0M17.3 30.3h0M20.3 29.4h0M23.8 30.1h0M28.1 29.9h0M29.5 29.1h0M1.4 32.5h0M5.6 33.1h0M7.8 33.3h0M10.1 32.2h0M12.3 33.5h0M17.0 32.5h0M18.8 32.9h0M21.6 32.2h0M25.8 32.3h0M28.5 32.0h0M31.4 32.2h0"/></g><path d="M531.3,187.1 Q530.8,179.8 532.3,176.6" stroke="#78a850" stroke-width="1.6" fill="none"/><path d="M531.3 187.1Q539.1 189.4 546.3 186.1Q538.6 183.8 531.3 187.1Z" fill="#78a850"/><path d="M531.3 187.1Q536.9 191.7 544.6 191.1Q539.0 186.5 531.3 187.1Z" fill="#78a850"/><path d="M531.3 187.1Q532.8 192.1 538.6 193.6Q537.1 188.5 531.3 187.1Z" fill="#78a850"/><path d="M531.3 187.1Q529.2 190.4 532.6 192.7Q534.7 189.4 531.3 187.1Z" fill="#78a850"/><path d="M531.3 187.1Q526.4 189.8 526.5 194.8Q531.4 192.1 531.3 187.1Z" fill="#78a850"/><path d="M531.3 187.1Q523.7 187.4 518.9 192.5Q526.5 192.2 531.3 187.1Z" fill="#78a850"/><path d="M531.3 187.1Q524.0 183.8 516.3 186.1Q523.5 189.4 531.3 187.1Z" fill="#78a850"/><path d="M531.3 187.1Q537.2 187.1 539.9 182.6Q534.0 182.5 531.3 187.1Z" fill="#78a850"/><path d="M531.3 187.1Q528.1 182.7 522.2 183.1Q525.3 187.5 531.3 187.1Z" fill="#78a850"/><path d="M531.3 187.1Q534.1 185.1 531.3 183.1Q528.5 185.1 531.3 187.1Z" fill="#78a850"/><ellipse cx="531.3" cy="187.4" rx="5.3" ry="2.8" fill="#78a850"/>
<defs><linearGradient id="g13" x1="0" y1="0" x2="0" y2="1"><stop offset="0" stop-color="#bcc68e"/><stop offset="1" stop-color="#a6b274"/></linearGradient></defs><clipPath id="c13"><path d="M15,36 C10,36 4,30 2,23 C0.3,17 -0.3,11 1,7 C3,2.5 27,2.5 29,7 C30.3,11 29.7,17 28,23 C26,30 20,36 15,36 Z"/></clipPath><g transform="translate(395.5,256.5) scale(0.950,0.836)"><path d="M15,36 C10,36 4,30 2,23 C0.3,17 -0.3,11 1,7 C3,2.5 27,2.5 29,7 C30.3,11 29.7,17 28,23 C26,30 20,36 15,36 Z" fill="url(#g13)"/><path clip-path="url(#c13)" stroke="#f2eab0" stroke-opacity="0.5" stroke-width="0.95" stroke-linecap="round" fill="none" d="M0.4 6.6h0M1.9 6.3h0M5.3 5.3h0M8.0 6.9h0M11.3 6.4h0M14.3 6.9h0M18.3 6.7h0M20.1 5.6h0M23.7 6.7h0M25.8 6.0h0M31.0 5.4h0M0.4 9.3h0M5.2 8.3h0M8.3 8.2h0M10.1 9.9h0M13.8 9.3h0M15.3 8.6h0M20.4 8.2h0M22.4 8.4h0M25.2 9.8h0M29.0 9.0h0M30.4 8.1h0M-0.4 12.9h0M3.3 11.3h0M6.4 12.6h0M9.5 12.6h0M12.4 11.8h0M13.9 12.7h0M18.0 11.2h0M21.2 13.0h0M24.2 12.3h0M27.0 12.8h0M31.1 12.2h0M0.6 15.5h0M5.6 14.6h0M8.2 14.7h0M11.1 14.4h0M12.6 14.5h0M17.2 14.4h0M20.3 15.1h0M22.8 15.8h0M25.1 15.6h0M28.1 14.7h0M30.9 14.5h0M0.8 18.6h0M2.7 18.8h0M6.4 18.5h0M9.2 18.7h0M11.1 18.2h0M15.4 17.7h0M19.1 18.2h0M21.0 17.3h0M23.6 17.2h0M27.3 18.9h0M29.7 18.5h0M1.0 20.2h0M4.6 22.0h0M8.1 21.5h0M10.3 21.2h0M12.3 20.1h0M17.6 20.3h0M20.0 21.8h0M22.5 21.8h0M26.3 21.4h0M27.4 20.2h0M30.4 20.7h0M-0.3 24.9h0M4.1 23.3h0M5.9 23.0h0M9.3 23.6h0M12.6 23.1h0M15.9 23.9h0M18.5 24.3h0M20.5 23.3h0M24.3 24.3h0M27.0 23.2h0M29.2 24.2h0M0.6 26.7h0M3.7 26.7h0M7.5 26.9h0M10.3 27.1h0M12.3 27.9h0M17.5 27.9h0M20.6 27.2h0M23.4 27.2h0M24.6 27.0h0M28.2 27.0h0M32.6 27.1h0M0.8 29.6h0M3.7 29.3h0M7.0 29.9h0M9.2 30.7h0M11.4 30.9h0M15.8 30.6h0M17.2 30.1h0M21.5 29.5h0M23.8 30.2h0M28.1 30.1h0M30.4 29.4h0M1.1 33.1h0M4.1 33.9h0M6.7 32.1h0M11.4 32.1h0M14.1 33.3h0M16.5 33.7h0M19.2 33.3h0M22.7 32.9h0M25.2 32.6h0M28.9 32.7h0M30.6 32.9h0"/></g><path d="M409.8,261.5 Q409.2,257.2 410.8,256.0" stroke="#588a3a" stroke-width="1.6" fill="none"/><path d="M409.8 261.5Q417.2 264.0 424.1 260.6Q416.6 258.1 409.8 261.5Z" fill="#588a3a"/><path d="M409.8 261.5Q415.0 266.1 422.4 265.3Q417.2 260.7 409.8 261.5Z" fill="#588a3a"/><path d="M409.8 261.5Q411.0 266.5 416.7 267.7Q415.5 262.7 409.8 261.5Z" fill="#588a3a"/><path d="M409.8 261.5Q407.5 264.7 411.0 266.8Q413.3 263.6 409.8 261.5Z" fill="#588a3a"/><path d="M409.8 261.5Q404.8 263.9 405.2 268.8Q410.1 266.4 409.8 261.5Z" fill="#588a3a"/><path d="M409.8 261.5Q402.4 261.5 397.9 266.6Q405.3 266.6 409.8 261.5Z" fill="#588a3a"/><path d="M409.8 261.5Q402.9 258.1 395.4 260.6Q402.3 264.0 409.8 261.5Z" fill="#588a3a"/><path d="M409.8 261.5Q415.6 261.7 418.0 257.2Q412.2 256.9 409.8 261.5Z" fill="#588a3a"/><path d="M409.8 261.5Q406.9 257.1 401.0 257.7Q403.9 262.2 409.8 261.5Z" fill="#588a3a"/><path d="M409.8 261.5Q412.7 259.6 409.8 257.7Q406.8 259.6 409.8 261.5Z" fill="#588a3a"/><ellipse cx="409.8" cy="261.8" rx="4.8" ry="2.8" fill="#588a3a"/>
<defs><linearGradient id="g14" x1="0" y1="0" x2="0" y2="1"><stop offset="0" stop-color="#e4e2d2"/><stop offset="0.58" stop-color="#e6d8c6"/><stop offset="0.8" stop-color="#e4644a"/><stop offset="1" stop-color="#dc4830"/></linearGradient></defs><clipPath id="c14"><path d="M15,36 C10,36 4,30 2,23 C0.3,17 -0.3,11 1,7 C3,2.5 27,2.5 29,7 C30.3,11 29.7,17 28,23 C26,30 20,36 15,36 Z"/></clipPath><g transform="translate(433.0,254.7) scale(1.053,0.945)"><path d="M15,36 C10,36 4,30 2,23 C0.3,17 -0.3,11 1,7 C3,2.5 27,2.5 29,7 C30.3,11 29.7,17 28,23 C26,30 20,36 15,36 Z" fill="url(#g14)"/><path clip-path="url(#c14)" stroke="#f2eab0" stroke-opacity="0.5" stroke-width="0.85" stroke-linecap="round" fill="none" d="M0.7 5.4h0M3.2 5.7h0M7.1 6.3h0M8.5 6.5h0M13.1 6.5h0M13.9 5.8h0M18.3 5.1h0M20.3 5.6h0M23.2 5.3h0M26.6 6.6h0M29.6 6.1h0M2.3 8.1h0M5.2 9.8h0M6.6 9.0h0M11.0 8.7h0M13.3 9.6h0M16.7 8.6h0M20.0 9.1h0M23.3 8.2h0M25.2 9.3h0M27.9 8.7h0M32.2 8.3h0M-0.4 11.5h0M2.8 11.4h0M5.4 12.5h0M8.5 11.1h0M12.0 13.0h0M16.0 11.9h0M19.2 12.6h0M20.7 12.2h0M24.7 12.1h0M27.2 12.7h0M29.4 11.5h0M1.7 14.0h0M4.5 14.3h0M7.4 15.1h0M11.4 14.4h0M12.4 15.9h0M16.1 15.7h0M19.1 14.4h0M23.4 14.9h0M24.4 14.2h0M29.4 14.3h0M32.7 14.8h0M-0.4 18.5h0M4.1 18.5h0M5.2 17.9h0M9.5 17.1h0M11.8 17.5h0M14.1 17.3h0M19.1 17.5h0M20.3 18.7h0M24.7 18.2h0M26.5 18.4h0M30.7 17.1h0M0.3 21.6h0M4.7 22.0h0M8.7 20.9h0M9.8 21.0h0M13.5 20.0h0M17.0 21.3h0M19.1 20.8h0M23.1 21.1h0M25.4 21.8h0M29.5 20.4h0M31.8 21.9h0M-0.8 23.4h0M2.5 24.9h0M5.6 24.2h0M9.8 23.8h0M12.3 24.7h0M14.6 23.9h0M17.6 24.5h0M20.7 24.4h0M23.1 24.2h0M26.0 24.1h0M30.9 24.7h0M1.2 27.4h0M5.1 27.7h0M7.3 27.3h0M11.1 27.7h0M13.4 27.1h0M15.6 27.1h0M18.7 26.6h0M22.6 26.9h0M24.9 27.2h0M28.0 27.9h0M32.6 26.5h0M-0.9 30.1h0M2.2 30.2h0M5.9 29.6h0M9.2 30.4h0M11.1 29.7h0M13.8 30.6h0M18.9 29.7h0M20.9 29.4h0M23.5 30.3h0M25.8 29.1h0M30.2 29.9h0M2.2 33.5h0M5.4 33.5h0M8.1 32.9h0M10.6 33.0h0M12.8 32.1h0M16.8 33.1h0M20.7 33.6h0M21.8 33.9h0M26.1 32.1h0M28.2 33.3h0M30.6 32.6h0"/></g><path d="M448.8,260.0 Q448.3,251.5 449.8,247.5" stroke="#5e9440" stroke-width="1.6" fill="none"/><path d="M448.8 260.0Q457.0 262.4 464.7 259.0Q456.5 256.6 448.8 260.0Z" fill="#5e9440"/><path d="M448.8 260.0Q454.7 264.9 462.8 264.3Q456.9 259.4 448.8 260.0Z" fill="#5e9440"/><path d="M448.8 260.0Q450.4 265.3 456.5 266.9Q454.9 261.5 448.8 260.0Z" fill="#5e9440"/><path d="M448.8 260.0Q446.6 263.5 450.2 265.9Q452.4 262.4 448.8 260.0Z" fill="#5e9440"/><path d="M448.8 260.0Q443.6 262.8 443.8 268.1Q448.9 265.3 448.8 260.0Z" fill="#5e9440"/><path d="M448.8 260.0Q440.8 260.3 435.7 265.7Q443.7 265.4 448.8 260.0Z" fill="#5e9440"/><path d="M448.8 260.0Q441.1 256.6 432.9 259.0Q440.6 262.4 448.8 260.0Z" fill="#5e9440"/><path d="M448.8 260.0Q455.1 260.0 457.9 255.2Q451.7 255.2 448.8 260.0Z" fill="#5e9440"/><path d="M448.8 260.0Q445.4 255.4 439.1 255.8Q442.5 260.5 448.8 260.0Z" fill="#5e9440"/><path d="M448.8 260.0Q451.7 257.9 448.8 255.8Q445.9 257.9 448.8 260.0Z" fill="#5e9440"/><ellipse cx="448.8" cy="260.3" rx="5.4" ry="2.8" fill="#5e9440"/>
<defs><linearGradient id="g15" x1="0" y1="0" x2="0" y2="1"><stop offset="0" stop-color="#ec6a4c"/><stop offset="1" stop-color="#e04a34"/></linearGradient></defs><clipPath id="c15"><path d="M15,36 C10,36 4,30 2,23 C0.3,17 -0.3,11 1,7 C3,2.5 27,2.5 29,7 C30.3,11 29.7,17 28,23 C26,30 20,36 15,36 Z"/></clipPath><g transform="translate(472.0,252.4) scale(1.053,1.009)"><path d="M15,36 C10,36 4,30 2,23 C0.3,17 -0.3,11 1,7 C3,2.5 27,2.5 29,7 C30.3,11 29.7,17 28,23 C26,30 20,36 15,36 Z" fill="url(#g15)"/><path clip-path="url(#c15)" stroke="#f2eab0" stroke-opacity="0.5" stroke-width="0.85" stroke-linecap="round" fill="none" d="M-0.7 5.1h0M3.9 5.2h0M6.4 6.3h0M9.6 5.3h0M12.5 5.7h0M13.8 5.6h0M18.5 5.4h0M20.7 5.6h0M22.8 6.8h0M27.9 6.7h0M29.1 6.2h0M1.6 8.3h0M4.4 9.9h0M8.7 9.7h0M11.1 9.1h0M14.5 8.1h0M17.7 8.8h0M19.2 8.7h0M22.8 8.1h0M24.5 8.7h0M28.6 8.3h0M32.3 8.7h0M-0.5 12.8h0M2.2 12.2h0M6.4 11.8h0M8.4 11.2h0M11.2 11.6h0M14.4 11.5h0M18.2 11.9h0M21.0 11.4h0M23.5 12.0h0M27.5 11.3h0M29.5 12.6h0M0.8 15.5h0M5.2 15.4h0M8.6 15.9h0M9.9 15.5h0M14.3 14.4h0M15.9 16.0h0M20.5 15.1h0M21.5 14.2h0M26.1 14.4h0M29.7 14.4h0M31.6 14.7h0M0.4 18.7h0M3.4 17.8h0M7.2 17.2h0M9.6 17.2h0M12.0 17.4h0M15.6 18.9h0M16.9 17.7h0M22.0 17.4h0M23.8 17.8h0M26.0 18.3h0M29.1 17.5h0M0.8 21.5h0M5.3 21.4h0M6.8 20.6h0M9.5 21.8h0M13.7 20.1h0M15.5 21.1h0M20.5 22.0h0M23.6 20.8h0M24.6 21.5h0M29.0 21.8h0M31.4 21.3h0M0.6 24.4h0M2.3 24.0h0M6.8 23.8h0M8.1 23.7h0M12.0 24.2h0M14.7 23.7h0M17.4 23.3h0M21.2 23.8h0M22.9 23.6h0M27.0 23.2h0M29.9 24.4h0M0.4 26.5h0M3.4 26.9h0M7.0 26.9h0M10.9 27.6h0M13.9 26.1h0M16.6 26.0h0M20.7 28.0h0M22.5 26.9h0M26.4 26.2h0M29.6 26.6h0M30.6 26.5h0M1.2 29.4h0M2.5 29.8h0M5.4 30.1h0M9.3 30.6h0M13.2 30.9h0M14.2 29.5h0M17.0 29.6h0M22.0 30.2h0M24.7 30.7h0M27.6 29.2h0M29.4 29.5h0M2.1 33.0h0M3.9 33.1h0M7.8 32.0h0M10.2 33.8h0M14.3 34.0h0M16.2 33.5h0M18.8 32.5h0M23.3 32.8h0M24.5 33.9h0M27.9 32.8h0M30.8 33.6h0"/></g><path d="M487.8,257.9 Q487.3,253.0 488.8,251.4" stroke="#6aa046" stroke-width="1.6" fill="none"/><path d="M487.8 257.9Q495.2 260.1 502.2 257.0Q494.7 254.8 487.8 257.9Z" fill="#6aa046"/><path d="M487.8 257.9Q493.1 262.3 500.5 261.7Q495.1 257.4 487.8 257.9Z" fill="#6aa046"/><path d="M487.8 257.9Q489.2 262.7 494.7 264.1Q493.3 259.3 487.8 257.9Z" fill="#6aa046"/><path d="M487.8 257.9Q485.8 261.0 489.1 263.2Q491.0 260.1 487.8 257.9Z" fill="#6aa046"/><path d="M487.8 257.9Q483.1 260.4 483.2 265.2Q487.9 262.7 487.8 257.9Z" fill="#6aa046"/><path d="M487.8 257.9Q480.5 258.2 475.9 263.0Q483.2 262.8 487.8 257.9Z" fill="#6aa046"/><path d="M487.8 257.9Q480.9 254.8 473.4 257.0Q480.4 260.1 487.8 257.9Z" fill="#6aa046"/><path d="M487.8 257.9Q493.5 257.9 496.1 253.6Q490.4 253.6 487.8 257.9Z" fill="#6aa046"/><path d="M487.8 257.9Q484.8 253.7 479.1 254.1Q482.1 258.3 487.8 257.9Z" fill="#6aa046"/><path d="M487.8 257.9Q490.5 256.0 487.8 254.1Q485.1 256.0 487.8 257.9Z" fill="#6aa046"/><ellipse cx="487.8" cy="258.2" rx="5.4" ry="2.8" fill="#6aa046"/>
<defs><linearGradient id="g16" x1="0" y1="0" x2="0" y2="1"><stop offset="0" stop-color="#cc2c2a"/><stop offset="1" stop-color="#b01c20"/></linearGradient></defs><clipPath id="c16"><path d="M15,36 C10,36 4,30 2,23 C0.3,17 -0.3,11 1,7 C3,2.5 27,2.5 29,7 C30.3,11 29.7,17 28,23 C26,30 20,36 15,36 Z"/></clipPath><g transform="translate(514.0,252.5) scale(1.100,1.006)"><path d="M15,36 C10,36 4,30 2,23 C0.3,17 -0.3,11 1,7 C3,2.5 27,2.5 29,7 C30.3,11 29.7,17 28,23 C26,30 20,36 15,36 Z" fill="url(#g16)"/><path clip-path="url(#c16)" stroke="#f07070" stroke-opacity="0.4" stroke-width="0.82" stroke-linecap="round" fill="none" d="M0.9 6.0h0M3.3 6.5h0M6.0 6.9h0M8.1 6.5h0M11.4 6.4h0M15.7 6.9h0M17.6 5.3h0M21.4 6.1h0M24.5 5.1h0M26.7 5.5h0M29.2 6.3h0M1.6 9.1h0M4.3 9.9h0M8.1 8.9h0M10.4 8.1h0M13.5 8.4h0M15.7 8.8h0M19.3 8.9h0M21.4 8.8h0M24.5 9.2h0M28.1 9.7h0M32.6 9.6h0M-0.7 12.5h0M3.6 12.1h0M5.9 12.5h0M9.0 11.5h0M11.3 11.7h0M16.1 11.5h0M17.5 12.5h0M21.8 11.6h0M23.9 11.8h0M26.2 12.8h0M30.4 12.2h0M1.5 14.0h0M5.1 14.1h0M6.9 15.5h0M11.6 15.0h0M14.2 14.5h0M17.4 15.6h0M20.3 14.3h0M22.1 15.8h0M24.6 14.6h0M27.6 14.7h0M30.3 14.5h0M0.6 17.2h0M3.9 17.7h0M6.4 18.0h0M8.8 18.6h0M12.6 17.5h0M13.9 18.1h0M17.4 17.5h0M21.5 18.4h0M23.9 18.1h0M26.6 18.2h0M29.0 18.5h0M1.1 21.9h0M4.9 20.8h0M7.8 22.0h0M11.6 20.5h0M14.3 21.9h0M16.4 20.4h0M19.7 20.5h0M23.0 20.1h0M26.2 21.8h0M28.1 20.8h0M32.2 20.8h0M-0.4 24.2h0M3.6 24.6h0M6.7 24.6h0M8.7 24.7h0M13.0 24.9h0M14.3 23.3h0M19.1 24.0h0M21.0 24.8h0M24.3 24.4h0M27.0 24.7h0M28.9 24.9h0M1.4 26.3h0M5.0 26.2h0M6.6 28.0h0M10.8 26.2h0M14.3 27.3h0M15.9 27.8h0M20.4 27.3h0M21.3 27.3h0M25.2 26.1h0M27.4 27.6h0M31.3 27.0h0M-0.7 30.1h0M1.8 30.5h0M7.0 29.7h0M7.9 30.8h0M11.4 30.7h0M14.2 29.2h0M19.1 29.1h0M20.8 31.0h0M24.2 30.1h0M27.3 29.5h0M30.5 30.1h0M2.0 33.0h0M5.3 32.4h0M8.5 33.4h0M9.7 32.9h0M14.0 32.5h0M16.0 34.0h0M19.2 33.2h0M21.4 33.5h0M25.4 32.1h0M29.1 33.5h0M32.2 32.3h0"/></g><path d="M530.5,258.0 Q530.0,250.7 531.5,247.5" stroke="#62a044" stroke-width="1.6" fill="none"/><path d="M530.5 258.0Q538.6 260.3 546.3 257.0Q538.1 254.7 530.5 258.0Z" fill="#62a044"/><path d="M530.5 258.0Q536.4 262.7 544.5 262.2Q538.5 257.5 530.5 258.0Z" fill="#62a044"/><path d="M530.5 258.0Q532.2 263.2 538.1 264.8Q536.5 259.6 530.5 258.0Z" fill="#62a044"/><path d="M530.5 258.0Q528.4 261.4 531.9 263.8Q533.9 260.4 530.5 258.0Z" fill="#62a044"/><path d="M530.5 258.0Q525.5 260.9 525.5 266.1Q530.5 263.2 530.5 258.0Z" fill="#62a044"/><path d="M530.5 258.0Q522.6 258.4 517.5 263.6Q525.4 263.2 530.5 258.0Z" fill="#62a044"/><path d="M530.5 258.0Q522.9 254.7 514.7 257.0Q522.4 260.3 530.5 258.0Z" fill="#62a044"/><path d="M530.5 258.0Q536.6 257.9 539.6 253.2Q533.4 253.3 530.5 258.0Z" fill="#62a044"/><path d="M530.5 258.0Q527.1 253.5 520.9 253.8Q524.3 258.3 530.5 258.0Z" fill="#62a044"/><path d="M530.5 258.0Q533.3 255.9 530.5 253.8Q527.7 255.9 530.5 258.0Z" fill="#62a044"/><ellipse cx="530.5" cy="258.3" rx="5.6" ry="2.8" fill="#62a044"/>
<defs><linearGradient id="g17" x1="0" y1="0" x2="0" y2="1"><stop offset="0" stop-color="#c9cf98"/><stop offset="1" stop-color="#b8c084"/></linearGradient></defs><clipPath id="c17"><path d="M15,36 C8,36 1.5,29 0.7,21 C0,14 1.5,6.5 6,5 C10,3.5 20,3.5 24,5 C28.5,6.5 30,14 29.3,21 C28.5,29 22,36 15,36 Z"/></clipPath><g transform="translate(397.0,322.6) scale(0.800,0.803)"><path d="M15,36 C8,36 1.5,29 0.7,21 C0,14 1.5,6.5 6,5 C10,3.5 20,3.5 24,5 C28.5,6.5 30,14 29.3,21 C28.5,29 22,36 15,36 Z" fill="url(#g17)"/><path clip-path="url(#c17)" stroke="#f2eab0" stroke-opacity="0.5" stroke-width="1.12" stroke-linecap="round" fill="none" d="M0.4 5.1h0M2.3 6.2h0M6.4 6.8h0M8.9 5.4h0M11.1 6.1h0M14.4 5.1h0M17.5 6.2h0M21.0 6.6h0M24.5 6.1h0M27.6 5.1h0M30.9 6.1h0M1.8 8.3h0M4.2 9.7h0M6.8 8.8h0M10.3 8.0h0M13.5 9.0h0M16.6 8.0h0M18.8 8.2h0M23.0 9.5h0M25.9 8.6h0M28.9 9.9h0M31.4 8.2h0M-0.3 11.4h0M1.9 12.9h0M5.1 12.8h0M9.2 11.4h0M12.6 11.7h0M14.9 12.0h0M17.2 12.6h0M20.6 12.2h0M23.0 12.6h0M26.3 11.2h0M30.0 12.3h0M0.6 15.9h0M3.8 15.5h0M8.7 15.4h0M10.2 14.4h0M13.1 14.2h0M16.1 15.4h0M19.7 15.1h0M21.6 14.9h0M25.3 16.0h0M28.6 15.3h0M32.1 15.4h0M-0.3 18.5h0M3.2 18.8h0M5.6 17.1h0M9.9 18.6h0M11.6 17.2h0M15.5 17.7h0M18.6 17.2h0M21.5 18.2h0M22.9 17.8h0M27.5 18.0h0M29.9 17.3h0M0.8 20.3h0M5.4 20.5h0M6.9 21.5h0M10.3 22.0h0M14.7 20.8h0M17.5 21.3h0M20.4 20.5h0M21.6 20.5h0M25.1 21.6h0M28.4 20.6h0M31.3 21.9h0M-0.4 23.9h0M3.8 23.8h0M5.5 24.3h0M10.1 24.3h0M12.9 24.6h0M15.0 24.8h0M16.9 24.1h0M19.8 23.9h0M25.0 23.3h0M27.0 23.9h0M29.4 23.5h0M2.5 26.2h0M5.7 27.7h0M6.8 27.5h0M9.4 27.6h0M14.2 26.4h0M17.3 26.8h0M18.4 26.1h0M22.8 27.0h0M26.0 26.4h0M28.3 26.2h0M32.4 27.2h0M0.3 30.9h0M1.8 31.0h0M6.6 30.7h0M10.1 29.5h0M12.7 30.1h0M14.2 29.9h0M17.2 29.5h0M21.9 29.4h0M24.3 30.9h0M27.5 29.1h0M29.9 30.0h0M1.6 33.5h0M3.6 32.8h0M8.6 33.5h0M10.1 32.7h0M12.5 32.7h0M16.6 33.4h0M20.3 32.9h0M23.4 33.8h0M25.0 33.1h0M28.2 33.9h0M31.1 32.9h0"/></g><path d="M409.0,327.5 Q408.5,322.0 410.0,320.0" stroke="#8cac60" stroke-width="1.6" fill="none"/><path d="M409.0 327.5Q414.7 329.8 419.9 326.8Q414.2 324.5 409.0 327.5Z" fill="#8cac60"/><path d="M409.0 327.5Q412.8 331.4 418.6 330.4Q414.8 326.5 409.0 327.5Z" fill="#8cac60"/><path d="M409.0 327.5Q409.6 331.6 414.3 332.2Q413.7 328.1 409.0 327.5Z" fill="#8cac60"/><path d="M409.0 327.5Q406.9 330.0 410.0 331.5Q412.1 329.1 409.0 327.5Z" fill="#8cac60"/><path d="M409.0 327.5Q404.9 329.2 405.5 333.1Q409.7 331.4 409.0 327.5Z" fill="#8cac60"/><path d="M409.0 327.5Q403.2 327.1 400.0 331.4Q405.8 331.8 409.0 327.5Z" fill="#8cac60"/><path d="M409.0 327.5Q403.8 324.5 398.1 326.8Q403.3 329.8 409.0 327.5Z" fill="#8cac60"/><path d="M409.0 327.5Q413.7 328.0 415.3 324.2Q410.6 323.7 409.0 327.5Z" fill="#8cac60"/><path d="M409.0 327.5Q407.0 323.8 402.4 324.6Q404.4 328.4 409.0 327.5Z" fill="#8cac60"/><path d="M409.0 327.5Q411.7 326.1 409.0 324.6Q406.3 326.1 409.0 327.5Z" fill="#8cac60"/><ellipse cx="409.0" cy="327.8" rx="4.1" ry="2.8" fill="#8cac60"/>
<defs><linearGradient id="g18" x1="0" y1="0" x2="0" y2="1"><stop offset="0" stop-color="#e8e8da"/><stop offset="1" stop-color="#dcdcc8"/></linearGradient></defs><clipPath id="c18"><path d="M15,36 C8,36 1.5,29 0.7,21 C0,14 1.5,6.5 6,5 C10,3.5 20,3.5 24,5 C28.5,6.5 30,14 29.3,21 C28.5,29 22,36 15,36 Z"/></clipPath><g transform="translate(436.0,324.9) scale(0.900,0.697)"><path d="M15,36 C8,36 1.5,29 0.7,21 C0,14 1.5,6.5 6,5 C10,3.5 20,3.5 24,5 C28.5,6.5 30,14 29.3,21 C28.5,29 22,36 15,36 Z" fill="url(#g18)"/><path clip-path="url(#c18)" stroke="#d06050" stroke-opacity="0.3" stroke-width="1.00" stroke-linecap="round" fill="none" d="M1.0 6.2h0M2.8 6.1h0M5.7 5.8h0M9.0 5.6h0M12.8 6.2h0M14.2 6.3h0M17.8 5.7h0M21.9 6.2h0M23.3 6.3h0M27.9 5.0h0M30.6 5.3h0M2.5 8.3h0M5.0 8.8h0M6.9 9.1h0M10.6 8.7h0M14.4 8.2h0M15.9 9.9h0M20.1 8.1h0M22.5 9.7h0M25.5 8.1h0M27.9 8.6h0M31.6 8.0h0M-1.1 11.6h0M2.0 12.1h0M6.8 11.5h0M10.1 11.5h0M11.7 12.0h0M15.3 11.1h0M17.2 11.6h0M20.2 11.3h0M24.7 12.8h0M27.0 12.1h0M31.2 11.4h0M0.4 14.4h0M5.4 14.8h0M6.7 14.9h0M9.5 14.7h0M13.7 14.1h0M15.6 14.5h0M19.5 14.5h0M21.6 15.4h0M25.3 15.6h0M28.6 15.0h0M31.9 15.6h0M0.2 17.4h0M2.8 18.9h0M6.1 18.2h0M9.1 18.6h0M13.0 18.2h0M14.8 18.3h0M18.4 18.6h0M19.9 17.9h0M23.9 18.6h0M28.0 17.9h0M28.9 17.4h0M2.0 20.0h0M4.5 20.4h0M7.9 20.3h0M11.7 20.7h0M13.3 20.8h0M17.5 20.4h0M19.1 20.9h0M23.5 20.9h0M26.2 21.6h0M28.0 20.6h0M31.0 20.2h0M-0.8 24.8h0M2.5 24.5h0M5.9 24.9h0M9.3 23.2h0M12.1 23.5h0M14.4 24.5h0M17.0 23.1h0M20.9 24.2h0M24.9 23.7h0M26.6 24.9h0M29.4 23.8h0M1.2 26.0h0M5.2 27.2h0M8.5 27.8h0M9.7 27.6h0M14.6 26.2h0M16.7 26.4h0M18.5 26.7h0M22.1 27.9h0M25.9 26.7h0M28.4 27.6h0M31.0 27.3h0M-1.0 30.8h0M3.7 30.2h0M6.0 30.8h0M10.0 29.3h0M11.8 30.8h0M16.2 30.4h0M18.0 29.8h0M21.5 29.2h0M24.9 29.6h0M26.8 30.3h0M31.1 29.8h0M0.4 33.1h0M3.9 32.3h0M6.5 33.3h0M11.5 32.9h0M14.5 33.1h0M16.6 32.1h0M19.1 32.4h0M22.6 32.6h0M25.4 33.3h0M28.9 33.3h0M30.4 32.7h0"/></g><path d="M449.5,329.5 Q449.0,322.8 450.5,320.0" stroke="#84aa58" stroke-width="1.6" fill="none"/><path d="M449.5 329.5Q455.2 331.5 460.5 328.8Q454.8 326.8 449.5 329.5Z" fill="#84aa58"/><path d="M449.5 329.5Q453.5 333.2 459.2 332.4Q455.2 328.8 449.5 329.5Z" fill="#84aa58"/><path d="M449.5 329.5Q450.3 333.4 454.8 334.2Q454.0 330.3 449.5 329.5Z" fill="#84aa58"/><path d="M449.5 329.5Q447.6 331.9 450.5 333.6Q452.3 331.1 449.5 329.5Z" fill="#84aa58"/><path d="M449.5 329.5Q445.6 331.3 446.0 335.1Q449.9 333.3 449.5 329.5Z" fill="#84aa58"/><path d="M449.5 329.5Q443.8 329.4 440.4 333.4Q446.2 333.5 449.5 329.5Z" fill="#84aa58"/><path d="M449.5 329.5Q444.2 326.8 438.5 328.8Q443.8 331.5 449.5 329.5Z" fill="#84aa58"/><path d="M449.5 329.5Q454.0 329.8 455.8 326.2Q451.3 325.9 449.5 329.5Z" fill="#84aa58"/><path d="M449.5 329.5Q447.4 326.0 442.8 326.6Q445.0 330.1 449.5 329.5Z" fill="#84aa58"/><path d="M449.5 329.5Q451.9 328.1 449.5 326.6Q447.1 328.1 449.5 329.5Z" fill="#84aa58"/><ellipse cx="449.5" cy="329.8" rx="4.6" ry="2.8" fill="#84aa58"/>
<defs><linearGradient id="g19" x1="0" y1="0" x2="0" y2="1"><stop offset="0" stop-color="#eadad2"/><stop offset="1" stop-color="#e2c6bc"/></linearGradient></defs><clipPath id="c19"><path d="M15,36 C8,36 1.5,29 0.7,21 C0,14 1.5,6.5 6,5 C10,3.5 20,3.5 24,5 C28.5,6.5 30,14 29.3,21 C28.5,29 22,36 15,36 Z"/></clipPath><g transform="translate(475.0,323.7) scale(1.000,0.773)"><path d="M15,36 C8,36 1.5,29 0.7,21 C0,14 1.5,6.5 6,5 C10,3.5 20,3.5 24,5 C28.5,6.5 30,14 29.3,21 C28.5,29 22,36 15,36 Z" fill="url(#g19)"/><path clip-path="url(#c19)" stroke="#cc3a3a" stroke-opacity="0.75" stroke-width="1.00" stroke-linecap="round" fill="none" d="M1.1 6.9h0M4.0 5.0h0M5.5 5.5h0M9.9 6.4h0M12.9 6.9h0M15.4 6.4h0M18.2 5.1h0M21.6 5.4h0M23.4 5.7h0M26.9 6.4h0M31.1 6.2h0M1.5 8.2h0M4.1 8.2h0M6.9 9.3h0M9.8 9.1h0M13.8 9.4h0M16.9 10.0h0M18.5 8.5h0M22.6 9.3h0M25.4 8.6h0M27.8 9.9h0M32.0 8.2h0M-0.5 11.4h0M3.0 11.1h0M5.4 11.3h0M8.3 13.0h0M11.9 12.4h0M14.4 12.9h0M17.7 12.6h0M20.7 13.0h0M24.6 11.1h0M26.3 11.1h0M29.1 12.1h0M0.5 14.2h0M4.9 15.0h0M8.3 14.9h0M10.8 15.7h0M12.5 15.0h0M15.5 15.4h0M19.5 15.7h0M23.0 15.4h0M25.9 14.6h0M28.7 14.1h0M32.0 15.9h0M0.5 17.5h0M2.3 18.0h0M5.7 18.4h0M9.1 17.8h0M12.1 18.6h0M15.9 17.1h0M17.5 19.0h0M20.3 18.5h0M23.5 17.4h0M26.7 18.9h0M28.8 18.1h0M1.2 21.8h0M5.1 21.9h0M7.8 20.8h0M11.2 21.6h0M13.2 20.5h0M17.3 21.7h0M19.9 21.0h0M22.9 22.0h0M25.3 21.2h0M28.5 21.2h0M30.5 20.0h0M0.6 24.7h0M2.7 24.8h0M5.1 23.2h0M8.8 23.7h0M10.9 23.4h0M14.9 23.6h0M19.0 24.1h0M20.8 23.2h0M25.0 23.4h0M28.1 23.9h0M30.2 23.1h0M1.0 26.7h0M3.6 26.6h0M6.6 27.4h0M9.5 26.9h0M12.7 27.1h0M16.8 27.4h0M20.4 26.6h0M23.2 27.2h0M26.1 26.7h0M29.6 26.8h0M30.5 27.7h0M0.8 31.0h0M2.6 29.5h0M5.4 29.5h0M8.4 30.1h0M11.8 30.7h0M16.2 29.1h0M18.9 30.2h0M20.9 29.8h0M24.7 30.2h0M26.2 30.7h0M29.3 29.1h0M0.8 32.1h0M5.1 33.7h0M6.3 32.0h0M11.1 32.6h0M13.1 33.2h0M16.4 32.4h0M19.3 33.2h0M21.7 32.9h0M26.2 32.4h0M28.4 33.4h0M30.6 33.6h0"/></g><path d="M490.0,328.5 Q489.5,322.4 491.0,320.0" stroke="#7aa852" stroke-width="1.6" fill="none"/><path d="M490.0 328.5Q496.7 330.6 502.9 327.7Q496.2 325.6 490.0 328.5Z" fill="#7aa852"/><path d="M490.0 328.5Q494.8 332.6 501.4 332.0Q496.7 327.9 490.0 328.5Z" fill="#7aa852"/><path d="M490.0 328.5Q491.2 332.9 496.2 334.1Q495.1 329.7 490.0 328.5Z" fill="#7aa852"/><path d="M490.0 328.5Q488.1 331.3 491.1 333.3Q493.0 330.5 490.0 328.5Z" fill="#7aa852"/><path d="M490.0 328.5Q485.7 330.7 485.9 335.1Q490.2 332.9 490.0 328.5Z" fill="#7aa852"/><path d="M490.0 328.5Q483.4 328.6 479.3 333.1Q485.9 333.0 490.0 328.5Z" fill="#7aa852"/><path d="M490.0 328.5Q483.8 325.6 477.1 327.7Q483.3 330.6 490.0 328.5Z" fill="#7aa852"/><path d="M490.0 328.5Q495.2 328.6 497.4 324.6Q492.3 324.5 490.0 328.5Z" fill="#7aa852"/><path d="M490.0 328.5Q487.3 324.6 482.1 325.1Q484.8 329.0 490.0 328.5Z" fill="#7aa852"/><path d="M490.0 328.5Q492.5 326.8 490.0 325.1Q487.5 326.8 490.0 328.5Z" fill="#7aa852"/><ellipse cx="490.0" cy="328.8" rx="5.1" ry="2.8" fill="#7aa852"/>
<defs><linearGradient id="g20" x1="0" y1="0" x2="0" y2="1"><stop offset="0" stop-color="#ecc6b8"/><stop offset="1" stop-color="#e2b6a6"/></linearGradient></defs><clipPath id="c20"><path d="M15,36 C8,36 1.5,29 0.7,21 C0,14 1.5,6.5 6,5 C10,3.5 20,3.5 24,5 C28.5,6.5 30,14 29.3,21 C28.5,29 22,36 15,36 Z"/></clipPath><g transform="translate(518.6,322.1) scale(0.947,0.776)"><path d="M15,36 C8,36 1.5,29 0.7,21 C0,14 1.5,6.5 6,5 C10,3.5 20,3.5 24,5 C28.5,6.5 30,14 29.3,21 C28.5,29 22,36 15,36 Z" fill="url(#g20)"/><path clip-path="url(#c20)" stroke="#cc3a3a" stroke-opacity="0.75" stroke-width="1.06" stroke-linecap="round" fill="none" d="M-0.8 5.9h0M3.6 5.9h0M5.7 6.2h0M9.1 5.7h0M12.5 6.1h0M15.5 6.9h0M17.3 5.4h0M21.6 5.5h0M23.6 6.6h0M26.9 6.5h0M30.7 5.0h0M0.9 9.0h0M4.3 8.2h0M6.8 8.5h0M11.1 9.5h0M12.8 8.6h0M16.8 9.0h0M18.5 9.6h0M23.5 9.6h0M26.6 8.4h0M28.3 9.3h0M31.3 8.6h0M-0.4 11.8h0M3.6 12.2h0M4.9 11.9h0M9.1 11.8h0M11.1 11.6h0M14.4 12.3h0M17.6 12.6h0M21.6 12.7h0M25.1 12.4h0M26.5 11.0h0M30.2 11.7h0M2.1 15.3h0M4.3 15.1h0M6.7 15.0h0M10.9 14.9h0M14.7 15.5h0M17.3 15.9h0M20.3 15.5h0M22.8 14.7h0M26.1 15.5h0M27.9 14.9h0M32.1 14.1h0M-1.2 18.8h0M3.4 17.1h0M5.7 17.9h0M8.0 17.8h0M12.7 18.7h0M15.3 17.2h0M17.3 17.3h0M21.4 17.1h0M25.2 18.8h0M26.8 17.4h0M29.7 19.0h0M2.7 21.0h0M4.4 21.2h0M8.3 21.9h0M10.6 21.0h0M13.8 21.2h0M17.3 20.3h0M20.0 20.6h0M21.9 21.4h0M25.3 20.7h0M28.6 20.9h0M31.9 20.7h0M-1.1 23.9h0M2.8 23.3h0M5.7 24.9h0M8.6 25.0h0M12.5 23.2h0M13.9 24.1h0M19.0 23.9h0M21.5 24.5h0M23.1 24.3h0M26.6 24.2h0M31.0 24.7h0M0.8 26.8h0M3.4 27.1h0M6.7 27.0h0M11.5 27.4h0M14.7 27.9h0M15.7 26.8h0M18.5 27.8h0M21.6 26.4h0M26.4 26.6h0M29.6 27.2h0M32.3 27.3h0M0.7 30.1h0M3.6 29.3h0M5.7 31.0h0M8.4 29.2h0M11.3 29.4h0M14.8 30.2h0M17.6 29.4h0M20.7 29.8h0M24.2 30.6h0M26.5 29.7h0M29.7 29.4h0M2.7 32.2h0M4.5 33.7h0M7.6 32.6h0M11.5 32.4h0M14.2 33.6h0M17.7 32.5h0M19.3 32.5h0M21.7 33.0h0M24.8 33.2h0M28.9 32.8h0M31.7 33.5h0"/></g><path d="M532.8,326.9 Q532.3,319.6 533.8,316.4" stroke="#78a850" stroke-width="1.6" fill="none"/><path d="M532.8 326.9Q539.1 329.0 545.0 326.1Q538.7 324.0 532.8 326.9Z" fill="#78a850"/><path d="M532.8 326.9Q537.3 330.9 543.6 330.2Q539.1 326.2 532.8 326.9Z" fill="#78a850"/><path d="M532.8 326.9Q533.8 331.2 538.7 332.2Q537.7 327.9 532.8 326.9Z" fill="#78a850"/><path d="M532.8 326.9Q530.9 329.6 533.9 331.4Q535.8 328.7 532.8 326.9Z" fill="#78a850"/><path d="M532.8 326.9Q528.6 329.0 528.9 333.2Q533.1 331.1 532.8 326.9Z" fill="#78a850"/><path d="M532.8 326.9Q526.5 326.9 522.7 331.3Q529.0 331.3 532.8 326.9Z" fill="#78a850"/><path d="M532.8 326.9Q526.9 324.0 520.6 326.1Q526.5 329.0 532.8 326.9Z" fill="#78a850"/><path d="M532.8 326.9Q537.8 327.1 539.8 323.2Q534.9 323.0 532.8 326.9Z" fill="#78a850"/><path d="M532.8 326.9Q530.3 323.1 525.4 323.7Q527.8 327.5 532.8 326.9Z" fill="#78a850"/><path d="M532.8 326.9Q535.3 325.3 532.8 323.7Q530.3 325.3 532.8 326.9Z" fill="#78a850"/><ellipse cx="532.8" cy="327.2" rx="4.8" ry="2.8" fill="#78a850"/>
<g fill="#111">
<text x="395.5" y="23" font-weight="bold" font-size="11.3">Akihime</text>
<text x="397" y="93.5" font-weight="bold" font-size="11.3">Benihoppe</text>
<text x="397.5" y="171.5" font-weight="bold" font-size="11.3">Ningyu</text>
<text x="397.5" y="241.5" font-weight="bold" font-size="11.3">Hongyu</text>
<text x="399" y="307.5" font-weight="bold" font-size="11.3">Fenyu</text>
<text transform="translate(414.5,361) rotate(-90)" text-anchor="end" font-weight="bold" font-size="11.5">Big Green</text>
<text transform="translate(454.5,361) rotate(-90)" text-anchor="end" font-weight="bold" font-size="11.5" style="white-space:pre">Half  Red</text>
<text transform="translate(495.5,361) rotate(-90)" text-anchor="end" font-weight="bold" font-size="11.5">Red</text>
<text transform="translate(534.5,361) rotate(-90)" text-anchor="end" font-weight="bold" font-size="11.5">Overripe</text>
</g>
<g fill="#222"><defs><linearGradient id="cbg" x1="0" y1="0" x2="0" y2="1"><stop offset="0.0000" stop-color="#d22a2a"/><stop offset="0.1429" stop-color="#dc6a5a"/><stop offset="0.2857" stop-color="#e8a884"/><stop offset="0.4429" stop-color="#f0eaa4"/><stop offset="0.5714" stop-color="#b9bfac"/><stop offset="0.7143" stop-color="#7a8db4"/><stop offset="0.8571" stop-color="#4060ac"/><stop offset="1.0000" stop-color="#0c2ca4"/></linearGradient></defs>
<rect x="403" y="461.5" width="17.5" height="171.5" fill="url(#cbg)"/>
<line x1="420.5" y1="461.5" x2="420.5" y2="633" stroke="#333" stroke-width="1.2"/>
<line x1="420.5" y1="461.50" x2="423.5" y2="461.50" stroke="#333" stroke-width="1"/><text x="456" y="466.80" text-anchor="end" font-size="12">4.00</text><line x1="420.5" y1="486.00" x2="423.5" y2="486.00" stroke="#333" stroke-width="1"/><text x="456" y="490.70" text-anchor="end" font-size="12">3.00</text><line x1="420.5" y1="510.50" x2="423.5" y2="510.50" stroke="#333" stroke-width="1"/><text x="456" y="514.60" text-anchor="end" font-size="12">2.00</text><line x1="420.5" y1="535.00" x2="423.5" y2="535.00" stroke="#333" stroke-width="1"/><text x="456" y="538.50" text-anchor="end" font-size="12">1.00</text><line x1="420.5" y1="559.50" x2="423.5" y2="559.50" stroke="#333" stroke-width="1"/><text x="456" y="562.40" text-anchor="end" font-size="12">0.00</text><line x1="420.5" y1="584.00" x2="423.5" y2="584.00" stroke="#333" stroke-width="1"/><text x="456" y="586.30" text-anchor="end" font-size="12">−1.00</text><line x1="420.5" y1="608.50" x2="423.5" y2="608.50" stroke="#333" stroke-width="1"/><text x="456" y="610.20" text-anchor="end" font-size="12">−2.00</text><line x1="420.5" y1="633.00" x2="423.5" y2="633.00" stroke="#333" stroke-width="1"/><text x="456" y="634.10" text-anchor="end" font-size="12">−3.00</text>
<text x="398.5" y="445.5" font-weight="bold" font-size="11.7">Log2(Fold change)</text></g>
</svg>
</body></html>
